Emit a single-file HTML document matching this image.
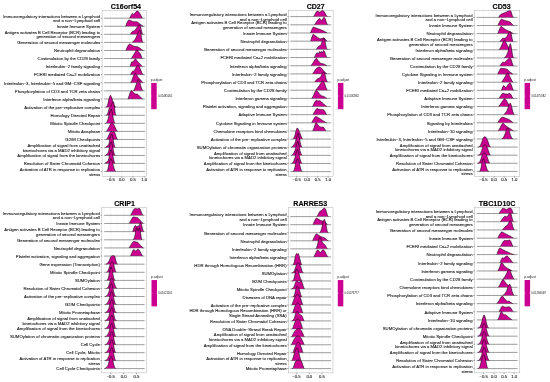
<!DOCTYPE html>
<html lang="en">
<head>
<meta charset="utf-8">
<title>GSEA ridge plots</title>
<style>
html,body{margin:0;padding:0;background:#fff;}
body{width:550px;height:382px;overflow:hidden;}
svg{display:block;font-family:"Liberation Sans",Arial,sans-serif;}
.lab text{stroke:#1a1a1a;stroke-width:1px;}
</style>
</head>
<body>
<svg width="550" height="382" viewBox="0 0 550 382">
<rect x="0" y="0" width="550" height="382" fill="#ffffff"/>
<g>
<line x1="105" y1="10.4" x2="105" y2="176.4" stroke="#f2f2f2" stroke-width="0.3"/>
<line x1="116.2" y1="10.4" x2="116.2" y2="176.4" stroke="#f2f2f2" stroke-width="0.3"/>
<line x1="127.4" y1="10.4" x2="127.4" y2="176.4" stroke="#f2f2f2" stroke-width="0.3"/>
<line x1="138.6" y1="10.4" x2="138.6" y2="176.4" stroke="#f2f2f2" stroke-width="0.3"/>
<line x1="110.6" y1="10.4" x2="110.6" y2="176.4" stroke="#ebebeb" stroke-width="0.45"/>
<line x1="121.8" y1="10.4" x2="121.8" y2="176.4" stroke="#ebebeb" stroke-width="0.45"/>
<line x1="133" y1="10.4" x2="133" y2="176.4" stroke="#ebebeb" stroke-width="0.45"/>
<line x1="144.2" y1="10.4" x2="144.2" y2="176.4" stroke="#ebebeb" stroke-width="0.45"/>
<line x1="102.1" y1="18.2" x2="146.4" y2="18.2" stroke="#ebebeb" stroke-width="0.45"/>
<line x1="102.1" y1="26.27" x2="146.4" y2="26.27" stroke="#ebebeb" stroke-width="0.45"/>
<line x1="102.1" y1="34.33" x2="146.4" y2="34.33" stroke="#ebebeb" stroke-width="0.45"/>
<line x1="102.1" y1="42.4" x2="146.4" y2="42.4" stroke="#ebebeb" stroke-width="0.45"/>
<line x1="102.1" y1="50.47" x2="146.4" y2="50.47" stroke="#ebebeb" stroke-width="0.45"/>
<line x1="102.1" y1="58.53" x2="146.4" y2="58.53" stroke="#ebebeb" stroke-width="0.45"/>
<line x1="102.1" y1="66.6" x2="146.4" y2="66.6" stroke="#ebebeb" stroke-width="0.45"/>
<line x1="102.1" y1="74.67" x2="146.4" y2="74.67" stroke="#ebebeb" stroke-width="0.45"/>
<line x1="102.1" y1="82.73" x2="146.4" y2="82.73" stroke="#ebebeb" stroke-width="0.45"/>
<line x1="102.1" y1="90.86" x2="146.4" y2="90.86" stroke="#ebebeb" stroke-width="0.45"/>
<line x1="102.1" y1="98.98" x2="146.4" y2="98.98" stroke="#ebebeb" stroke-width="0.45"/>
<line x1="102.1" y1="107.15" x2="146.4" y2="107.15" stroke="#ebebeb" stroke-width="0.45"/>
<line x1="102.1" y1="115.31" x2="146.4" y2="115.31" stroke="#ebebeb" stroke-width="0.45"/>
<line x1="102.1" y1="123.37" x2="146.4" y2="123.37" stroke="#ebebeb" stroke-width="0.45"/>
<line x1="102.1" y1="131.42" x2="146.4" y2="131.42" stroke="#ebebeb" stroke-width="0.45"/>
<line x1="102.1" y1="139.47" x2="146.4" y2="139.47" stroke="#ebebeb" stroke-width="0.45"/>
<line x1="102.1" y1="147.46" x2="146.4" y2="147.46" stroke="#ebebeb" stroke-width="0.45"/>
<line x1="102.1" y1="155.46" x2="146.4" y2="155.46" stroke="#ebebeb" stroke-width="0.45"/>
<line x1="102.1" y1="163.45" x2="146.4" y2="163.45" stroke="#ebebeb" stroke-width="0.45"/>
<line x1="102.1" y1="171.45" x2="146.4" y2="171.45" stroke="#ebebeb" stroke-width="0.45"/>
</g>
<g stroke-linejoin="round">
<path d="M129.7 18.2 L130.1 17.33 L130.5 16.52 L130.9 15.77 L131.3 15.03 L131.7 14.25 L132.1 13.66 L132.5 13.53 L132.9 13.97 L133.3 14.3 L133.7 14.16 L134.1 13.86 L134.5 13.51 L134.9 13.08 L135.3 12.58 L135.7 12.1 L136.1 11.68 L136.5 11.22 L136.9 10.85 L137.3 10.7 L137.7 10.86 L138.1 11.24 L138.5 11.69 L138.9 12.15 L139.3 12.69 L139.7 13.29 L140.1 13.93 L140.5 14.65 L140.9 15.41 L141.3 16.18 L141.7 16.97 L142.1 17.78 L142.3 18.2 Z" fill="#cc0090" stroke="none"/>
<path d="M104.2 18.2 L144.8 18.2" stroke="#555" stroke-width="0.55" fill="none"/>
<path d="M129.7 18.2 L130.1 17.33 L130.5 16.52 L130.9 15.77 L131.3 15.03 L131.7 14.25 L132.1 13.66 L132.5 13.53 L132.9 13.97 L133.3 14.3 L133.7 14.16 L134.1 13.86 L134.5 13.51 L134.9 13.08 L135.3 12.58 L135.7 12.1 L136.1 11.68 L136.5 11.22 L136.9 10.85 L137.3 10.7 L137.7 10.86 L138.1 11.24 L138.5 11.69 L138.9 12.15 L139.3 12.69 L139.7 13.29 L140.1 13.93 L140.5 14.65 L140.9 15.41 L141.3 16.18 L141.7 16.97 L142.1 17.78 L142.3 18.2" fill="none" stroke="#1a0014" stroke-width="0.62"/>
<path d="M125.7 26.27 L126.1 25.11 L126.5 24.04 L126.9 23.09 L127.3 22.27 L127.7 21.43 L128.1 20.65 L128.5 20.11 L128.9 19.97 L129.3 20.03 L129.7 20.15 L130.1 20.3 L130.5 20.47 L130.9 20.63 L131.3 20.79 L131.7 20.99 L132.1 21.2 L132.5 21.4 L132.9 21.56 L133.3 21.65 L133.7 21.67 L134.1 21.67 L134.5 21.67 L134.9 21.67 L135.3 21.67 L135.7 21.67 L136.1 21.67 L136.5 21.67 L136.9 21.71 L137.3 21.9 L137.7 22.17 L138.1 22.5 L138.5 22.84 L138.9 23.14 L139.3 23.43 L139.7 23.75 L140.1 24.07 L140.5 24.39 L140.9 24.69 L141.3 24.98 L141.7 25.26 L142.1 25.54 L142.5 25.81 L142.9 26.07 L143.2 26.27 Z" fill="#cc0090" stroke="none"/>
<path d="M104.2 26.27 L144.8 26.27" stroke="#555" stroke-width="0.55" fill="none"/>
<path d="M125.7 26.27 L126.1 25.11 L126.5 24.04 L126.9 23.09 L127.3 22.27 L127.7 21.43 L128.1 20.65 L128.5 20.11 L128.9 19.97 L129.3 20.03 L129.7 20.15 L130.1 20.3 L130.5 20.47 L130.9 20.63 L131.3 20.79 L131.7 20.99 L132.1 21.2 L132.5 21.4 L132.9 21.56 L133.3 21.65 L133.7 21.67 L134.1 21.67 L134.5 21.67 L134.9 21.67 L135.3 21.67 L135.7 21.67 L136.1 21.67 L136.5 21.67 L136.9 21.71 L137.3 21.9 L137.7 22.17 L138.1 22.5 L138.5 22.84 L138.9 23.14 L139.3 23.43 L139.7 23.75 L140.1 24.07 L140.5 24.39 L140.9 24.69 L141.3 24.98 L141.7 25.26 L142.1 25.54 L142.5 25.81 L142.9 26.07 L143.2 26.27" fill="none" stroke="#1a0014" stroke-width="0.62"/>
<path d="M130.5 34.33 L130.9 33.53 L131.3 32.83 L131.7 32.25 L132.1 31.79 L132.5 31.41 L132.9 31.2 L133.3 31.1 L133.7 31.02 L134.1 30.89 L134.5 30.6 L134.9 30.18 L135.3 29.7 L135.7 29.21 L136.1 28.68 L136.5 28.09 L136.9 27.48 L137.3 26.88 L137.7 26.27 L138.1 25.63 L138.5 25.12 L138.9 24.8 L139.3 24.63 L139.7 25.03 L140.1 25.95 L140.5 27.01 L140.9 28.4 L141.3 29.97 L141.7 31.47 L142.1 32.88 L142.5 33.76 L142.9 34.33 Z" fill="#cc0090" stroke="none"/>
<path d="M104.2 34.33 L144.8 34.33" stroke="#555" stroke-width="0.55" fill="none"/>
<path d="M130.5 34.33 L130.9 33.53 L131.3 32.83 L131.7 32.25 L132.1 31.79 L132.5 31.41 L132.9 31.2 L133.3 31.1 L133.7 31.02 L134.1 30.89 L134.5 30.6 L134.9 30.18 L135.3 29.7 L135.7 29.21 L136.1 28.68 L136.5 28.09 L136.9 27.48 L137.3 26.88 L137.7 26.27 L138.1 25.63 L138.5 25.12 L138.9 24.8 L139.3 24.63 L139.7 25.03 L140.1 25.95 L140.5 27.01 L140.9 28.4 L141.3 29.97 L141.7 31.47 L142.1 32.88 L142.5 33.76 L142.9 34.33" fill="none" stroke="#1a0014" stroke-width="0.62"/>
<path d="M132.3 42.4 L132.7 42.02 L133.1 41.62 L133.5 41.18 L133.9 40.72 L134.3 40.24 L134.7 39.73 L135.1 39.18 L135.5 38.57 L135.9 37.85 L136.3 37 L136.7 36.09 L137.1 35.17 L137.5 34.14 L137.9 33.1 L138.3 32.19 L138.7 31.43 L139.1 30.72 L139.5 30.32 L139.9 30.55 L140.3 31.44 L140.7 32.8 L141.1 35.19 L141.5 37.62 L141.9 39.99 L142.3 41.39 L142.7 42.29 L142.8 42.4 Z" fill="#cc0090" stroke="none"/>
<path d="M104.2 42.4 L144.8 42.4" stroke="#555" stroke-width="0.55" fill="none"/>
<path d="M132.3 42.4 L132.7 42.02 L133.1 41.62 L133.5 41.18 L133.9 40.72 L134.3 40.24 L134.7 39.73 L135.1 39.18 L135.5 38.57 L135.9 37.85 L136.3 37 L136.7 36.09 L137.1 35.17 L137.5 34.14 L137.9 33.1 L138.3 32.19 L138.7 31.43 L139.1 30.72 L139.5 30.32 L139.9 30.55 L140.3 31.44 L140.7 32.8 L141.1 35.19 L141.5 37.62 L141.9 39.99 L142.3 41.39 L142.7 42.29 L142.8 42.4" fill="none" stroke="#1a0014" stroke-width="0.62"/>
<path d="M126 50.47 L126.4 49.32 L126.8 48.27 L127.2 47.34 L127.6 46.57 L128 45.84 L128.4 45.14 L128.8 44.56 L129.2 44.21 L129.6 44.18 L130 44.27 L130.4 44.43 L130.8 44.62 L131.2 44.83 L131.6 45.01 L132 45.22 L132.4 45.46 L132.8 45.71 L133.2 45.94 L133.6 46.13 L134 46.27 L134.4 46.35 L134.8 46.42 L135.2 46.47 L135.6 46.51 L136 46.56 L136.4 46.61 L136.8 46.67 L137.2 46.74 L137.6 46.85 L138 47 L138.4 47.19 L138.8 47.4 L139.2 47.63 L139.6 47.87 L140 48.14 L140.4 48.46 L140.8 48.8 L141.2 49.15 L141.6 49.47 L142 49.76 L142.4 50.05 L142.8 50.33 L143 50.47 Z" fill="#cc0090" stroke="none"/>
<path d="M104.2 50.47 L144.8 50.47" stroke="#555" stroke-width="0.55" fill="none"/>
<path d="M126 50.47 L126.4 49.32 L126.8 48.27 L127.2 47.34 L127.6 46.57 L128 45.84 L128.4 45.14 L128.8 44.56 L129.2 44.21 L129.6 44.18 L130 44.27 L130.4 44.43 L130.8 44.62 L131.2 44.83 L131.6 45.01 L132 45.22 L132.4 45.46 L132.8 45.71 L133.2 45.94 L133.6 46.13 L134 46.27 L134.4 46.35 L134.8 46.42 L135.2 46.47 L135.6 46.51 L136 46.56 L136.4 46.61 L136.8 46.67 L137.2 46.74 L137.6 46.85 L138 47 L138.4 47.19 L138.8 47.4 L139.2 47.63 L139.6 47.87 L140 48.14 L140.4 48.46 L140.8 48.8 L141.2 49.15 L141.6 49.47 L142 49.76 L142.4 50.05 L142.8 50.33 L143 50.47" fill="none" stroke="#1a0014" stroke-width="0.62"/>
<path d="M131.3 58.53 L131.7 57.9 L132.1 57.26 L132.5 56.62 L132.9 55.97 L133.3 55.33 L133.7 54.68 L134.1 54.03 L134.5 53.36 L134.9 52.66 L135.3 51.94 L135.7 51.28 L136.1 50.65 L136.5 50.02 L136.9 49.73 L137.3 50.03 L137.7 50.6 L138.1 51.15 L138.5 51.75 L138.9 52.24 L139.3 52.57 L139.7 52.92 L140.1 53.44 L140.5 54.13 L140.9 55.08 L141.3 56.26 L141.7 57.31 L142.1 58.29 L142.2 58.53 Z" fill="#cc0090" stroke="none"/>
<path d="M104.2 58.53 L144.8 58.53" stroke="#555" stroke-width="0.55" fill="none"/>
<path d="M131.3 58.53 L131.7 57.9 L132.1 57.26 L132.5 56.62 L132.9 55.97 L133.3 55.33 L133.7 54.68 L134.1 54.03 L134.5 53.36 L134.9 52.66 L135.3 51.94 L135.7 51.28 L136.1 50.65 L136.5 50.02 L136.9 49.73 L137.3 50.03 L137.7 50.6 L138.1 51.15 L138.5 51.75 L138.9 52.24 L139.3 52.57 L139.7 52.92 L140.1 53.44 L140.5 54.13 L140.9 55.08 L141.3 56.26 L141.7 57.31 L142.1 58.29 L142.2 58.53" fill="none" stroke="#1a0014" stroke-width="0.62"/>
<path d="M130.2 66.6 L130.6 65.03 L131 63.73 L131.4 62.69 L131.8 61.78 L132.2 61.54 L132.6 62.18 L133 62.47 L133.4 61.84 L133.8 61 L134.2 60.25 L134.6 59.6 L135 59.13 L135.4 58.9 L135.8 59.1 L136.2 59.58 L136.6 60.15 L137 60.64 L137.4 61.15 L137.8 61.68 L138.2 62.18 L138.6 62.6 L139 62.97 L139.4 63.32 L139.8 63.7 L140.2 64.11 L140.6 64.54 L141 65 L141.4 65.5 L141.8 66.03 L142.2 66.6 Z" fill="#cc0090" stroke="none"/>
<path d="M104.2 66.6 L144.8 66.6" stroke="#555" stroke-width="0.55" fill="none"/>
<path d="M130.2 66.6 L130.6 65.03 L131 63.73 L131.4 62.69 L131.8 61.78 L132.2 61.54 L132.6 62.18 L133 62.47 L133.4 61.84 L133.8 61 L134.2 60.25 L134.6 59.6 L135 59.13 L135.4 58.9 L135.8 59.1 L136.2 59.58 L136.6 60.15 L137 60.64 L137.4 61.15 L137.8 61.68 L138.2 62.18 L138.6 62.6 L139 62.97 L139.4 63.32 L139.8 63.7 L140.2 64.11 L140.6 64.54 L141 65 L141.4 65.5 L141.8 66.03 L142.2 66.6" fill="none" stroke="#1a0014" stroke-width="0.62"/>
<path d="M130.7 74.67 L131.1 73.65 L131.5 72.79 L131.9 72.11 L132.3 71.49 L132.7 71.17 L133.1 71.12 L133.5 71.1 L133.9 71.03 L134.3 70.64 L134.7 69.97 L135.1 69.2 L135.5 68.5 L135.9 67.73 L136.3 66.93 L136.7 66.23 L137.1 65.77 L137.5 65.43 L137.9 65.27 L138.3 65.46 L138.7 65.95 L139.1 66.58 L139.5 67.23 L139.9 68.02 L140.3 68.96 L140.7 69.95 L141.1 70.9 L141.5 71.92 L141.9 72.89 L142.3 73.62 L142.7 74.18 L143.1 74.59 L143.2 74.67 Z" fill="#cc0090" stroke="none"/>
<path d="M104.2 74.67 L144.8 74.67" stroke="#555" stroke-width="0.55" fill="none"/>
<path d="M130.7 74.67 L131.1 73.65 L131.5 72.79 L131.9 72.11 L132.3 71.49 L132.7 71.17 L133.1 71.12 L133.5 71.1 L133.9 71.03 L134.3 70.64 L134.7 69.97 L135.1 69.2 L135.5 68.5 L135.9 67.73 L136.3 66.93 L136.7 66.23 L137.1 65.77 L137.5 65.43 L137.9 65.27 L138.3 65.46 L138.7 65.95 L139.1 66.58 L139.5 67.23 L139.9 68.02 L140.3 68.96 L140.7 69.95 L141.1 70.9 L141.5 71.92 L141.9 72.89 L142.3 73.62 L142.7 74.18 L143.1 74.59 L143.2 74.67" fill="none" stroke="#1a0014" stroke-width="0.62"/>
<path d="M130.7 82.73 L131.1 81.95 L131.5 81.11 L131.9 80.23 L132.3 79.29 L132.7 78.19 L133.1 77.01 L133.5 75.95 L133.9 75.16 L134.3 74.46 L134.7 73.86 L135.1 73.49 L135.5 73.49 L135.9 73.84 L136.3 74.4 L136.7 75 L137.1 75.56 L137.5 76.21 L137.9 76.89 L138.3 77.53 L138.7 78.05 L139.1 78.48 L139.5 78.86 L139.9 79.23 L140.3 79.61 L140.7 80.05 L141.1 80.56 L141.5 81.11 L141.9 81.62 L142.3 82.06 L142.7 82.46 L143 82.73 Z" fill="#cc0090" stroke="none"/>
<path d="M104.2 82.73 L144.8 82.73" stroke="#555" stroke-width="0.55" fill="none"/>
<path d="M130.7 82.73 L131.1 81.95 L131.5 81.11 L131.9 80.23 L132.3 79.29 L132.7 78.19 L133.1 77.01 L133.5 75.95 L133.9 75.16 L134.3 74.46 L134.7 73.86 L135.1 73.49 L135.5 73.49 L135.9 73.84 L136.3 74.4 L136.7 75 L137.1 75.56 L137.5 76.21 L137.9 76.89 L138.3 77.53 L138.7 78.05 L139.1 78.48 L139.5 78.86 L139.9 79.23 L140.3 79.61 L140.7 80.05 L141.1 80.56 L141.5 81.11 L141.9 81.62 L142.3 82.06 L142.7 82.46 L143 82.73" fill="none" stroke="#1a0014" stroke-width="0.62"/>
<path d="M133.3 90.86 L133.7 90.3 L134.1 89.64 L134.5 88.89 L134.9 88.07 L135.3 87.13 L135.7 86.01 L136.1 84.82 L136.5 83.71 L136.9 82.66 L137.3 81.5 L137.7 80.48 L138.1 79.85 L138.5 79.84 L138.9 80.43 L139.3 81.33 L139.7 82.31 L140.1 83.61 L140.5 85.13 L140.9 86.55 L141.3 87.72 L141.7 88.8 L142.1 89.68 L142.5 90.31 L142.9 90.77 L143 90.86 Z" fill="#cc0090" stroke="none"/>
<path d="M104.2 90.86 L144.8 90.86" stroke="#555" stroke-width="0.55" fill="none"/>
<path d="M133.3 90.86 L133.7 90.3 L134.1 89.64 L134.5 88.89 L134.9 88.07 L135.3 87.13 L135.7 86.01 L136.1 84.82 L136.5 83.71 L136.9 82.66 L137.3 81.5 L137.7 80.48 L138.1 79.85 L138.5 79.84 L138.9 80.43 L139.3 81.33 L139.7 82.31 L140.1 83.61 L140.5 85.13 L140.9 86.55 L141.3 87.72 L141.7 88.8 L142.1 89.68 L142.5 90.31 L142.9 90.77 L143 90.86" fill="none" stroke="#1a0014" stroke-width="0.62"/>
<path d="M128.1 98.98 L128.5 97.62 L128.9 96.34 L129.3 95.17 L129.7 94.12 L130.1 93.01 L130.5 91.91 L130.9 91.04 L131.3 90.6 L131.7 90.68 L132.1 91.04 L132.5 91.55 L132.9 92.06 L133.3 92.47 L133.7 92.84 L134.1 93.23 L134.5 93.57 L134.9 93.83 L135.3 93.98 L135.7 94.03 L136.1 94.07 L136.5 94.09 L136.9 94.12 L137.3 94.18 L137.7 94.34 L138.1 94.64 L138.5 95.04 L138.9 95.47 L139.3 95.88 L139.7 96.27 L140.1 96.67 L140.5 97.08 L140.9 97.48 L141.3 97.87 L141.7 98.25 L142.1 98.62 L142.5 98.98 Z" fill="#cc0090" stroke="none"/>
<path d="M104.2 98.98 L144.8 98.98" stroke="#555" stroke-width="0.55" fill="none"/>
<path d="M128.1 98.98 L128.5 97.62 L128.9 96.34 L129.3 95.17 L129.7 94.12 L130.1 93.01 L130.5 91.91 L130.9 91.04 L131.3 90.6 L131.7 90.68 L132.1 91.04 L132.5 91.55 L132.9 92.06 L133.3 92.47 L133.7 92.84 L134.1 93.23 L134.5 93.57 L134.9 93.83 L135.3 93.98 L135.7 94.03 L136.1 94.07 L136.5 94.09 L136.9 94.12 L137.3 94.18 L137.7 94.34 L138.1 94.64 L138.5 95.04 L138.9 95.47 L139.3 95.88 L139.7 96.27 L140.1 96.67 L140.5 97.08 L140.9 97.48 L141.3 97.87 L141.7 98.25 L142.1 98.62 L142.5 98.98" fill="none" stroke="#1a0014" stroke-width="0.62"/>
<path d="M106.1 107.15 L106.5 106.92 L106.9 106.36 L107.3 105.57 L107.7 104.65 L108.1 103.05 L108.5 101.03 L108.9 99.21 L109.3 97.86 L109.7 96.55 L110.1 95.6 L110.5 95.37 L110.9 95.84 L111.3 96.73 L111.7 97.76 L112.1 98.89 L112.5 100.38 L112.9 101.95 L113.3 103.32 L113.7 104.37 L114.1 105.29 L114.5 106.01 L114.9 106.51 L115.3 106.91 L115.7 107.15 Z" fill="#cc0090" stroke="none"/>
<path d="M104.2 107.15 L144.8 107.15" stroke="#555" stroke-width="0.55" fill="none"/>
<path d="M106.1 107.15 L106.5 106.92 L106.9 106.36 L107.3 105.57 L107.7 104.65 L108.1 103.05 L108.5 101.03 L108.9 99.21 L109.3 97.86 L109.7 96.55 L110.1 95.6 L110.5 95.37 L110.9 95.84 L111.3 96.73 L111.7 97.76 L112.1 98.89 L112.5 100.38 L112.9 101.95 L113.3 103.32 L113.7 104.37 L114.1 105.29 L114.5 106.01 L114.9 106.51 L115.3 106.91 L115.7 107.15" fill="none" stroke="#1a0014" stroke-width="0.62"/>
<path d="M106.5 115.31 L106.9 114.83 L107.3 114.16 L107.7 113.34 L108.1 112.41 L108.5 111.01 L108.9 109.41 L109.3 108.15 L109.7 107.51 L110.1 107.1 L110.5 106.71 L110.9 106.16 L111.3 105.32 L111.7 104.35 L112.1 103.48 L112.5 102.78 L112.9 102.11 L113.3 101.73 L113.7 102.33 L114.1 104.44 L114.5 107.03 L114.9 110.9 L115.3 113.52 L115.7 114.91 L116 115.31 Z" fill="#cc0090" stroke="none"/>
<path d="M104.2 115.31 L144.8 115.31" stroke="#555" stroke-width="0.55" fill="none"/>
<path d="M106.5 115.31 L106.9 114.83 L107.3 114.16 L107.7 113.34 L108.1 112.41 L108.5 111.01 L108.9 109.41 L109.3 108.15 L109.7 107.51 L110.1 107.1 L110.5 106.71 L110.9 106.16 L111.3 105.32 L111.7 104.35 L112.1 103.48 L112.5 102.78 L112.9 102.11 L113.3 101.73 L113.7 102.33 L114.1 104.44 L114.5 107.03 L114.9 110.9 L115.3 113.52 L115.7 114.91 L116 115.31" fill="none" stroke="#1a0014" stroke-width="0.62"/>
<path d="M105.6 123.37 L106 123.21 L106.4 122.8 L106.8 122.23 L107.2 121.57 L107.6 120.61 L108 119.23 L108.4 117.66 L108.8 116.14 L109.2 114.58 L109.6 112.94 L110 111.47 L110.4 110.31 L110.8 109.28 L111.2 109.02 L111.6 110.01 L112 111.68 L112.4 113.44 L112.8 115.69 L113.2 117.96 L113.6 119.73 L114 121.23 L114.4 122.37 L114.8 123.12 L115 123.37 Z" fill="#cc0090" stroke="none"/>
<path d="M104.2 123.37 L144.8 123.37" stroke="#555" stroke-width="0.55" fill="none"/>
<path d="M105.6 123.37 L106 123.21 L106.4 122.8 L106.8 122.23 L107.2 121.57 L107.6 120.61 L108 119.23 L108.4 117.66 L108.8 116.14 L109.2 114.58 L109.6 112.94 L110 111.47 L110.4 110.31 L110.8 109.28 L111.2 109.02 L111.6 110.01 L112 111.68 L112.4 113.44 L112.8 115.69 L113.2 117.96 L113.6 119.73 L114 121.23 L114.4 122.37 L114.8 123.12 L115 123.37" fill="none" stroke="#1a0014" stroke-width="0.62"/>
<path d="M106.5 131.42 L106.9 130.83 L107.3 130.21 L107.7 129.54 L108.1 128.84 L108.5 128.05 L108.9 127.22 L109.3 126.4 L109.7 125.63 L110.1 124.8 L110.5 124.03 L110.9 123.49 L111.3 123.25 L111.7 123.06 L112.1 122.95 L112.5 122.93 L112.9 123.21 L113.3 123.75 L113.7 124.42 L114.1 125.08 L114.5 125.89 L114.9 126.83 L115.3 127.77 L115.7 128.62 L116.1 129.43 L116.5 130.17 L116.9 130.74 L117.3 131.18 L117.6 131.42 Z" fill="#cc0090" stroke="none"/>
<path d="M104.2 131.42 L144.8 131.42" stroke="#555" stroke-width="0.55" fill="none"/>
<path d="M106.5 131.42 L106.9 130.83 L107.3 130.21 L107.7 129.54 L108.1 128.84 L108.5 128.05 L108.9 127.22 L109.3 126.4 L109.7 125.63 L110.1 124.8 L110.5 124.03 L110.9 123.49 L111.3 123.25 L111.7 123.06 L112.1 122.95 L112.5 122.93 L112.9 123.21 L113.3 123.75 L113.7 124.42 L114.1 125.08 L114.5 125.89 L114.9 126.83 L115.3 127.77 L115.7 128.62 L116.1 129.43 L116.5 130.17 L116.9 130.74 L117.3 131.18 L117.6 131.42" fill="none" stroke="#1a0014" stroke-width="0.62"/>
<path d="M106.5 139.47 L106.9 138.92 L107.3 138.3 L107.7 137.61 L108.1 136.87 L108.5 135.98 L108.9 134.99 L109.3 134.06 L109.7 133.29 L110.1 132.54 L110.5 131.86 L110.9 131.43 L111.3 131.42 L111.7 131.72 L112.1 132.09 L112.5 132.27 L112.9 132.11 L113.3 131.77 L113.7 131.46 L114.1 131.4 L114.5 131.98 L114.9 133.04 L115.3 134.21 L115.7 135.32 L116.1 136.58 L116.5 137.73 L116.9 138.6 L117.3 139.32 L117.4 139.47 Z" fill="#cc0090" stroke="none"/>
<path d="M104.2 139.47 L144.8 139.47" stroke="#555" stroke-width="0.55" fill="none"/>
<path d="M106.5 139.47 L106.9 138.92 L107.3 138.3 L107.7 137.61 L108.1 136.87 L108.5 135.98 L108.9 134.99 L109.3 134.06 L109.7 133.29 L110.1 132.54 L110.5 131.86 L110.9 131.43 L111.3 131.42 L111.7 131.72 L112.1 132.09 L112.5 132.27 L112.9 132.11 L113.3 131.77 L113.7 131.46 L114.1 131.4 L114.5 131.98 L114.9 133.04 L115.3 134.21 L115.7 135.32 L116.1 136.58 L116.5 137.73 L116.9 138.6 L117.3 139.32 L117.4 139.47" fill="none" stroke="#1a0014" stroke-width="0.62"/>
<path d="M105.4 147.46 L105.8 146.98 L106.2 146.56 L106.6 146.26 L107 146.09 L107.4 145.96 L107.8 145.76 L108.2 145.3 L108.6 144.52 L109 143.46 L109.4 141.47 L109.8 139.05 L110.2 137.2 L110.6 135.98 L111 134.89 L111.4 134.15 L111.8 134.01 L112.2 135.03 L112.6 136.74 L113 138.59 L113.4 140.97 L113.8 143.21 L114.2 145.07 L114.6 146.46 L115 147.25 L115.2 147.46 Z" fill="#cc0090" stroke="none"/>
<path d="M104.2 147.46 L144.8 147.46" stroke="#555" stroke-width="0.55" fill="none"/>
<path d="M105.4 147.46 L105.8 146.98 L106.2 146.56 L106.6 146.26 L107 146.09 L107.4 145.96 L107.8 145.76 L108.2 145.3 L108.6 144.52 L109 143.46 L109.4 141.47 L109.8 139.05 L110.2 137.2 L110.6 135.98 L111 134.89 L111.4 134.15 L111.8 134.01 L112.2 135.03 L112.6 136.74 L113 138.59 L113.4 140.97 L113.8 143.21 L114.2 145.07 L114.6 146.46 L115 147.25 L115.2 147.46" fill="none" stroke="#1a0014" stroke-width="0.62"/>
<path d="M105.4 155.46 L105.8 154.95 L106.2 154.51 L106.6 154.16 L107 153.93 L107.4 153.72 L107.8 153.32 L108.2 152.56 L108.6 151.51 L109 149.71 L109.4 147.27 L109.8 145.12 L110.2 143.71 L110.6 142.47 L111 141.79 L111.4 142.08 L111.8 143.26 L112.2 144.82 L112.6 146.4 L113 148.34 L113.4 150.34 L113.8 152.05 L114.2 153.62 L114.6 154.66 L115 155.29 L115.2 155.46 Z" fill="#cc0090" stroke="none"/>
<path d="M104.2 155.46 L144.8 155.46" stroke="#555" stroke-width="0.55" fill="none"/>
<path d="M105.4 155.46 L105.8 154.95 L106.2 154.51 L106.6 154.16 L107 153.93 L107.4 153.72 L107.8 153.32 L108.2 152.56 L108.6 151.51 L109 149.71 L109.4 147.27 L109.8 145.12 L110.2 143.71 L110.6 142.47 L111 141.79 L111.4 142.08 L111.8 143.26 L112.2 144.82 L112.6 146.4 L113 148.34 L113.4 150.34 L113.8 152.05 L114.2 153.62 L114.6 154.66 L115 155.29 L115.2 155.46" fill="none" stroke="#1a0014" stroke-width="0.62"/>
<path d="M104.8 163.45 L105.2 163.07 L105.6 162.73 L106 162.42 L106.4 162.15 L106.8 161.96 L107.2 161.8 L107.6 161.55 L108 160.99 L108.4 160.06 L108.8 158.74 L109.2 156.51 L109.6 154.09 L110 152.4 L110.4 151.05 L110.8 150.03 L111.2 149.79 L111.6 150.59 L112 152.02 L112.4 153.58 L112.8 155.33 L113.2 157.36 L113.6 159.22 L114 160.87 L114.4 162.22 L114.8 163.01 L115.2 163.45 Z" fill="#cc0090" stroke="none"/>
<path d="M104.2 163.45 L144.8 163.45" stroke="#555" stroke-width="0.55" fill="none"/>
<path d="M104.8 163.45 L105.2 163.07 L105.6 162.73 L106 162.42 L106.4 162.15 L106.8 161.96 L107.2 161.8 L107.6 161.55 L108 160.99 L108.4 160.06 L108.8 158.74 L109.2 156.51 L109.6 154.09 L110 152.4 L110.4 151.05 L110.8 150.03 L111.2 149.79 L111.6 150.59 L112 152.02 L112.4 153.58 L112.8 155.33 L113.2 157.36 L113.6 159.22 L114 160.87 L114.4 162.22 L114.8 163.01 L115.2 163.45" fill="none" stroke="#1a0014" stroke-width="0.62"/>
<path d="M106.5 171.45 L106.9 171.19 L107.3 170.54 L107.7 169.68 L108.1 168.42 L108.5 166.38 L108.9 164.22 L109.3 162.6 L109.7 161.17 L110.1 159.87 L110.5 158.98 L110.9 158.77 L111.3 159.24 L111.7 160.12 L112.1 161.15 L112.5 162.3 L112.9 163.8 L113.3 165.41 L113.7 166.88 L114.1 168.39 L114.5 169.76 L114.9 170.61 L115.3 171.17 L115.7 171.45 Z" fill="#cc0090" stroke="none"/>
<path d="M104.2 171.45 L144.8 171.45" stroke="#555" stroke-width="0.55" fill="none"/>
<path d="M106.5 171.45 L106.9 171.19 L107.3 170.54 L107.7 169.68 L108.1 168.42 L108.5 166.38 L108.9 164.22 L109.3 162.6 L109.7 161.17 L110.1 159.87 L110.5 158.98 L110.9 158.77 L111.3 159.24 L111.7 160.12 L112.1 161.15 L112.5 162.3 L112.9 163.8 L113.3 165.41 L113.7 166.88 L114.1 168.39 L114.5 169.76 L114.9 170.61 L115.3 171.17 L115.7 171.45" fill="none" stroke="#1a0014" stroke-width="0.62"/>
</g>
<rect x="102.1" y="10.4" width="44.3" height="166" fill="none" stroke="#a8a8a8" stroke-width="0.45"/>
<g class="lab" transform="scale(0.1)" font-size="42.4" fill="#1a1a1a" text-anchor="end">
<text x="1002" y="177.5">Immunoregulatory interactions between a Lymphoid</text>
<text x="1002" y="222.5">and a non−Lymphoid cell</text>
<text x="1002" y="280.67">Innate Immune System</text>
<text x="1002" y="338.83">Antigen activates B Cell Receptor (BCR) leading to</text>
<text x="1002" y="383.83">generation of second messengers</text>
<text x="1002" y="442">Generation of second messenger molecules</text>
<text x="1002" y="522.67">Neutrophil degranulation</text>
<text x="1002" y="603.33">Costimulation by the CD28 family</text>
<text x="1002" y="684">Interleukin−2 family signaling</text>
<text x="1002" y="764.67">FCERI mediated Ca+2 mobilization</text>
<text x="1002" y="845.33">Interleukin−3, Interleukin−5 and GM−CSF signaling</text>
<text x="1002" y="926.56">Phosphorylation of CD3 and TCR zeta chains</text>
<text x="1002" y="1007.79">Interferon alpha/beta signaling</text>
<text x="1002" y="1089.47">Activation of the pre−replicative complex</text>
<text x="1002" y="1171.15">Homology Directed Repair</text>
<text x="1002" y="1251.66">Mitotic Spindle Checkpoint</text>
<text x="1002" y="1332.17">Mitotic Anaphase</text>
<text x="1002" y="1412.68">G2/M Checkpoints</text>
<text x="1002" y="1470.14">Amplification of signal from unattached</text>
<text x="1002" y="1515.14">kinetochores via a MAD2 inhibitory signal</text>
<text x="1002" y="1572.59">Amplification of signal from the kinetochores</text>
<text x="1002" y="1652.55">Resolution of Sister Chromatid Cohesion</text>
<text x="1002" y="1710">Activation of ATR in response to replication</text>
<text x="1002" y="1755">stress</text>
</g>
<g stroke="#444" stroke-width="0.5">
<line x1="100.8" y1="18.2" x2="102.1" y2="18.2"/>
<line x1="100.8" y1="26.27" x2="102.1" y2="26.27"/>
<line x1="100.8" y1="34.33" x2="102.1" y2="34.33"/>
<line x1="100.8" y1="42.4" x2="102.1" y2="42.4"/>
<line x1="100.8" y1="50.47" x2="102.1" y2="50.47"/>
<line x1="100.8" y1="58.53" x2="102.1" y2="58.53"/>
<line x1="100.8" y1="66.6" x2="102.1" y2="66.6"/>
<line x1="100.8" y1="74.67" x2="102.1" y2="74.67"/>
<line x1="100.8" y1="82.73" x2="102.1" y2="82.73"/>
<line x1="100.8" y1="90.86" x2="102.1" y2="90.86"/>
<line x1="100.8" y1="98.98" x2="102.1" y2="98.98"/>
<line x1="100.8" y1="107.15" x2="102.1" y2="107.15"/>
<line x1="100.8" y1="115.31" x2="102.1" y2="115.31"/>
<line x1="100.8" y1="123.37" x2="102.1" y2="123.37"/>
<line x1="100.8" y1="131.42" x2="102.1" y2="131.42"/>
<line x1="100.8" y1="139.47" x2="102.1" y2="139.47"/>
<line x1="100.8" y1="147.46" x2="102.1" y2="147.46"/>
<line x1="100.8" y1="155.46" x2="102.1" y2="155.46"/>
<line x1="100.8" y1="163.45" x2="102.1" y2="163.45"/>
<line x1="100.8" y1="171.45" x2="102.1" y2="171.45"/>
<line x1="110.6" y1="176.4" x2="110.6" y2="177.7"/>
<line x1="121.8" y1="176.4" x2="121.8" y2="177.7"/>
<line x1="133" y1="176.4" x2="133" y2="177.7"/>
<line x1="144.2" y1="176.4" x2="144.2" y2="177.7"/>
</g>
<g class="lab" transform="scale(0.1)" font-size="42" fill="#1a1a1a" text-anchor="middle">
<text x="1106" y="1813">−0.5</text>
<text x="1218" y="1813">0.0</text>
<text x="1330" y="1813">0.5</text>
<text x="1442" y="1813">1.0</text>
</g>
<text transform="scale(0.1)" x="1259" y="88" font-size="71" font-weight="bold" fill="#000" stroke="#000" stroke-width="1.2" text-anchor="middle">C16orf54</text>
<text transform="scale(0.1)" x="1508" y="807" font-size="33" fill="#222">p.adjust</text>
<rect x="151.2" y="82.9" width="5.5" height="26.3" fill="#cc0090"/>
<path d="M151.2 96.05 h1.1 M156.7 96.05 h-1.1" stroke="#fff" stroke-width="0.3" fill="none"/>
<text transform="scale(0.1)" x="1579" y="972" font-size="27.2" fill="#111">0.01481061</text>
<g>
<line x1="291.3" y1="10.4" x2="291.3" y2="176.4" stroke="#f2f2f2" stroke-width="0.3"/>
<line x1="301.9" y1="10.4" x2="301.9" y2="176.4" stroke="#f2f2f2" stroke-width="0.3"/>
<line x1="312.35" y1="10.4" x2="312.35" y2="176.4" stroke="#f2f2f2" stroke-width="0.3"/>
<line x1="322.85" y1="10.4" x2="322.85" y2="176.4" stroke="#f2f2f2" stroke-width="0.3"/>
<line x1="296.6" y1="10.4" x2="296.6" y2="176.4" stroke="#ebebeb" stroke-width="0.45"/>
<line x1="307.2" y1="10.4" x2="307.2" y2="176.4" stroke="#ebebeb" stroke-width="0.45"/>
<line x1="317.65" y1="10.4" x2="317.65" y2="176.4" stroke="#ebebeb" stroke-width="0.45"/>
<line x1="328.15" y1="10.4" x2="328.15" y2="176.4" stroke="#ebebeb" stroke-width="0.45"/>
<line x1="288.6" y1="16.6" x2="333.1" y2="16.6" stroke="#ebebeb" stroke-width="0.45"/>
<line x1="288.6" y1="24.8" x2="333.1" y2="24.8" stroke="#ebebeb" stroke-width="0.45"/>
<line x1="288.6" y1="32.99" x2="333.1" y2="32.99" stroke="#ebebeb" stroke-width="0.45"/>
<line x1="288.6" y1="41.18" x2="333.1" y2="41.18" stroke="#ebebeb" stroke-width="0.45"/>
<line x1="288.6" y1="49.36" x2="333.1" y2="49.36" stroke="#ebebeb" stroke-width="0.45"/>
<line x1="288.6" y1="57.54" x2="333.1" y2="57.54" stroke="#ebebeb" stroke-width="0.45"/>
<line x1="288.6" y1="65.72" x2="333.1" y2="65.72" stroke="#ebebeb" stroke-width="0.45"/>
<line x1="288.6" y1="73.89" x2="333.1" y2="73.89" stroke="#ebebeb" stroke-width="0.45"/>
<line x1="288.6" y1="82.06" x2="333.1" y2="82.06" stroke="#ebebeb" stroke-width="0.45"/>
<line x1="288.6" y1="90.22" x2="333.1" y2="90.22" stroke="#ebebeb" stroke-width="0.45"/>
<line x1="288.6" y1="98.38" x2="333.1" y2="98.38" stroke="#ebebeb" stroke-width="0.45"/>
<line x1="288.6" y1="106.53" x2="333.1" y2="106.53" stroke="#ebebeb" stroke-width="0.45"/>
<line x1="288.6" y1="114.68" x2="333.1" y2="114.68" stroke="#ebebeb" stroke-width="0.45"/>
<line x1="288.6" y1="122.83" x2="333.1" y2="122.83" stroke="#ebebeb" stroke-width="0.45"/>
<line x1="288.6" y1="130.97" x2="333.1" y2="130.97" stroke="#ebebeb" stroke-width="0.45"/>
<line x1="288.6" y1="139.1" x2="333.1" y2="139.1" stroke="#ebebeb" stroke-width="0.45"/>
<line x1="288.6" y1="147.23" x2="333.1" y2="147.23" stroke="#ebebeb" stroke-width="0.45"/>
<line x1="288.6" y1="155.36" x2="333.1" y2="155.36" stroke="#ebebeb" stroke-width="0.45"/>
<line x1="288.6" y1="163.48" x2="333.1" y2="163.48" stroke="#ebebeb" stroke-width="0.45"/>
<line x1="288.6" y1="171.6" x2="333.1" y2="171.6" stroke="#ebebeb" stroke-width="0.45"/>
</g>
<g stroke-linejoin="round">
<path d="M313.8 16.6 L314.2 15.74 L314.6 14.92 L315 14.16 L315.4 13.44 L315.8 12.73 L316.2 12.09 L316.6 11.6 L317 11.22 L317.4 10.94 L317.8 10.94 L318.2 11.21 L318.6 11.55 L319 11.84 L319.4 12.15 L319.8 12.3 L320.2 12.09 L320.6 11.63 L321 11.2 L321.4 10.85 L321.8 10.5 L322.2 10.31 L322.6 10.35 L323 10.55 L323.4 10.84 L323.8 11.19 L324.2 11.7 L324.6 12.34 L325 13 L325.4 13.72 L325.8 14.51 L326.2 15.2 L326.6 15.77 L327 16.27 L327.3 16.6 Z" fill="#cc0090" stroke="none"/>
<path d="M290.4 16.6 L330.9 16.6" stroke="#555" stroke-width="0.55" fill="none"/>
<path d="M313.8 16.6 L314.2 15.74 L314.6 14.92 L315 14.16 L315.4 13.44 L315.8 12.73 L316.2 12.09 L316.6 11.6 L317 11.22 L317.4 10.94 L317.8 10.94 L318.2 11.21 L318.6 11.55 L319 11.84 L319.4 12.15 L319.8 12.3 L320.2 12.09 L320.6 11.63 L321 11.2 L321.4 10.85 L321.8 10.5 L322.2 10.31 L322.6 10.35 L323 10.55 L323.4 10.84 L323.8 11.19 L324.2 11.7 L324.6 12.34 L325 13 L325.4 13.72 L325.8 14.51 L326.2 15.2 L326.6 15.77 L327 16.27 L327.3 16.6" fill="none" stroke="#1a0014" stroke-width="0.62"/>
<path d="M314.5 24.8 L314.9 24.15 L315.3 23.53 L315.7 22.92 L316.1 22.34 L316.5 21.77 L316.9 21.2 L317.3 20.66 L317.7 20.15 L318.1 19.7 L318.5 19.28 L318.9 18.86 L319.3 18.53 L319.7 18.4 L320.1 18.63 L320.5 19.14 L320.9 19.69 L321.3 20.17 L321.7 20.57 L322.1 20.3 L322.5 19.4 L322.9 18.64 L323.3 17.98 L323.7 17.45 L324.1 17.31 L324.5 17.65 L324.9 18.27 L325.3 19 L325.7 20.15 L326.1 21.51 L326.5 22.65 L326.9 23.59 L327.3 24.42 L327.5 24.8 Z" fill="#cc0090" stroke="none"/>
<path d="M290.4 24.8 L330.9 24.8" stroke="#555" stroke-width="0.55" fill="none"/>
<path d="M314.5 24.8 L314.9 24.15 L315.3 23.53 L315.7 22.92 L316.1 22.34 L316.5 21.77 L316.9 21.2 L317.3 20.66 L317.7 20.15 L318.1 19.7 L318.5 19.28 L318.9 18.86 L319.3 18.53 L319.7 18.4 L320.1 18.63 L320.5 19.14 L320.9 19.69 L321.3 20.17 L321.7 20.57 L322.1 20.3 L322.5 19.4 L322.9 18.64 L323.3 17.98 L323.7 17.45 L324.1 17.31 L324.5 17.65 L324.9 18.27 L325.3 19 L325.7 20.15 L326.1 21.51 L326.5 22.65 L326.9 23.59 L327.3 24.42 L327.5 24.8" fill="none" stroke="#1a0014" stroke-width="0.62"/>
<path d="M310.5 32.99 L310.9 31.85 L311.3 30.8 L311.7 29.89 L312.1 29.1 L312.5 28.29 L312.9 27.59 L313.3 27.15 L313.7 27.1 L314.1 27.18 L314.5 27.32 L314.9 27.5 L315.3 27.69 L315.7 27.87 L316.1 28.03 L316.5 28.17 L316.9 28.32 L317.3 28.47 L317.7 28.61 L318.1 28.76 L318.5 28.91 L318.9 29.05 L319.3 29.2 L319.7 29.34 L320.1 29.48 L320.5 29.62 L320.9 29.77 L321.3 29.91 L321.7 30.07 L322.1 30.23 L322.5 30.41 L322.9 30.59 L323.3 30.78 L323.7 30.98 L324.1 31.19 L324.5 31.4 L324.9 31.63 L325.3 31.86 L325.7 32.11 L326.1 32.35 L326.5 32.6 L326.9 32.86 L327.1 32.99 Z" fill="#cc0090" stroke="none"/>
<path d="M290.4 32.99 L330.9 32.99" stroke="#555" stroke-width="0.55" fill="none"/>
<path d="M310.5 32.99 L310.9 31.85 L311.3 30.8 L311.7 29.89 L312.1 29.1 L312.5 28.29 L312.9 27.59 L313.3 27.15 L313.7 27.1 L314.1 27.18 L314.5 27.32 L314.9 27.5 L315.3 27.69 L315.7 27.87 L316.1 28.03 L316.5 28.17 L316.9 28.32 L317.3 28.47 L317.7 28.61 L318.1 28.76 L318.5 28.91 L318.9 29.05 L319.3 29.2 L319.7 29.34 L320.1 29.48 L320.5 29.62 L320.9 29.77 L321.3 29.91 L321.7 30.07 L322.1 30.23 L322.5 30.41 L322.9 30.59 L323.3 30.78 L323.7 30.98 L324.1 31.19 L324.5 31.4 L324.9 31.63 L325.3 31.86 L325.7 32.11 L326.1 32.35 L326.5 32.6 L326.9 32.86 L327.1 32.99" fill="none" stroke="#1a0014" stroke-width="0.62"/>
<path d="M310.8 41.18 L311.2 39.55 L311.6 38.11 L312 36.89 L312.4 35.64 L312.8 34.66 L313.2 34.39 L313.6 34.52 L314 34.78 L314.4 35.11 L314.8 35.44 L315.2 35.71 L315.6 35.99 L316 36.28 L316.4 36.57 L316.8 36.86 L317.2 37.13 L317.6 37.38 L318 37.64 L318.4 37.91 L318.8 38.18 L319.2 38.43 L319.6 38.63 L320 38.75 L320.4 38.78 L320.8 38.74 L321.2 38.66 L321.6 38.55 L322 38.44 L322.4 38.31 L322.8 38.13 L323.2 37.96 L323.6 37.88 L324 38.02 L324.4 38.36 L324.8 38.78 L325.2 39.19 L325.6 39.67 L326 40.16 L326.4 40.58 L326.8 40.94 L327.1 41.18 Z" fill="#cc0090" stroke="none"/>
<path d="M290.4 41.18 L330.9 41.18" stroke="#555" stroke-width="0.55" fill="none"/>
<path d="M310.8 41.18 L311.2 39.55 L311.6 38.11 L312 36.89 L312.4 35.64 L312.8 34.66 L313.2 34.39 L313.6 34.52 L314 34.78 L314.4 35.11 L314.8 35.44 L315.2 35.71 L315.6 35.99 L316 36.28 L316.4 36.57 L316.8 36.86 L317.2 37.13 L317.6 37.38 L318 37.64 L318.4 37.91 L318.8 38.18 L319.2 38.43 L319.6 38.63 L320 38.75 L320.4 38.78 L320.8 38.74 L321.2 38.66 L321.6 38.55 L322 38.44 L322.4 38.31 L322.8 38.13 L323.2 37.96 L323.6 37.88 L324 38.02 L324.4 38.36 L324.8 38.78 L325.2 39.19 L325.6 39.67 L326 40.16 L326.4 40.58 L326.8 40.94 L327.1 41.18" fill="none" stroke="#1a0014" stroke-width="0.62"/>
<path d="M316.4 49.36 L316.8 48.63 L317.2 47.97 L317.6 47.4 L318 46.94 L318.4 46.52 L318.8 46.17 L319.2 45.91 L319.6 45.77 L320 45.69 L320.4 45.56 L320.8 45.08 L321.2 44.18 L321.6 43.16 L322 41.9 L322.4 40.45 L322.8 39.36 L323.2 38.65 L323.6 38.11 L324 38.01 L324.4 38.96 L324.8 40.55 L325.2 42.26 L325.6 44.46 L326 46.36 L326.4 47.7 L326.8 48.78 L327.1 49.36 Z" fill="#cc0090" stroke="none"/>
<path d="M290.4 49.36 L330.9 49.36" stroke="#555" stroke-width="0.55" fill="none"/>
<path d="M316.4 49.36 L316.8 48.63 L317.2 47.97 L317.6 47.4 L318 46.94 L318.4 46.52 L318.8 46.17 L319.2 45.91 L319.6 45.77 L320 45.69 L320.4 45.56 L320.8 45.08 L321.2 44.18 L321.6 43.16 L322 41.9 L322.4 40.45 L322.8 39.36 L323.2 38.65 L323.6 38.11 L324 38.01 L324.4 38.96 L324.8 40.55 L325.2 42.26 L325.6 44.46 L326 46.36 L326.4 47.7 L326.8 48.78 L327.1 49.36" fill="none" stroke="#1a0014" stroke-width="0.62"/>
<path d="M314.4 57.54 L314.8 56.62 L315.2 55.76 L315.6 54.94 L316 54.12 L316.4 53.39 L316.8 52.96 L317.2 52.74 L317.6 52.94 L318 53.24 L318.4 53.46 L318.8 53.47 L319.2 52.42 L319.6 51.62 L320 51.4 L320.4 52.16 L320.8 52.88 L321.2 52.24 L321.6 51.57 L322 51.94 L322.4 52.68 L322.8 52.08 L323.2 50.96 L323.6 50.44 L324 50.74 L324.4 51.34 L324.8 52.23 L325.2 53.38 L325.6 54.5 L326 55.64 L326.4 56.59 L326.8 57.37 L326.9 57.54 Z" fill="#cc0090" stroke="none"/>
<path d="M290.4 57.54 L330.9 57.54" stroke="#555" stroke-width="0.55" fill="none"/>
<path d="M314.4 57.54 L314.8 56.62 L315.2 55.76 L315.6 54.94 L316 54.12 L316.4 53.39 L316.8 52.96 L317.2 52.74 L317.6 52.94 L318 53.24 L318.4 53.46 L318.8 53.47 L319.2 52.42 L319.6 51.62 L320 51.4 L320.4 52.16 L320.8 52.88 L321.2 52.24 L321.6 51.57 L322 51.94 L322.4 52.68 L322.8 52.08 L323.2 50.96 L323.6 50.44 L324 50.74 L324.4 51.34 L324.8 52.23 L325.2 53.38 L325.6 54.5 L326 55.64 L326.4 56.59 L326.8 57.37 L326.9 57.54" fill="none" stroke="#1a0014" stroke-width="0.62"/>
<path d="M310.8 65.72 L311.2 65.27 L311.6 64.78 L312 64.28 L312.4 63.75 L312.8 63.2 L313.2 62.62 L313.6 61.97 L314 61.28 L314.4 60.61 L314.8 59.99 L315.2 59.45 L315.6 58.88 L316 58.41 L316.4 58.22 L316.8 58.49 L317.2 59.12 L317.6 59.83 L318 60.38 L318.4 60.93 L318.8 61.46 L319.2 61.94 L319.6 62.32 L320 62.63 L320.4 62.92 L320.8 63.17 L321.2 63.37 L321.6 63.52 L322 63.62 L322.4 63.69 L322.8 63.75 L323.2 63.82 L323.6 63.92 L324 64.06 L324.4 64.25 L324.8 64.47 L325.2 64.7 L325.6 64.92 L326 65.14 L326.4 65.37 L326.8 65.6 L327 65.72 Z" fill="#cc0090" stroke="none"/>
<path d="M290.4 65.72 L330.9 65.72" stroke="#555" stroke-width="0.55" fill="none"/>
<path d="M310.8 65.72 L311.2 65.27 L311.6 64.78 L312 64.28 L312.4 63.75 L312.8 63.2 L313.2 62.62 L313.6 61.97 L314 61.28 L314.4 60.61 L314.8 59.99 L315.2 59.45 L315.6 58.88 L316 58.41 L316.4 58.22 L316.8 58.49 L317.2 59.12 L317.6 59.83 L318 60.38 L318.4 60.93 L318.8 61.46 L319.2 61.94 L319.6 62.32 L320 62.63 L320.4 62.92 L320.8 63.17 L321.2 63.37 L321.6 63.52 L322 63.62 L322.4 63.69 L322.8 63.75 L323.2 63.82 L323.6 63.92 L324 64.06 L324.4 64.25 L324.8 64.47 L325.2 64.7 L325.6 64.92 L326 65.14 L326.4 65.37 L326.8 65.6 L327 65.72" fill="none" stroke="#1a0014" stroke-width="0.62"/>
<path d="M312.7 73.89 L313.1 73.22 L313.5 72.56 L313.9 71.93 L314.3 71.33 L314.7 70.75 L315.1 70.15 L315.5 69.55 L315.9 69 L316.3 68.54 L316.7 68.22 L317.1 67.96 L317.5 67.71 L317.9 67.49 L318.3 67.3 L318.7 67.17 L319.1 67.1 L319.5 67.1 L319.9 67.2 L320.3 67.38 L320.7 67.62 L321.1 67.88 L321.5 68.17 L321.9 68.57 L322.3 69.09 L322.7 69.64 L323.1 70.17 L323.5 70.64 L323.9 71.1 L324.3 71.56 L324.7 71.99 L325.1 72.4 L325.5 72.77 L325.9 73.12 L326.3 73.44 L326.7 73.75 L326.9 73.89 Z" fill="#cc0090" stroke="none"/>
<path d="M290.4 73.89 L330.9 73.89" stroke="#555" stroke-width="0.55" fill="none"/>
<path d="M312.7 73.89 L313.1 73.22 L313.5 72.56 L313.9 71.93 L314.3 71.33 L314.7 70.75 L315.1 70.15 L315.5 69.55 L315.9 69 L316.3 68.54 L316.7 68.22 L317.1 67.96 L317.5 67.71 L317.9 67.49 L318.3 67.3 L318.7 67.17 L319.1 67.1 L319.5 67.1 L319.9 67.2 L320.3 67.38 L320.7 67.62 L321.1 67.88 L321.5 68.17 L321.9 68.57 L322.3 69.09 L322.7 69.64 L323.1 70.17 L323.5 70.64 L323.9 71.1 L324.3 71.56 L324.7 71.99 L325.1 72.4 L325.5 72.77 L325.9 73.12 L326.3 73.44 L326.7 73.75 L326.9 73.89" fill="none" stroke="#1a0014" stroke-width="0.62"/>
<path d="M314.8 82.06 L315.2 81.42 L315.6 80.83 L316 80.31 L316.4 79.86 L316.8 79.46 L317.2 79.1 L317.6 78.82 L318 78.61 L318.4 78.47 L318.8 78.34 L319.2 78.17 L319.6 77.92 L320 77.53 L320.4 77.04 L320.8 76.47 L321.2 75.86 L321.6 75.04 L322 74.05 L322.4 73.17 L322.8 72.61 L323.2 72.16 L323.6 71.96 L324 72.29 L324.4 73.08 L324.8 74.06 L325.2 75.49 L325.6 77.33 L326 78.86 L326.4 79.94 L326.8 80.89 L327.2 81.65 L327.5 82.06 Z" fill="#cc0090" stroke="none"/>
<path d="M290.4 82.06 L330.9 82.06" stroke="#555" stroke-width="0.55" fill="none"/>
<path d="M314.8 82.06 L315.2 81.42 L315.6 80.83 L316 80.31 L316.4 79.86 L316.8 79.46 L317.2 79.1 L317.6 78.82 L318 78.61 L318.4 78.47 L318.8 78.34 L319.2 78.17 L319.6 77.92 L320 77.53 L320.4 77.04 L320.8 76.47 L321.2 75.86 L321.6 75.04 L322 74.05 L322.4 73.17 L322.8 72.61 L323.2 72.16 L323.6 71.96 L324 72.29 L324.4 73.08 L324.8 74.06 L325.2 75.49 L325.6 77.33 L326 78.86 L326.4 79.94 L326.8 80.89 L327.2 81.65 L327.5 82.06" fill="none" stroke="#1a0014" stroke-width="0.62"/>
<path d="M315.8 90.22 L316.2 89.69 L316.6 89.15 L317 88.62 L317.4 88.09 L317.8 87.56 L318.2 87.03 L318.6 86.51 L319 85.98 L319.4 85.42 L319.8 84.81 L320.2 84.15 L320.6 83.49 L321 82.89 L321.4 82.35 L321.8 81.79 L322.2 81.3 L322.6 81.03 L323 81.11 L323.4 81.47 L323.8 82 L324.2 82.62 L324.6 83.52 L325 84.76 L325.4 86.05 L325.8 87.14 L326.2 88.14 L326.6 89.1 L327 90 L327.1 90.22 Z" fill="#cc0090" stroke="none"/>
<path d="M290.4 90.22 L330.9 90.22" stroke="#555" stroke-width="0.55" fill="none"/>
<path d="M315.8 90.22 L316.2 89.69 L316.6 89.15 L317 88.62 L317.4 88.09 L317.8 87.56 L318.2 87.03 L318.6 86.51 L319 85.98 L319.4 85.42 L319.8 84.81 L320.2 84.15 L320.6 83.49 L321 82.89 L321.4 82.35 L321.8 81.79 L322.2 81.3 L322.6 81.03 L323 81.11 L323.4 81.47 L323.8 82 L324.2 82.62 L324.6 83.52 L325 84.76 L325.4 86.05 L325.8 87.14 L326.2 88.14 L326.6 89.1 L327 90 L327.1 90.22" fill="none" stroke="#1a0014" stroke-width="0.62"/>
<path d="M311.8 98.38 L312.2 97.74 L312.6 97.06 L313 96.34 L313.4 95.57 L313.8 94.75 L314.2 93.78 L314.6 92.77 L315 91.91 L315.4 91.28 L315.8 90.71 L316.2 90.33 L316.6 90.33 L317 90.69 L317.4 91.24 L317.8 91.78 L318.2 92.3 L318.6 92.87 L319 93.45 L319.4 93.96 L319.8 94.38 L320.2 94.76 L320.6 95.12 L321 95.43 L321.4 95.68 L321.8 95.86 L322.2 95.99 L322.6 96.09 L323 96.19 L323.4 96.31 L323.8 96.46 L324.2 96.66 L324.6 96.89 L325 97.13 L325.4 97.38 L325.8 97.63 L326.2 97.89 L326.6 98.17 L326.9 98.38 Z" fill="#cc0090" stroke="none"/>
<path d="M290.4 98.38 L330.9 98.38" stroke="#555" stroke-width="0.55" fill="none"/>
<path d="M311.8 98.38 L312.2 97.74 L312.6 97.06 L313 96.34 L313.4 95.57 L313.8 94.75 L314.2 93.78 L314.6 92.77 L315 91.91 L315.4 91.28 L315.8 90.71 L316.2 90.33 L316.6 90.33 L317 90.69 L317.4 91.24 L317.8 91.78 L318.2 92.3 L318.6 92.87 L319 93.45 L319.4 93.96 L319.8 94.38 L320.2 94.76 L320.6 95.12 L321 95.43 L321.4 95.68 L321.8 95.86 L322.2 95.99 L322.6 96.09 L323 96.19 L323.4 96.31 L323.8 96.46 L324.2 96.66 L324.6 96.89 L325 97.13 L325.4 97.38 L325.8 97.63 L326.2 97.89 L326.6 98.17 L326.9 98.38" fill="none" stroke="#1a0014" stroke-width="0.62"/>
<path d="M312.7 106.53 L313.1 105.49 L313.5 104.52 L313.9 103.65 L314.3 102.9 L314.7 102.23 L315.1 101.55 L315.5 100.94 L315.9 100.47 L316.3 100.24 L316.7 100.3 L317.1 100.52 L317.5 100.77 L317.9 100.92 L318.3 100.91 L318.7 100.82 L319.1 100.72 L319.5 100.64 L319.9 100.66 L320.3 100.88 L320.7 101.24 L321.1 101.65 L321.5 102.02 L321.9 102.42 L322.3 102.84 L322.7 103.25 L323.1 103.62 L323.5 103.93 L323.9 104.23 L324.3 104.53 L324.7 104.85 L325.1 105.18 L325.5 105.5 L325.9 105.81 L326.3 106.1 L326.7 106.39 L326.9 106.53 Z" fill="#cc0090" stroke="none"/>
<path d="M290.4 106.53 L330.9 106.53" stroke="#555" stroke-width="0.55" fill="none"/>
<path d="M312.7 106.53 L313.1 105.49 L313.5 104.52 L313.9 103.65 L314.3 102.9 L314.7 102.23 L315.1 101.55 L315.5 100.94 L315.9 100.47 L316.3 100.24 L316.7 100.3 L317.1 100.52 L317.5 100.77 L317.9 100.92 L318.3 100.91 L318.7 100.82 L319.1 100.72 L319.5 100.64 L319.9 100.66 L320.3 100.88 L320.7 101.24 L321.1 101.65 L321.5 102.02 L321.9 102.42 L322.3 102.84 L322.7 103.25 L323.1 103.62 L323.5 103.93 L323.9 104.23 L324.3 104.53 L324.7 104.85 L325.1 105.18 L325.5 105.5 L325.9 105.81 L326.3 106.1 L326.7 106.39 L326.9 106.53" fill="none" stroke="#1a0014" stroke-width="0.62"/>
<path d="M313.1 114.68 L313.5 113.82 L313.9 113.01 L314.3 112.25 L314.7 111.55 L315.1 110.93 L315.5 110.27 L315.9 109.62 L316.3 109.04 L316.7 108.64 L317.1 108.48 L317.5 108.56 L317.9 108.76 L318.3 109 L318.7 109.2 L319.1 109.29 L319.5 109.34 L319.9 109.37 L320.3 109.4 L320.7 109.42 L321.1 109.45 L321.5 109.49 L321.9 109.54 L322.3 109.59 L322.7 109.65 L323.1 109.74 L323.5 109.85 L323.9 110.08 L324.3 110.56 L324.7 111.19 L325.1 111.85 L325.5 112.65 L325.9 113.49 L326.3 114.2 L326.6 114.68 Z" fill="#cc0090" stroke="none"/>
<path d="M290.4 114.68 L330.9 114.68" stroke="#555" stroke-width="0.55" fill="none"/>
<path d="M313.1 114.68 L313.5 113.82 L313.9 113.01 L314.3 112.25 L314.7 111.55 L315.1 110.93 L315.5 110.27 L315.9 109.62 L316.3 109.04 L316.7 108.64 L317.1 108.48 L317.5 108.56 L317.9 108.76 L318.3 109 L318.7 109.2 L319.1 109.29 L319.5 109.34 L319.9 109.37 L320.3 109.4 L320.7 109.42 L321.1 109.45 L321.5 109.49 L321.9 109.54 L322.3 109.59 L322.7 109.65 L323.1 109.74 L323.5 109.85 L323.9 110.08 L324.3 110.56 L324.7 111.19 L325.1 111.85 L325.5 112.65 L325.9 113.49 L326.3 114.2 L326.6 114.68" fill="none" stroke="#1a0014" stroke-width="0.62"/>
<path d="M311.8 122.83 L312.2 121.91 L312.6 121.05 L313 120.25 L313.4 119.54 L313.8 118.91 L314.2 118.25 L314.6 117.6 L315 117.05 L315.4 116.67 L315.8 116.53 L316.2 116.58 L316.6 116.72 L317 116.92 L317.4 117.15 L317.8 117.4 L318.2 117.63 L318.6 117.84 L319 118.08 L319.4 118.32 L319.8 118.58 L320.2 118.84 L320.6 119.1 L321 119.35 L321.4 119.62 L321.8 119.89 L322.2 120.16 L322.6 120.43 L323 120.7 L323.4 120.95 L323.8 121.2 L324.2 121.44 L324.6 121.67 L325 121.91 L325.4 122.14 L325.8 122.37 L326.2 122.6 L326.6 122.83 L326.6 122.83 Z" fill="#cc0090" stroke="none"/>
<path d="M290.4 122.83 L330.9 122.83" stroke="#555" stroke-width="0.55" fill="none"/>
<path d="M311.8 122.83 L312.2 121.91 L312.6 121.05 L313 120.25 L313.4 119.54 L313.8 118.91 L314.2 118.25 L314.6 117.6 L315 117.05 L315.4 116.67 L315.8 116.53 L316.2 116.58 L316.6 116.72 L317 116.92 L317.4 117.15 L317.8 117.4 L318.2 117.63 L318.6 117.84 L319 118.08 L319.4 118.32 L319.8 118.58 L320.2 118.84 L320.6 119.1 L321 119.35 L321.4 119.62 L321.8 119.89 L322.2 120.16 L322.6 120.43 L323 120.7 L323.4 120.95 L323.8 121.2 L324.2 121.44 L324.6 121.67 L325 121.91 L325.4 122.14 L325.8 122.37 L326.2 122.6 L326.6 122.83 L326.6 122.83" fill="none" stroke="#1a0014" stroke-width="0.62"/>
<path d="M312.7 130.97 L313.1 130.2 L313.5 129.32 L313.9 128.34 L314.3 127.28 L314.7 125.9 L315.1 124.5 L315.5 123.59 L315.9 122.96 L316.3 122.78 L316.7 123.15 L317.1 123.75 L317.5 124.28 L317.9 124.77 L318.3 125.27 L318.7 125.72 L319.1 126.09 L319.5 126.38 L319.9 126.65 L320.3 126.9 L320.7 127.07 L321.1 127.16 L321.5 127.16 L321.9 127.13 L322.3 127.1 L322.7 127.07 L323.1 127.08 L323.5 127.35 L323.9 127.86 L324.3 128.43 L324.7 128.99 L325.1 129.64 L325.5 130.37 L325.8 130.97 Z" fill="#cc0090" stroke="none"/>
<path d="M290.4 130.97 L330.9 130.97" stroke="#555" stroke-width="0.55" fill="none"/>
<path d="M312.7 130.97 L313.1 130.2 L313.5 129.32 L313.9 128.34 L314.3 127.28 L314.7 125.9 L315.1 124.5 L315.5 123.59 L315.9 122.96 L316.3 122.78 L316.7 123.15 L317.1 123.75 L317.5 124.28 L317.9 124.77 L318.3 125.27 L318.7 125.72 L319.1 126.09 L319.5 126.38 L319.9 126.65 L320.3 126.9 L320.7 127.07 L321.1 127.16 L321.5 127.16 L321.9 127.13 L322.3 127.1 L322.7 127.07 L323.1 127.08 L323.5 127.35 L323.9 127.86 L324.3 128.43 L324.7 128.99 L325.1 129.64 L325.5 130.37 L325.8 130.97" fill="none" stroke="#1a0014" stroke-width="0.62"/>
<path d="M292.9 139.1 L293.3 138.89 L293.7 138.38 L294.1 137.66 L294.5 136.81 L294.9 135.66 L295.3 133.86 L295.7 132 L296.1 130.67 L296.5 129.56 L296.9 128.62 L297.3 128.12 L297.7 128.29 L298.1 128.96 L298.5 129.87 L298.9 130.72 L299.3 131.6 L299.7 132.56 L300.1 133.56 L300.5 134.59 L300.9 135.77 L301.3 136.97 L301.7 137.93 L302.1 138.53 L302.5 138.97 L302.7 139.1 Z" fill="#cc0090" stroke="none"/>
<path d="M290.4 139.1 L330.9 139.1" stroke="#555" stroke-width="0.55" fill="none"/>
<path d="M292.9 139.1 L293.3 138.89 L293.7 138.38 L294.1 137.66 L294.5 136.81 L294.9 135.66 L295.3 133.86 L295.7 132 L296.1 130.67 L296.5 129.56 L296.9 128.62 L297.3 128.12 L297.7 128.29 L298.1 128.96 L298.5 129.87 L298.9 130.72 L299.3 131.6 L299.7 132.56 L300.1 133.56 L300.5 134.59 L300.9 135.77 L301.3 136.97 L301.7 137.93 L302.1 138.53 L302.5 138.97 L302.7 139.1" fill="none" stroke="#1a0014" stroke-width="0.62"/>
<path d="M291.5 147.23 L291.9 146.96 L292.3 146.62 L292.7 146.23 L293.1 145.79 L293.5 145.31 L293.9 144.78 L294.3 144.18 L294.7 143.49 L295.1 142.67 L295.5 141.56 L295.9 140.01 L296.3 138.3 L296.7 136.78 L297.1 135.5 L297.5 134.22 L297.9 133.36 L298.3 133.46 L298.7 134.92 L299.1 136.87 L299.5 138.75 L299.9 140.92 L300.3 142.9 L300.7 144.43 L301.1 145.73 L301.5 146.61 L301.9 147.15 L302 147.23 Z" fill="#cc0090" stroke="none"/>
<path d="M290.4 147.23 L330.9 147.23" stroke="#555" stroke-width="0.55" fill="none"/>
<path d="M291.5 147.23 L291.9 146.96 L292.3 146.62 L292.7 146.23 L293.1 145.79 L293.5 145.31 L293.9 144.78 L294.3 144.18 L294.7 143.49 L295.1 142.67 L295.5 141.56 L295.9 140.01 L296.3 138.3 L296.7 136.78 L297.1 135.5 L297.5 134.22 L297.9 133.36 L298.3 133.46 L298.7 134.92 L299.1 136.87 L299.5 138.75 L299.9 140.92 L300.3 142.9 L300.7 144.43 L301.1 145.73 L301.5 146.61 L301.9 147.15 L302 147.23" fill="none" stroke="#1a0014" stroke-width="0.62"/>
<path d="M291.5 155.36 L291.9 155.15 L292.3 154.83 L292.7 154.42 L293.1 153.95 L293.5 153.42 L293.9 152.77 L294.3 151.96 L294.7 151.03 L295.1 150 L295.5 148.67 L295.9 147.13 L296.3 145.6 L296.7 144.27 L297.1 142.86 L297.5 141.69 L297.9 141.41 L298.3 142.4 L298.7 144.12 L299.1 145.87 L299.5 147.97 L299.9 150.15 L300.3 151.77 L300.7 152.98 L301.1 153.98 L301.5 154.72 L301.9 155.26 L302 155.36 Z" fill="#cc0090" stroke="none"/>
<path d="M290.4 155.36 L330.9 155.36" stroke="#555" stroke-width="0.55" fill="none"/>
<path d="M291.5 155.36 L291.9 155.15 L292.3 154.83 L292.7 154.42 L293.1 153.95 L293.5 153.42 L293.9 152.77 L294.3 151.96 L294.7 151.03 L295.1 150 L295.5 148.67 L295.9 147.13 L296.3 145.6 L296.7 144.27 L297.1 142.86 L297.5 141.69 L297.9 141.41 L298.3 142.4 L298.7 144.12 L299.1 145.87 L299.5 147.97 L299.9 150.15 L300.3 151.77 L300.7 152.98 L301.1 153.98 L301.5 154.72 L301.9 155.26 L302 155.36" fill="none" stroke="#1a0014" stroke-width="0.62"/>
<path d="M291.8 163.48 L292.2 163.21 L292.6 162.79 L293 162.27 L293.4 161.68 L293.8 160.96 L294.2 160.05 L294.6 158.97 L295 157.72 L295.4 156.05 L295.8 154.25 L296.2 152.71 L296.6 151.3 L297 150.03 L297.4 149.48 L297.8 150.01 L298.2 151.28 L298.6 152.83 L299 154.33 L299.4 156.13 L299.8 157.99 L300.2 159.55 L300.6 160.79 L301 161.85 L301.4 162.68 L301.8 163.27 L302 163.48 Z" fill="#cc0090" stroke="none"/>
<path d="M290.4 163.48 L330.9 163.48" stroke="#555" stroke-width="0.55" fill="none"/>
<path d="M291.8 163.48 L292.2 163.21 L292.6 162.79 L293 162.27 L293.4 161.68 L293.8 160.96 L294.2 160.05 L294.6 158.97 L295 157.72 L295.4 156.05 L295.8 154.25 L296.2 152.71 L296.6 151.3 L297 150.03 L297.4 149.48 L297.8 150.01 L298.2 151.28 L298.6 152.83 L299 154.33 L299.4 156.13 L299.8 157.99 L300.2 159.55 L300.6 160.79 L301 161.85 L301.4 162.68 L301.8 163.27 L302 163.48" fill="none" stroke="#1a0014" stroke-width="0.62"/>
<path d="M292.9 171.6 L293.3 171.39 L293.7 170.83 L294.1 170.05 L294.5 169.12 L294.9 167.47 L295.3 165.36 L295.7 163.46 L296.1 162.04 L296.5 160.65 L296.9 159.51 L297.3 158.93 L297.7 159.09 L298.1 159.79 L298.5 160.78 L298.9 161.82 L299.3 163.17 L299.7 164.76 L300.1 166.32 L300.5 167.78 L300.9 169.27 L301.3 170.41 L301.7 171.06 L302.1 171.51 L302.3 171.6 Z" fill="#cc0090" stroke="none"/>
<path d="M290.4 171.6 L330.9 171.6" stroke="#555" stroke-width="0.55" fill="none"/>
<path d="M292.9 171.6 L293.3 171.39 L293.7 170.83 L294.1 170.05 L294.5 169.12 L294.9 167.47 L295.3 165.36 L295.7 163.46 L296.1 162.04 L296.5 160.65 L296.9 159.51 L297.3 158.93 L297.7 159.09 L298.1 159.79 L298.5 160.78 L298.9 161.82 L299.3 163.17 L299.7 164.76 L300.1 166.32 L300.5 167.78 L300.9 169.27 L301.3 170.41 L301.7 171.06 L302.1 171.51 L302.3 171.6" fill="none" stroke="#1a0014" stroke-width="0.62"/>
</g>
<rect x="288.6" y="10.4" width="44.5" height="166" fill="none" stroke="#a8a8a8" stroke-width="0.45"/>
<g class="lab" transform="scale(0.1)" font-size="42.4" fill="#1a1a1a" text-anchor="end">
<text x="2867" y="161.5">Immunoregulatory interactions between a Lymphoid</text>
<text x="2867" y="206.5">and a non−Lymphoid cell</text>
<text x="2867" y="243.48">Antigen activates B Cell Receptor (BCR) leading to</text>
<text x="2867" y="288.48">generation of second messengers</text>
<text x="2867" y="347.91">Innate Immune System</text>
<text x="2867" y="429.8">Neutrophil degranulation</text>
<text x="2867" y="511.65">Generation of second messenger molecules</text>
<text x="2867" y="593.45">FCERI mediated Ca+2 mobilization</text>
<text x="2867" y="675.2">Interferon alpha/beta signaling</text>
<text x="2867" y="756.91">Interleukin−2 family signaling</text>
<text x="2867" y="838.58">Phosphorylation of CD3 and TCR zeta chains</text>
<text x="2867" y="920.2">Costimulation by the CD28 family</text>
<text x="2867" y="1001.78">Interferon gamma signaling</text>
<text x="2867" y="1083.32">Platelet activation, signaling and aggregation</text>
<text x="2867" y="1164.81">Adaptive Immune System</text>
<text x="2867" y="1246.25">Cytokine Signaling in Immune system</text>
<text x="2867" y="1327.66">Chemokine receptors bind chemokines</text>
<text x="2867" y="1409.01">Activation of the pre−replicative complex</text>
<text x="2867" y="1490.33">SUMOylation of chromatin organization proteins</text>
<text x="2867" y="1549.1">Amplification of signal from unattached</text>
<text x="2867" y="1594.1">kinetochores via a MAD2 inhibitory signal</text>
<text x="2867" y="1652.82">Amplification of signal from the kinetochores</text>
<text x="2867" y="1711.5">Activation of ATR in response to replication</text>
<text x="2867" y="1756.5">stress</text>
</g>
<g stroke="#444" stroke-width="0.5">
<line x1="287.3" y1="16.6" x2="288.6" y2="16.6"/>
<line x1="287.3" y1="24.8" x2="288.6" y2="24.8"/>
<line x1="287.3" y1="32.99" x2="288.6" y2="32.99"/>
<line x1="287.3" y1="41.18" x2="288.6" y2="41.18"/>
<line x1="287.3" y1="49.36" x2="288.6" y2="49.36"/>
<line x1="287.3" y1="57.54" x2="288.6" y2="57.54"/>
<line x1="287.3" y1="65.72" x2="288.6" y2="65.72"/>
<line x1="287.3" y1="73.89" x2="288.6" y2="73.89"/>
<line x1="287.3" y1="82.06" x2="288.6" y2="82.06"/>
<line x1="287.3" y1="90.22" x2="288.6" y2="90.22"/>
<line x1="287.3" y1="98.38" x2="288.6" y2="98.38"/>
<line x1="287.3" y1="106.53" x2="288.6" y2="106.53"/>
<line x1="287.3" y1="114.68" x2="288.6" y2="114.68"/>
<line x1="287.3" y1="122.83" x2="288.6" y2="122.83"/>
<line x1="287.3" y1="130.97" x2="288.6" y2="130.97"/>
<line x1="287.3" y1="139.1" x2="288.6" y2="139.1"/>
<line x1="287.3" y1="147.23" x2="288.6" y2="147.23"/>
<line x1="287.3" y1="155.36" x2="288.6" y2="155.36"/>
<line x1="287.3" y1="163.48" x2="288.6" y2="163.48"/>
<line x1="287.3" y1="171.6" x2="288.6" y2="171.6"/>
<line x1="296.6" y1="176.4" x2="296.6" y2="177.7"/>
<line x1="307.2" y1="176.4" x2="307.2" y2="177.7"/>
<line x1="317.65" y1="176.4" x2="317.65" y2="177.7"/>
<line x1="328.15" y1="176.4" x2="328.15" y2="177.7"/>
</g>
<g class="lab" transform="scale(0.1)" font-size="42" fill="#1a1a1a" text-anchor="middle">
<text x="2966" y="1813">−0.5</text>
<text x="3072" y="1813">0.0</text>
<text x="3176.5" y="1813">0.5</text>
<text x="3281.5" y="1813">1.0</text>
</g>
<text transform="scale(0.1)" x="3157" y="88" font-size="71" font-weight="bold" fill="#000" stroke="#000" stroke-width="1.2" text-anchor="middle">CD27</text>
<text transform="scale(0.1)" x="3375" y="807" font-size="33" fill="#222">p.adjust</text>
<rect x="337.9" y="82.9" width="5.5" height="26.3" fill="#cc0090"/>
<path d="M337.9 96.05 h1.1 M343.4 96.05 h-1.1" stroke="#fff" stroke-width="0.3" fill="none"/>
<text transform="scale(0.1)" x="3446" y="972" font-size="27.2" fill="#111">0.01032862</text>
<g>
<line x1="478.25" y1="10.4" x2="478.25" y2="176.4" stroke="#f2f2f2" stroke-width="0.3"/>
<line x1="488.75" y1="10.4" x2="488.75" y2="176.4" stroke="#f2f2f2" stroke-width="0.3"/>
<line x1="498.95" y1="10.4" x2="498.95" y2="176.4" stroke="#f2f2f2" stroke-width="0.3"/>
<line x1="509.15" y1="10.4" x2="509.15" y2="176.4" stroke="#f2f2f2" stroke-width="0.3"/>
<line x1="483.5" y1="10.4" x2="483.5" y2="176.4" stroke="#ebebeb" stroke-width="0.45"/>
<line x1="494" y1="10.4" x2="494" y2="176.4" stroke="#ebebeb" stroke-width="0.45"/>
<line x1="504.2" y1="10.4" x2="504.2" y2="176.4" stroke="#ebebeb" stroke-width="0.45"/>
<line x1="514.4" y1="10.4" x2="514.4" y2="176.4" stroke="#ebebeb" stroke-width="0.45"/>
<line x1="474.5" y1="17.4" x2="519.8" y2="17.4" stroke="#ebebeb" stroke-width="0.45"/>
<line x1="474.5" y1="25.51" x2="519.8" y2="25.51" stroke="#ebebeb" stroke-width="0.45"/>
<line x1="474.5" y1="33.61" x2="519.8" y2="33.61" stroke="#ebebeb" stroke-width="0.45"/>
<line x1="474.5" y1="41.72" x2="519.8" y2="41.72" stroke="#ebebeb" stroke-width="0.45"/>
<line x1="474.5" y1="49.82" x2="519.8" y2="49.82" stroke="#ebebeb" stroke-width="0.45"/>
<line x1="474.5" y1="57.93" x2="519.8" y2="57.93" stroke="#ebebeb" stroke-width="0.45"/>
<line x1="474.5" y1="66.03" x2="519.8" y2="66.03" stroke="#ebebeb" stroke-width="0.45"/>
<line x1="474.5" y1="74.14" x2="519.8" y2="74.14" stroke="#ebebeb" stroke-width="0.45"/>
<line x1="474.5" y1="82.24" x2="519.8" y2="82.24" stroke="#ebebeb" stroke-width="0.45"/>
<line x1="474.5" y1="90.35" x2="519.8" y2="90.35" stroke="#ebebeb" stroke-width="0.45"/>
<line x1="474.5" y1="98.45" x2="519.8" y2="98.45" stroke="#ebebeb" stroke-width="0.45"/>
<line x1="474.5" y1="106.56" x2="519.8" y2="106.56" stroke="#ebebeb" stroke-width="0.45"/>
<line x1="474.5" y1="114.66" x2="519.8" y2="114.66" stroke="#ebebeb" stroke-width="0.45"/>
<line x1="474.5" y1="122.77" x2="519.8" y2="122.77" stroke="#ebebeb" stroke-width="0.45"/>
<line x1="474.5" y1="130.87" x2="519.8" y2="130.87" stroke="#ebebeb" stroke-width="0.45"/>
<line x1="474.5" y1="138.98" x2="519.8" y2="138.98" stroke="#ebebeb" stroke-width="0.45"/>
<line x1="474.5" y1="147.08" x2="519.8" y2="147.08" stroke="#ebebeb" stroke-width="0.45"/>
<line x1="474.5" y1="155.19" x2="519.8" y2="155.19" stroke="#ebebeb" stroke-width="0.45"/>
<line x1="474.5" y1="163.29" x2="519.8" y2="163.29" stroke="#ebebeb" stroke-width="0.45"/>
<line x1="474.5" y1="171.4" x2="519.8" y2="171.4" stroke="#ebebeb" stroke-width="0.45"/>
</g>
<g stroke-linejoin="round">
<path d="M498.7 17.4 L499.1 16.62 L499.5 15.92 L499.9 15.34 L500.3 14.91 L500.7 14.57 L501.1 14.3 L501.5 14.06 L501.9 13.85 L502.3 13.66 L502.7 13.5 L503.1 13.35 L503.5 13.2 L503.9 13.04 L504.3 12.88 L504.7 12.72 L505.1 12.56 L505.5 12.4 L505.9 12.23 L506.3 12.05 L506.7 11.85 L507.1 11.62 L507.5 11.39 L507.9 11.15 L508.3 10.94 L508.7 10.76 L509.1 10.57 L509.5 10.4 L509.9 10.3 L510.3 10.45 L510.7 11.02 L511.1 11.8 L511.5 12.9 L511.9 14.48 L512.3 15.61 L512.7 16.41 L513.1 17.04 L513.5 17.4 L513.5 17.4 Z" fill="#cc0090" stroke="none"/>
<path d="M476.8 17.4 L517.5 17.4" stroke="#555" stroke-width="0.55" fill="none"/>
<path d="M498.7 17.4 L499.1 16.62 L499.5 15.92 L499.9 15.34 L500.3 14.91 L500.7 14.57 L501.1 14.3 L501.5 14.06 L501.9 13.85 L502.3 13.66 L502.7 13.5 L503.1 13.35 L503.5 13.2 L503.9 13.04 L504.3 12.88 L504.7 12.72 L505.1 12.56 L505.5 12.4 L505.9 12.23 L506.3 12.05 L506.7 11.85 L507.1 11.62 L507.5 11.39 L507.9 11.15 L508.3 10.94 L508.7 10.76 L509.1 10.57 L509.5 10.4 L509.9 10.3 L510.3 10.45 L510.7 11.02 L511.1 11.8 L511.5 12.9 L511.9 14.48 L512.3 15.61 L512.7 16.41 L513.1 17.04 L513.5 17.4 L513.5 17.4" fill="none" stroke="#1a0014" stroke-width="0.62"/>
<path d="M497.8 25.51 L498.2 24.63 L498.6 23.79 L499 23 L499.4 22.26 L499.8 21.54 L500.2 20.75 L500.6 19.99 L501 19.43 L501.4 19.21 L501.8 19.26 L502.2 19.41 L502.6 19.62 L503 19.83 L503.4 20.03 L503.8 20.17 L504.2 20.3 L504.6 20.42 L505 20.53 L505.4 20.64 L505.8 20.75 L506.2 20.85 L506.6 20.95 L507 21.04 L507.4 21.12 L507.8 21.19 L508.2 21.28 L508.6 21.38 L509 21.51 L509.4 21.68 L509.8 21.92 L510.2 22.21 L510.6 22.54 L511 22.89 L511.4 23.35 L511.8 23.85 L512.2 24.31 L512.6 24.7 L513 25.08 L513.4 25.42 L513.5 25.51 Z" fill="#cc0090" stroke="none"/>
<path d="M476.8 25.51 L517.5 25.51" stroke="#555" stroke-width="0.55" fill="none"/>
<path d="M497.8 25.51 L498.2 24.63 L498.6 23.79 L499 23 L499.4 22.26 L499.8 21.54 L500.2 20.75 L500.6 19.99 L501 19.43 L501.4 19.21 L501.8 19.26 L502.2 19.41 L502.6 19.62 L503 19.83 L503.4 20.03 L503.8 20.17 L504.2 20.3 L504.6 20.42 L505 20.53 L505.4 20.64 L505.8 20.75 L506.2 20.85 L506.6 20.95 L507 21.04 L507.4 21.12 L507.8 21.19 L508.2 21.28 L508.6 21.38 L509 21.51 L509.4 21.68 L509.8 21.92 L510.2 22.21 L510.6 22.54 L511 22.89 L511.4 23.35 L511.8 23.85 L512.2 24.31 L512.6 24.7 L513 25.08 L513.4 25.42 L513.5 25.51" fill="none" stroke="#1a0014" stroke-width="0.62"/>
<path d="M497.8 33.61 L498.2 32.52 L498.6 31.48 L499 30.51 L499.4 29.61 L499.8 28.66 L500.2 27.67 L500.6 26.85 L501 26.43 L501.4 26.48 L501.8 26.72 L502.2 27.08 L502.6 27.47 L503 27.81 L503.4 28.1 L503.8 28.39 L504.2 28.68 L504.6 28.97 L505 29.24 L505.4 29.49 L505.8 29.72 L506.2 29.94 L506.6 30.14 L507 30.34 L507.4 30.53 L507.8 30.72 L508.2 30.9 L508.6 31.08 L509 31.26 L509.4 31.44 L509.8 31.62 L510.2 31.81 L510.6 32.02 L511 32.24 L511.4 32.47 L511.8 32.7 L512.2 32.92 L512.6 33.13 L513 33.35 L513.4 33.56 L513.5 33.61 Z" fill="#cc0090" stroke="none"/>
<path d="M476.8 33.61 L517.5 33.61" stroke="#555" stroke-width="0.55" fill="none"/>
<path d="M497.8 33.61 L498.2 32.52 L498.6 31.48 L499 30.51 L499.4 29.61 L499.8 28.66 L500.2 27.67 L500.6 26.85 L501 26.43 L501.4 26.48 L501.8 26.72 L502.2 27.08 L502.6 27.47 L503 27.81 L503.4 28.1 L503.8 28.39 L504.2 28.68 L504.6 28.97 L505 29.24 L505.4 29.49 L505.8 29.72 L506.2 29.94 L506.6 30.14 L507 30.34 L507.4 30.53 L507.8 30.72 L508.2 30.9 L508.6 31.08 L509 31.26 L509.4 31.44 L509.8 31.62 L510.2 31.81 L510.6 32.02 L511 32.24 L511.4 32.47 L511.8 32.7 L512.2 32.92 L512.6 33.13 L513 33.35 L513.4 33.56 L513.5 33.61" fill="none" stroke="#1a0014" stroke-width="0.62"/>
<path d="M500 41.72 L500.4 40.99 L500.8 40.34 L501.2 39.78 L501.6 39.32 L502 38.89 L502.4 38.5 L502.8 38.25 L503.2 38.22 L503.6 38.25 L504 38.28 L504.4 38.31 L504.8 38.29 L505.2 38.13 L505.6 37.86 L506 37.5 L506.4 37.12 L506.8 36.59 L507.2 35.85 L507.6 35.03 L508 34.25 L508.4 33.58 L508.8 32.85 L509.2 32.15 L509.6 31.62 L510 31.42 L510.4 31.84 L510.8 32.86 L511.2 34.12 L511.6 35.98 L512 38.23 L512.4 39.82 L512.8 41.03 L513.1 41.72 Z" fill="#cc0090" stroke="none"/>
<path d="M476.8 41.72 L517.5 41.72" stroke="#555" stroke-width="0.55" fill="none"/>
<path d="M500 41.72 L500.4 40.99 L500.8 40.34 L501.2 39.78 L501.6 39.32 L502 38.89 L502.4 38.5 L502.8 38.25 L503.2 38.22 L503.6 38.25 L504 38.28 L504.4 38.31 L504.8 38.29 L505.2 38.13 L505.6 37.86 L506 37.5 L506.4 37.12 L506.8 36.59 L507.2 35.85 L507.6 35.03 L508 34.25 L508.4 33.58 L508.8 32.85 L509.2 32.15 L509.6 31.62 L510 31.42 L510.4 31.84 L510.8 32.86 L511.2 34.12 L511.6 35.98 L512 38.23 L512.4 39.82 L512.8 41.03 L513.1 41.72" fill="none" stroke="#1a0014" stroke-width="0.62"/>
<path d="M499.1 49.82 L499.5 49.31 L499.9 48.73 L500.3 48.09 L500.7 47.4 L501.1 46.63 L501.5 45.72 L501.9 44.76 L502.3 43.84 L502.7 43.02 L503.1 42.16 L503.5 41.29 L503.9 40.6 L504.3 40.24 L504.7 40.36 L505.1 40.9 L505.5 41.66 L505.9 42.44 L506.3 43.17 L506.7 43.97 L507.1 44.81 L507.5 45.64 L507.9 46.41 L508.3 47.15 L508.7 47.86 L509.1 48.48 L509.5 49 L509.9 49.45 L510.3 49.82 L510.3 49.82 Z" fill="#cc0090" stroke="none"/>
<path d="M476.8 49.82 L517.5 49.82" stroke="#555" stroke-width="0.55" fill="none"/>
<path d="M499.1 49.82 L499.5 49.31 L499.9 48.73 L500.3 48.09 L500.7 47.4 L501.1 46.63 L501.5 45.72 L501.9 44.76 L502.3 43.84 L502.7 43.02 L503.1 42.16 L503.5 41.29 L503.9 40.6 L504.3 40.24 L504.7 40.36 L505.1 40.9 L505.5 41.66 L505.9 42.44 L506.3 43.17 L506.7 43.97 L507.1 44.81 L507.5 45.64 L507.9 46.41 L508.3 47.15 L508.7 47.86 L509.1 48.48 L509.5 49 L509.9 49.45 L510.3 49.82 L510.3 49.82" fill="none" stroke="#1a0014" stroke-width="0.62"/>
<path d="M504.4 57.93 L504.8 57.58 L505.2 57.13 L505.6 56.61 L506 56.03 L506.4 55.4 L506.8 54.67 L507.2 53.83 L507.6 52.86 L508 51.7 L508.4 50.15 L508.8 48.46 L509.2 46.93 L509.6 45.39 L510 44.03 L510.4 43.69 L510.8 44.88 L511.2 46.9 L511.6 49.08 L512 51.91 L512.4 54.33 L512.8 55.96 L513.2 57.27 L513.5 57.93 Z" fill="#cc0090" stroke="none"/>
<path d="M476.8 57.93 L517.5 57.93" stroke="#555" stroke-width="0.55" fill="none"/>
<path d="M504.4 57.93 L504.8 57.58 L505.2 57.13 L505.6 56.61 L506 56.03 L506.4 55.4 L506.8 54.67 L507.2 53.83 L507.6 52.86 L508 51.7 L508.4 50.15 L508.8 48.46 L509.2 46.93 L509.6 45.39 L510 44.03 L510.4 43.69 L510.8 44.88 L511.2 46.9 L511.6 49.08 L512 51.91 L512.4 54.33 L512.8 55.96 L513.2 57.27 L513.5 57.93" fill="none" stroke="#1a0014" stroke-width="0.62"/>
<path d="M500 66.03 L500.4 65.26 L500.8 64.57 L501.2 63.95 L501.6 63.43 L502 62.93 L502.4 62.47 L502.8 62.17 L503.2 62.15 L503.6 62.25 L504 62.37 L504.4 62.43 L504.8 62.3 L505.2 61.99 L505.6 61.61 L506 61.26 L506.4 60.85 L506.8 60.41 L507.2 59.98 L507.6 59.59 L508 59.28 L508.4 58.96 L508.8 58.65 L509.2 58.38 L509.6 58.2 L510 58.13 L510.4 58.37 L510.8 58.98 L511.2 59.8 L511.6 60.8 L512 62.4 L512.4 63.83 L512.8 64.8 L513.2 65.6 L513.5 66.03 Z" fill="#cc0090" stroke="none"/>
<path d="M476.8 66.03 L517.5 66.03" stroke="#555" stroke-width="0.55" fill="none"/>
<path d="M500 66.03 L500.4 65.26 L500.8 64.57 L501.2 63.95 L501.6 63.43 L502 62.93 L502.4 62.47 L502.8 62.17 L503.2 62.15 L503.6 62.25 L504 62.37 L504.4 62.43 L504.8 62.3 L505.2 61.99 L505.6 61.61 L506 61.26 L506.4 60.85 L506.8 60.41 L507.2 59.98 L507.6 59.59 L508 59.28 L508.4 58.96 L508.8 58.65 L509.2 58.38 L509.6 58.2 L510 58.13 L510.4 58.37 L510.8 58.98 L511.2 59.8 L511.6 60.8 L512 62.4 L512.4 63.83 L512.8 64.8 L513.2 65.6 L513.5 66.03" fill="none" stroke="#1a0014" stroke-width="0.62"/>
<path d="M497.8 74.14 L498.2 73.1 L498.6 72.14 L499 71.28 L499.4 70.54 L499.8 69.82 L500.2 69.11 L500.6 68.54 L501 68.25 L501.4 68.25 L501.8 68.29 L502.2 68.35 L502.6 68.41 L503 68.48 L503.4 68.54 L503.8 68.58 L504.2 68.61 L504.6 68.64 L505 68.68 L505.4 68.74 L505.8 68.83 L506.2 68.96 L506.6 69.14 L507 69.34 L507.4 69.6 L507.8 69.96 L508.2 70.36 L508.6 70.77 L509 71.14 L509.4 71.47 L509.8 71.8 L510.2 72.12 L510.6 72.43 L511 72.74 L511.4 73.04 L511.8 73.34 L512.2 73.63 L512.6 73.92 L512.9 74.14 Z" fill="#cc0090" stroke="none"/>
<path d="M476.8 74.14 L517.5 74.14" stroke="#555" stroke-width="0.55" fill="none"/>
<path d="M497.8 74.14 L498.2 73.1 L498.6 72.14 L499 71.28 L499.4 70.54 L499.8 69.82 L500.2 69.11 L500.6 68.54 L501 68.25 L501.4 68.25 L501.8 68.29 L502.2 68.35 L502.6 68.41 L503 68.48 L503.4 68.54 L503.8 68.58 L504.2 68.61 L504.6 68.64 L505 68.68 L505.4 68.74 L505.8 68.83 L506.2 68.96 L506.6 69.14 L507 69.34 L507.4 69.6 L507.8 69.96 L508.2 70.36 L508.6 70.77 L509 71.14 L509.4 71.47 L509.8 71.8 L510.2 72.12 L510.6 72.43 L511 72.74 L511.4 73.04 L511.8 73.34 L512.2 73.63 L512.6 73.92 L512.9 74.14" fill="none" stroke="#1a0014" stroke-width="0.62"/>
<path d="M501.8 82.24 L502.2 81.51 L502.6 80.8 L503 80.11 L503.4 79.44 L503.8 78.82 L504.2 78.23 L504.6 77.63 L505 76.99 L505.4 76.23 L505.8 75.24 L506.2 74.27 L506.6 73.64 L507 73.3 L507.4 73.08 L507.8 73.11 L508.2 73.59 L508.6 74.31 L509 75.04 L509.4 75.77 L509.8 76.59 L510.2 77.43 L510.6 78.24 L511 79.03 L511.4 79.81 L511.8 80.52 L512.2 81.13 L512.6 81.67 L513 82.14 L513.1 82.24 Z" fill="#cc0090" stroke="none"/>
<path d="M476.8 82.24 L517.5 82.24" stroke="#555" stroke-width="0.55" fill="none"/>
<path d="M501.8 82.24 L502.2 81.51 L502.6 80.8 L503 80.11 L503.4 79.44 L503.8 78.82 L504.2 78.23 L504.6 77.63 L505 76.99 L505.4 76.23 L505.8 75.24 L506.2 74.27 L506.6 73.64 L507 73.3 L507.4 73.08 L507.8 73.11 L508.2 73.59 L508.6 74.31 L509 75.04 L509.4 75.77 L509.8 76.59 L510.2 77.43 L510.6 78.24 L511 79.03 L511.4 79.81 L511.8 80.52 L512.2 81.13 L512.6 81.67 L513 82.14 L513.1 82.24" fill="none" stroke="#1a0014" stroke-width="0.62"/>
<path d="M501.4 90.35 L501.8 89.22 L502.2 88.21 L502.6 87.35 L503 86.49 L503.4 85.76 L503.8 85.56 L504.2 85.86 L504.6 86.33 L505 86.78 L505.4 87.28 L505.8 87.43 L506.2 87.15 L506.6 86.66 L507 86.15 L507.4 85.62 L507.8 85.02 L508.2 84.43 L508.6 83.95 L509 83.53 L509.4 83.13 L509.8 82.88 L510.2 82.92 L510.6 83.41 L511 84.15 L511.4 85.01 L511.8 86.28 L512.2 87.6 L512.6 88.61 L513 89.47 L513.4 90.19 L513.5 90.35 Z" fill="#cc0090" stroke="none"/>
<path d="M476.8 90.35 L517.5 90.35" stroke="#555" stroke-width="0.55" fill="none"/>
<path d="M501.4 90.35 L501.8 89.22 L502.2 88.21 L502.6 87.35 L503 86.49 L503.4 85.76 L503.8 85.56 L504.2 85.86 L504.6 86.33 L505 86.78 L505.4 87.28 L505.8 87.43 L506.2 87.15 L506.6 86.66 L507 86.15 L507.4 85.62 L507.8 85.02 L508.2 84.43 L508.6 83.95 L509 83.53 L509.4 83.13 L509.8 82.88 L510.2 82.92 L510.6 83.41 L511 84.15 L511.4 85.01 L511.8 86.28 L512.2 87.6 L512.6 88.61 L513 89.47 L513.4 90.19 L513.5 90.35" fill="none" stroke="#1a0014" stroke-width="0.62"/>
<path d="M499.1 98.45 L499.5 97.71 L499.9 97.02 L500.3 96.37 L500.7 95.79 L501.1 95.23 L501.5 94.65 L501.9 94.09 L502.3 93.63 L502.7 93.33 L503.1 93.26 L503.5 93.33 L503.9 93.47 L504.3 93.64 L504.7 93.78 L505.1 93.87 L505.5 93.93 L505.9 93.98 L506.3 94.02 L506.7 94.05 L507.1 94.05 L507.5 93.99 L507.9 93.89 L508.3 93.75 L508.7 93.62 L509.1 93.51 L509.5 93.46 L509.9 93.53 L510.3 93.84 L510.7 94.29 L511.1 94.79 L511.5 95.59 L511.9 96.51 L512.3 97.19 L512.7 97.71 L513.1 98.14 L513.5 98.45 L513.5 98.45 Z" fill="#cc0090" stroke="none"/>
<path d="M476.8 98.45 L517.5 98.45" stroke="#555" stroke-width="0.55" fill="none"/>
<path d="M499.1 98.45 L499.5 97.71 L499.9 97.02 L500.3 96.37 L500.7 95.79 L501.1 95.23 L501.5 94.65 L501.9 94.09 L502.3 93.63 L502.7 93.33 L503.1 93.26 L503.5 93.33 L503.9 93.47 L504.3 93.64 L504.7 93.78 L505.1 93.87 L505.5 93.93 L505.9 93.98 L506.3 94.02 L506.7 94.05 L507.1 94.05 L507.5 93.99 L507.9 93.89 L508.3 93.75 L508.7 93.62 L509.1 93.51 L509.5 93.46 L509.9 93.53 L510.3 93.84 L510.7 94.29 L511.1 94.79 L511.5 95.59 L511.9 96.51 L512.3 97.19 L512.7 97.71 L513.1 98.14 L513.5 98.45 L513.5 98.45" fill="none" stroke="#1a0014" stroke-width="0.62"/>
<path d="M498.7 106.56 L499.1 106 L499.5 105.44 L499.9 104.87 L500.3 104.3 L500.7 103.72 L501.1 103.11 L501.5 102.5 L501.9 101.9 L502.3 101.34 L502.7 100.83 L503.1 100.29 L503.5 99.74 L503.9 99.23 L504.3 98.85 L504.7 98.67 L505.1 98.75 L505.5 99.12 L505.9 99.67 L506.3 100.3 L506.7 100.91 L507.1 101.62 L507.5 102.42 L507.9 103.22 L508.3 103.92 L508.7 104.56 L509.1 105.16 L509.5 105.68 L509.9 106.15 L510.3 106.56 L510.3 106.56 Z" fill="#cc0090" stroke="none"/>
<path d="M476.8 106.56 L517.5 106.56" stroke="#555" stroke-width="0.55" fill="none"/>
<path d="M498.7 106.56 L499.1 106 L499.5 105.44 L499.9 104.87 L500.3 104.3 L500.7 103.72 L501.1 103.11 L501.5 102.5 L501.9 101.9 L502.3 101.34 L502.7 100.83 L503.1 100.29 L503.5 99.74 L503.9 99.23 L504.3 98.85 L504.7 98.67 L505.1 98.75 L505.5 99.12 L505.9 99.67 L506.3 100.3 L506.7 100.91 L507.1 101.62 L507.5 102.42 L507.9 103.22 L508.3 103.92 L508.7 104.56 L509.1 105.16 L509.5 105.68 L509.9 106.15 L510.3 106.56 L510.3 106.56" fill="none" stroke="#1a0014" stroke-width="0.62"/>
<path d="M503.7 114.66 L504.1 114.34 L504.5 113.95 L504.9 113.52 L505.3 113.04 L505.7 112.53 L506.1 111.97 L506.5 111.35 L506.9 110.65 L507.3 109.87 L507.7 108.91 L508.1 107.65 L508.5 106.36 L508.9 105.27 L509.3 104.47 L509.7 103.72 L510.1 103.23 L510.5 103.3 L510.9 104.22 L511.3 105.61 L511.7 107.02 L512.1 108.76 L512.5 110.58 L512.9 111.95 L513.3 113.01 L513.7 113.9 L514.1 114.55 L514.2 114.66 Z" fill="#cc0090" stroke="none"/>
<path d="M476.8 114.66 L517.5 114.66" stroke="#555" stroke-width="0.55" fill="none"/>
<path d="M503.7 114.66 L504.1 114.34 L504.5 113.95 L504.9 113.52 L505.3 113.04 L505.7 112.53 L506.1 111.97 L506.5 111.35 L506.9 110.65 L507.3 109.87 L507.7 108.91 L508.1 107.65 L508.5 106.36 L508.9 105.27 L509.3 104.47 L509.7 103.72 L510.1 103.23 L510.5 103.3 L510.9 104.22 L511.3 105.61 L511.7 107.02 L512.1 108.76 L512.5 110.58 L512.9 111.95 L513.3 113.01 L513.7 113.9 L514.1 114.55 L514.2 114.66" fill="none" stroke="#1a0014" stroke-width="0.62"/>
<path d="M497.8 122.77 L498.2 122.03 L498.6 121.32 L499 120.67 L499.4 120.08 L499.8 119.57 L500.2 119.08 L500.6 118.57 L501 118.09 L501.4 117.68 L501.8 117.37 L502.2 117.19 L502.6 117.18 L503 117.24 L503.4 117.35 L503.8 117.5 L504.2 117.66 L504.6 117.82 L505 117.97 L505.4 118.11 L505.8 118.26 L506.2 118.41 L506.6 118.56 L507 118.72 L507.4 118.87 L507.8 119.01 L508.2 119.15 L508.6 119.29 L509 119.47 L509.4 119.7 L509.8 119.98 L510.2 120.29 L510.6 120.61 L511 120.93 L511.4 121.27 L511.8 121.62 L512.2 121.97 L512.6 122.32 L513 122.68 L513.1 122.77 Z" fill="#cc0090" stroke="none"/>
<path d="M476.8 122.77 L517.5 122.77" stroke="#555" stroke-width="0.55" fill="none"/>
<path d="M497.8 122.77 L498.2 122.03 L498.6 121.32 L499 120.67 L499.4 120.08 L499.8 119.57 L500.2 119.08 L500.6 118.57 L501 118.09 L501.4 117.68 L501.8 117.37 L502.2 117.19 L502.6 117.18 L503 117.24 L503.4 117.35 L503.8 117.5 L504.2 117.66 L504.6 117.82 L505 117.97 L505.4 118.11 L505.8 118.26 L506.2 118.41 L506.6 118.56 L507 118.72 L507.4 118.87 L507.8 119.01 L508.2 119.15 L508.6 119.29 L509 119.47 L509.4 119.7 L509.8 119.98 L510.2 120.29 L510.6 120.61 L511 120.93 L511.4 121.27 L511.8 121.62 L512.2 121.97 L512.6 122.32 L513 122.68 L513.1 122.77" fill="none" stroke="#1a0014" stroke-width="0.62"/>
<path d="M498.2 130.87 L498.6 130.32 L499 129.72 L499.4 129.09 L499.8 128.42 L500.2 127.7 L500.6 126.86 L501 125.97 L501.4 125.14 L501.8 124.47 L502.2 123.89 L502.6 123.39 L503 123.17 L503.4 123.34 L503.8 123.75 L504.2 124.24 L504.6 124.67 L505 125.02 L505.4 125.36 L505.8 125.69 L506.2 126.01 L506.6 126.32 L507 126.62 L507.4 126.92 L507.8 127.21 L508.2 127.49 L508.6 127.75 L509 127.99 L509.4 128.2 L509.8 128.39 L510.2 128.61 L510.6 128.88 L511 129.19 L511.4 129.52 L511.8 129.83 L512.2 130.11 L512.6 130.36 L513 130.6 L513.4 130.82 L513.5 130.87 Z" fill="#cc0090" stroke="none"/>
<path d="M476.8 130.87 L517.5 130.87" stroke="#555" stroke-width="0.55" fill="none"/>
<path d="M498.2 130.87 L498.6 130.32 L499 129.72 L499.4 129.09 L499.8 128.42 L500.2 127.7 L500.6 126.86 L501 125.97 L501.4 125.14 L501.8 124.47 L502.2 123.89 L502.6 123.39 L503 123.17 L503.4 123.34 L503.8 123.75 L504.2 124.24 L504.6 124.67 L505 125.02 L505.4 125.36 L505.8 125.69 L506.2 126.01 L506.6 126.32 L507 126.62 L507.4 126.92 L507.8 127.21 L508.2 127.49 L508.6 127.75 L509 127.99 L509.4 128.2 L509.8 128.39 L510.2 128.61 L510.6 128.88 L511 129.19 L511.4 129.52 L511.8 129.83 L512.2 130.11 L512.6 130.36 L513 130.6 L513.4 130.82 L513.5 130.87" fill="none" stroke="#1a0014" stroke-width="0.62"/>
<path d="M501.8 138.98 L502.2 138.69 L502.6 138.29 L503 137.81 L503.4 137.27 L503.8 136.66 L504.2 135.91 L504.6 135.03 L505 134.08 L505.4 133.03 L505.8 131.74 L506.2 130.43 L506.6 129.38 L507 128.52 L507.4 127.88 L507.8 127.88 L508.2 128.53 L508.6 129.5 L509 130.5 L509.4 131.77 L509.8 133.15 L510.2 134.38 L510.6 135.43 L511 136.42 L511.4 137.25 L511.8 137.86 L512.2 138.38 L512.6 138.78 L512.9 138.98 Z" fill="#cc0090" stroke="none"/>
<path d="M476.8 138.98 L517.5 138.98" stroke="#555" stroke-width="0.55" fill="none"/>
<path d="M501.8 138.98 L502.2 138.69 L502.6 138.29 L503 137.81 L503.4 137.27 L503.8 136.66 L504.2 135.91 L504.6 135.03 L505 134.08 L505.4 133.03 L505.8 131.74 L506.2 130.43 L506.6 129.38 L507 128.52 L507.4 127.88 L507.8 127.88 L508.2 128.53 L508.6 129.5 L509 130.5 L509.4 131.77 L509.8 133.15 L510.2 134.38 L510.6 135.43 L511 136.42 L511.4 137.25 L511.8 137.86 L512.2 138.38 L512.6 138.78 L512.9 138.98" fill="none" stroke="#1a0014" stroke-width="0.62"/>
<path d="M478.4 147.08 L478.8 146.99 L479.2 146.73 L479.6 146.36 L480 145.92 L480.4 145.4 L480.8 144.6 L481.2 143.6 L481.6 142.53 L482 141.49 L482.4 140.28 L482.8 139.08 L483.2 138.14 L483.6 137.52 L484 137 L484.4 136.78 L484.8 136.82 L485.2 136.91 L485.6 137.12 L486 137.58 L486.4 138.15 L486.8 138.78 L487.2 139.56 L487.6 140.45 L488 141.41 L488.4 142.59 L488.8 143.96 L489.2 145.16 L489.6 145.93 L490 146.53 L490.4 146.96 L490.6 147.08 Z" fill="#cc0090" stroke="none"/>
<path d="M476.8 147.08 L517.5 147.08" stroke="#555" stroke-width="0.55" fill="none"/>
<path d="M478.4 147.08 L478.8 146.99 L479.2 146.73 L479.6 146.36 L480 145.92 L480.4 145.4 L480.8 144.6 L481.2 143.6 L481.6 142.53 L482 141.49 L482.4 140.28 L482.8 139.08 L483.2 138.14 L483.6 137.52 L484 137 L484.4 136.78 L484.8 136.82 L485.2 136.91 L485.6 137.12 L486 137.58 L486.4 138.15 L486.8 138.78 L487.2 139.56 L487.6 140.45 L488 141.41 L488.4 142.59 L488.8 143.96 L489.2 145.16 L489.6 145.93 L490 146.53 L490.4 146.96 L490.6 147.08" fill="none" stroke="#1a0014" stroke-width="0.62"/>
<path d="M478.4 155.19 L478.8 155.09 L479.2 154.84 L479.6 154.47 L480 154.02 L480.4 153.51 L480.8 152.71 L481.2 151.72 L481.6 150.65 L482 149.58 L482.4 148.3 L482.8 147.04 L483.2 146.05 L483.6 145.42 L484 144.91 L484.4 144.69 L484.8 144.73 L485.2 144.82 L485.6 145.02 L486 145.48 L486.4 146.06 L486.8 146.71 L487.2 147.53 L487.6 148.48 L488 149.49 L488.4 150.7 L488.8 152.07 L489.2 153.26 L489.6 154.03 L490 154.64 L490.4 155.07 L490.6 155.19 Z" fill="#cc0090" stroke="none"/>
<path d="M476.8 155.19 L517.5 155.19" stroke="#555" stroke-width="0.55" fill="none"/>
<path d="M478.4 155.19 L478.8 155.09 L479.2 154.84 L479.6 154.47 L480 154.02 L480.4 153.51 L480.8 152.71 L481.2 151.72 L481.6 150.65 L482 149.58 L482.4 148.3 L482.8 147.04 L483.2 146.05 L483.6 145.42 L484 144.91 L484.4 144.69 L484.8 144.73 L485.2 144.82 L485.6 145.02 L486 145.48 L486.4 146.06 L486.8 146.71 L487.2 147.53 L487.6 148.48 L488 149.49 L488.4 150.7 L488.8 152.07 L489.2 153.26 L489.6 154.03 L490 154.64 L490.4 155.07 L490.6 155.19" fill="none" stroke="#1a0014" stroke-width="0.62"/>
<path d="M477.6 163.29 L478 163.22 L478.4 163.01 L478.8 162.7 L479.2 162.32 L479.6 161.89 L480 161.27 L480.4 160.35 L480.8 159.29 L481.2 158.23 L481.6 157.06 L482 155.76 L482.4 154.6 L482.8 153.83 L483.2 153.24 L483.6 152.85 L484 152.8 L484.4 152.87 L484.8 152.99 L485.2 153.33 L485.6 153.86 L486 154.46 L486.4 155.21 L486.8 156.1 L487.2 157.09 L487.6 158.16 L488 159.49 L488.4 160.81 L488.8 161.79 L489.2 162.45 L489.6 162.98 L490 163.29 L490 163.29 Z" fill="#cc0090" stroke="none"/>
<path d="M476.8 163.29 L517.5 163.29" stroke="#555" stroke-width="0.55" fill="none"/>
<path d="M477.6 163.29 L478 163.22 L478.4 163.01 L478.8 162.7 L479.2 162.32 L479.6 161.89 L480 161.27 L480.4 160.35 L480.8 159.29 L481.2 158.23 L481.6 157.06 L482 155.76 L482.4 154.6 L482.8 153.83 L483.2 153.24 L483.6 152.85 L484 152.8 L484.4 152.87 L484.8 152.99 L485.2 153.33 L485.6 153.86 L486 154.46 L486.4 155.21 L486.8 156.1 L487.2 157.09 L487.6 158.16 L488 159.49 L488.4 160.81 L488.8 161.79 L489.2 162.45 L489.6 162.98 L490 163.29 L490 163.29" fill="none" stroke="#1a0014" stroke-width="0.62"/>
<path d="M479.5 171.4 L479.9 171.07 L480.3 170.29 L480.7 169.24 L481.1 167.69 L481.5 165.24 L481.9 162.96 L482.3 161.41 L482.7 159.98 L483.1 158.97 L483.5 158.73 L483.9 159.26 L484.3 160.26 L484.7 161.42 L485.1 162.64 L485.5 164.17 L485.9 165.75 L486.3 167.08 L486.7 168.31 L487.1 169.43 L487.5 170.26 L487.9 170.77 L488.3 171.17 L488.7 171.39 L488.8 171.4 Z" fill="#cc0090" stroke="none"/>
<path d="M476.8 171.4 L517.5 171.4" stroke="#555" stroke-width="0.55" fill="none"/>
<path d="M479.5 171.4 L479.9 171.07 L480.3 170.29 L480.7 169.24 L481.1 167.69 L481.5 165.24 L481.9 162.96 L482.3 161.41 L482.7 159.98 L483.1 158.97 L483.5 158.73 L483.9 159.26 L484.3 160.26 L484.7 161.42 L485.1 162.64 L485.5 164.17 L485.9 165.75 L486.3 167.08 L486.7 168.31 L487.1 169.43 L487.5 170.26 L487.9 170.77 L488.3 171.17 L488.7 171.39 L488.8 171.4" fill="none" stroke="#1a0014" stroke-width="0.62"/>
</g>
<rect x="474.5" y="10.4" width="45.3" height="166" fill="none" stroke="#a8a8a8" stroke-width="0.45"/>
<g class="lab" transform="scale(0.1)" font-size="42.4" fill="#1a1a1a" text-anchor="end">
<text x="4726" y="169.5">Immunoregulatory interactions between a Lymphoid</text>
<text x="4726" y="214.5">and a non−Lymphoid cell</text>
<text x="4726" y="273.05">Innate Immune System</text>
<text x="4726" y="354.11">Neutrophil degranulation</text>
<text x="4726" y="412.66">Antigen activates B Cell Receptor (BCR) leading to</text>
<text x="4726" y="457.66">generation of second messengers</text>
<text x="4726" y="516.21">Interferon alpha/beta signaling</text>
<text x="4726" y="597.26">Generation of second messenger molecules</text>
<text x="4726" y="678.32">Costimulation by the CD28 family</text>
<text x="4726" y="759.37">Cytokine Signaling in Immune system</text>
<text x="4726" y="840.42">Interleukin−2 family signaling</text>
<text x="4726" y="921.47">FCERI mediated Ca+2 mobilization</text>
<text x="4726" y="1002.53">Adaptive Immune System</text>
<text x="4726" y="1083.58">Interferon gamma signaling</text>
<text x="4726" y="1164.63">Phosphorylation of CD3 and TCR zeta chains</text>
<text x="4726" y="1245.68">Signaling by Interleukins</text>
<text x="4726" y="1326.74">Interleukin−10 signaling</text>
<text x="4726" y="1407.79">Interleukin−3, Interleukin−5 and GM−CSF signaling</text>
<text x="4726" y="1466.34">Amplification of signal from unattached</text>
<text x="4726" y="1511.34">kinetochores via a MAD2 inhibitory signal</text>
<text x="4726" y="1569.89">Amplification of signal from the kinetochores</text>
<text x="4726" y="1650.95">Resolution of Sister Chromatid Cohesion</text>
<text x="4726" y="1709.5">Activation of ATR in response to replication</text>
<text x="4726" y="1754.5">stress</text>
</g>
<g stroke="#444" stroke-width="0.5">
<line x1="473.2" y1="17.4" x2="474.5" y2="17.4"/>
<line x1="473.2" y1="25.51" x2="474.5" y2="25.51"/>
<line x1="473.2" y1="33.61" x2="474.5" y2="33.61"/>
<line x1="473.2" y1="41.72" x2="474.5" y2="41.72"/>
<line x1="473.2" y1="49.82" x2="474.5" y2="49.82"/>
<line x1="473.2" y1="57.93" x2="474.5" y2="57.93"/>
<line x1="473.2" y1="66.03" x2="474.5" y2="66.03"/>
<line x1="473.2" y1="74.14" x2="474.5" y2="74.14"/>
<line x1="473.2" y1="82.24" x2="474.5" y2="82.24"/>
<line x1="473.2" y1="90.35" x2="474.5" y2="90.35"/>
<line x1="473.2" y1="98.45" x2="474.5" y2="98.45"/>
<line x1="473.2" y1="106.56" x2="474.5" y2="106.56"/>
<line x1="473.2" y1="114.66" x2="474.5" y2="114.66"/>
<line x1="473.2" y1="122.77" x2="474.5" y2="122.77"/>
<line x1="473.2" y1="130.87" x2="474.5" y2="130.87"/>
<line x1="473.2" y1="138.98" x2="474.5" y2="138.98"/>
<line x1="473.2" y1="147.08" x2="474.5" y2="147.08"/>
<line x1="473.2" y1="155.19" x2="474.5" y2="155.19"/>
<line x1="473.2" y1="163.29" x2="474.5" y2="163.29"/>
<line x1="473.2" y1="171.4" x2="474.5" y2="171.4"/>
<line x1="483.5" y1="176.4" x2="483.5" y2="177.7"/>
<line x1="494" y1="176.4" x2="494" y2="177.7"/>
<line x1="504.2" y1="176.4" x2="504.2" y2="177.7"/>
<line x1="514.4" y1="176.4" x2="514.4" y2="177.7"/>
</g>
<g class="lab" transform="scale(0.1)" font-size="42" fill="#1a1a1a" text-anchor="middle">
<text x="4835" y="1813">−0.5</text>
<text x="4940" y="1813">0.0</text>
<text x="5042" y="1813">0.5</text>
<text x="5144" y="1813">1.0</text>
</g>
<text transform="scale(0.1)" x="5016" y="88" font-size="71" font-weight="bold" fill="#000" stroke="#000" stroke-width="1.2" text-anchor="middle">CD53</text>
<text transform="scale(0.1)" x="5242" y="807" font-size="33" fill="#222">p.adjust</text>
<rect x="524.6" y="82.9" width="5.5" height="26.3" fill="#cc0090"/>
<path d="M524.6 96.05 h1.1 M530.1 96.05 h-1.1" stroke="#fff" stroke-width="0.3" fill="none"/>
<text transform="scale(0.1)" x="5313" y="972" font-size="27.2" fill="#111">0.01475382</text>
<g>
<line x1="104.35" y1="207.2" x2="104.35" y2="372.9" stroke="#f2f2f2" stroke-width="0.3"/>
<line x1="117.25" y1="207.2" x2="117.25" y2="372.9" stroke="#f2f2f2" stroke-width="0.3"/>
<line x1="129.95" y1="207.2" x2="129.95" y2="372.9" stroke="#f2f2f2" stroke-width="0.3"/>
<line x1="142.85" y1="207.2" x2="142.85" y2="372.9" stroke="#f2f2f2" stroke-width="0.3"/>
<line x1="110.8" y1="207.2" x2="110.8" y2="372.9" stroke="#ebebeb" stroke-width="0.45"/>
<line x1="123.7" y1="207.2" x2="123.7" y2="372.9" stroke="#ebebeb" stroke-width="0.45"/>
<line x1="136.4" y1="207.2" x2="136.4" y2="372.9" stroke="#ebebeb" stroke-width="0.45"/>
<line x1="101.8" y1="215.3" x2="146.7" y2="215.3" stroke="#ebebeb" stroke-width="0.45"/>
<line x1="101.8" y1="223.48" x2="146.7" y2="223.48" stroke="#ebebeb" stroke-width="0.45"/>
<line x1="101.8" y1="231.64" x2="146.7" y2="231.64" stroke="#ebebeb" stroke-width="0.45"/>
<line x1="101.8" y1="239.8" x2="146.7" y2="239.8" stroke="#ebebeb" stroke-width="0.45"/>
<line x1="101.8" y1="247.94" x2="146.7" y2="247.94" stroke="#ebebeb" stroke-width="0.45"/>
<line x1="101.8" y1="256.07" x2="146.7" y2="256.07" stroke="#ebebeb" stroke-width="0.45"/>
<line x1="101.8" y1="264.19" x2="146.7" y2="264.19" stroke="#ebebeb" stroke-width="0.45"/>
<line x1="101.8" y1="272.29" x2="146.7" y2="272.29" stroke="#ebebeb" stroke-width="0.45"/>
<line x1="101.8" y1="280.38" x2="146.7" y2="280.38" stroke="#ebebeb" stroke-width="0.45"/>
<line x1="101.8" y1="288.46" x2="146.7" y2="288.46" stroke="#ebebeb" stroke-width="0.45"/>
<line x1="101.8" y1="296.53" x2="146.7" y2="296.53" stroke="#ebebeb" stroke-width="0.45"/>
<line x1="101.8" y1="304.59" x2="146.7" y2="304.59" stroke="#ebebeb" stroke-width="0.45"/>
<line x1="101.8" y1="312.63" x2="146.7" y2="312.63" stroke="#ebebeb" stroke-width="0.45"/>
<line x1="101.8" y1="320.66" x2="146.7" y2="320.66" stroke="#ebebeb" stroke-width="0.45"/>
<line x1="101.8" y1="328.68" x2="146.7" y2="328.68" stroke="#ebebeb" stroke-width="0.45"/>
<line x1="101.8" y1="336.69" x2="146.7" y2="336.69" stroke="#ebebeb" stroke-width="0.45"/>
<line x1="101.8" y1="344.69" x2="146.7" y2="344.69" stroke="#ebebeb" stroke-width="0.45"/>
<line x1="101.8" y1="352.67" x2="146.7" y2="352.67" stroke="#ebebeb" stroke-width="0.45"/>
<line x1="101.8" y1="360.64" x2="146.7" y2="360.64" stroke="#ebebeb" stroke-width="0.45"/>
<line x1="101.8" y1="368.6" x2="146.7" y2="368.6" stroke="#ebebeb" stroke-width="0.45"/>
</g>
<g stroke-linejoin="round">
<path d="M130.7 215.3 L131.1 214.48 L131.5 213.68 L131.9 212.89 L132.3 212.09 L132.7 211.24 L133.1 210.45 L133.5 209.82 L133.9 209.37 L134.3 208.96 L134.7 208.62 L135.1 208.43 L135.5 208.42 L135.9 208.52 L136.3 208.67 L136.7 208.81 L137.1 208.9 L137.5 208.87 L137.9 208.76 L138.3 208.61 L138.7 208.48 L139.1 208.4 L139.5 208.51 L139.9 208.94 L140.3 209.54 L140.7 210.44 L141.1 211.82 L141.5 212.92 L141.9 213.72 L142.3 214.37 L142.7 214.86 L143.1 215.23 L143.2 215.3 Z" fill="#cc0090" stroke="none"/>
<path d="M104.2 215.3 L144.5 215.3" stroke="#555" stroke-width="0.55" fill="none"/>
<path d="M130.7 215.3 L131.1 214.48 L131.5 213.68 L131.9 212.89 L132.3 212.09 L132.7 211.24 L133.1 210.45 L133.5 209.82 L133.9 209.37 L134.3 208.96 L134.7 208.62 L135.1 208.43 L135.5 208.42 L135.9 208.52 L136.3 208.67 L136.7 208.81 L137.1 208.9 L137.5 208.87 L137.9 208.76 L138.3 208.61 L138.7 208.48 L139.1 208.4 L139.5 208.51 L139.9 208.94 L140.3 209.54 L140.7 210.44 L141.1 211.82 L141.5 212.92 L141.9 213.72 L142.3 214.37 L142.7 214.86 L143.1 215.23 L143.2 215.3" fill="none" stroke="#1a0014" stroke-width="0.62"/>
<path d="M129.4 223.48 L129.8 222.6 L130.2 221.77 L130.6 220.99 L131 220.28 L131.4 219.55 L131.8 218.78 L132.2 218.06 L132.6 217.46 L133 217.07 L133.4 216.98 L133.8 217.01 L134.2 217.06 L134.6 217.13 L135 217.21 L135.4 217.28 L135.8 217.34 L136.2 217.4 L136.6 217.47 L137 217.56 L137.4 217.68 L137.8 217.89 L138.2 218.23 L138.6 218.65 L139 219.07 L139.4 219.48 L139.8 219.9 L140.2 220.35 L140.6 220.81 L141 221.26 L141.4 221.7 L141.8 222.15 L142.2 222.58 L142.6 222.97 L143 223.32 L143.2 223.48 Z" fill="#cc0090" stroke="none"/>
<path d="M104.2 223.48 L144.5 223.48" stroke="#555" stroke-width="0.55" fill="none"/>
<path d="M129.4 223.48 L129.8 222.6 L130.2 221.77 L130.6 220.99 L131 220.28 L131.4 219.55 L131.8 218.78 L132.2 218.06 L132.6 217.46 L133 217.07 L133.4 216.98 L133.8 217.01 L134.2 217.06 L134.6 217.13 L135 217.21 L135.4 217.28 L135.8 217.34 L136.2 217.4 L136.6 217.47 L137 217.56 L137.4 217.68 L137.8 217.89 L138.2 218.23 L138.6 218.65 L139 219.07 L139.4 219.48 L139.8 219.9 L140.2 220.35 L140.6 220.81 L141 221.26 L141.4 221.7 L141.8 222.15 L142.2 222.58 L142.6 222.97 L143 223.32 L143.2 223.48" fill="none" stroke="#1a0014" stroke-width="0.62"/>
<path d="M132.7 231.64 L133.1 230.29 L133.5 229.07 L133.9 228.04 L134.3 227.06 L134.7 226.13 L135.1 225.53 L135.5 225.52 L135.9 225.97 L136.3 226.48 L136.7 226.64 L137.1 226.49 L137.5 226.25 L137.9 226.04 L138.3 225.93 L138.7 225.84 L139.1 225.69 L139.5 225.11 L139.9 223.78 L140.3 222.63 L140.7 222.58 L141.1 223.47 L141.5 224.73 L141.9 226.23 L142.3 228.13 L142.7 229.52 L143.1 230.52 L143.5 231.29 L143.8 231.64 Z" fill="#cc0090" stroke="none"/>
<path d="M104.2 231.64 L144.5 231.64" stroke="#555" stroke-width="0.55" fill="none"/>
<path d="M132.7 231.64 L133.1 230.29 L133.5 229.07 L133.9 228.04 L134.3 227.06 L134.7 226.13 L135.1 225.53 L135.5 225.52 L135.9 225.97 L136.3 226.48 L136.7 226.64 L137.1 226.49 L137.5 226.25 L137.9 226.04 L138.3 225.93 L138.7 225.84 L139.1 225.69 L139.5 225.11 L139.9 223.78 L140.3 222.63 L140.7 222.58 L141.1 223.47 L141.5 224.73 L141.9 226.23 L142.3 228.13 L142.7 229.52 L143.1 230.52 L143.5 231.29 L143.8 231.64" fill="none" stroke="#1a0014" stroke-width="0.62"/>
<path d="M133.1 239.8 L133.5 239.43 L133.9 238.67 L134.3 237.65 L134.7 236.47 L135.1 234.58 L135.5 232.32 L135.9 230.32 L136.3 228.3 L136.7 227.66 L137.1 228.7 L137.5 230 L137.9 230.66 L138.3 230.83 L138.7 229.73 L139.1 228.55 L139.5 227.66 L139.9 228.5 L140.3 231.16 L140.7 233.92 L141.1 236.84 L141.5 238.77 L141.8 239.8 Z" fill="#cc0090" stroke="none"/>
<path d="M104.2 239.8 L144.5 239.8" stroke="#555" stroke-width="0.55" fill="none"/>
<path d="M133.1 239.8 L133.5 239.43 L133.9 238.67 L134.3 237.65 L134.7 236.47 L135.1 234.58 L135.5 232.32 L135.9 230.32 L136.3 228.3 L136.7 227.66 L137.1 228.7 L137.5 230 L137.9 230.66 L138.3 230.83 L138.7 229.73 L139.1 228.55 L139.5 227.66 L139.9 228.5 L140.3 231.16 L140.7 233.92 L141.1 236.84 L141.5 238.77 L141.8 239.8" fill="none" stroke="#1a0014" stroke-width="0.62"/>
<path d="M129.2 247.94 L129.6 247.22 L130 246.51 L130.4 245.82 L130.8 245.14 L131.2 244.43 L131.6 243.7 L132 243.04 L132.4 242.54 L132.8 242.15 L133.2 241.8 L133.6 241.54 L134 241.44 L134.4 241.48 L134.8 241.57 L135.2 241.69 L135.6 241.82 L136 241.94 L136.4 242.03 L136.8 242.11 L137.2 242.2 L137.6 242.34 L138 242.62 L138.4 243.06 L138.8 243.59 L139.2 244.11 L139.6 244.55 L140 244.96 L140.4 245.36 L140.8 245.76 L141.2 246.14 L141.6 246.52 L142 246.88 L142.4 247.24 L142.8 247.6 L143.2 247.94 Z" fill="#cc0090" stroke="none"/>
<path d="M104.2 247.94 L144.5 247.94" stroke="#555" stroke-width="0.55" fill="none"/>
<path d="M129.2 247.94 L129.6 247.22 L130 246.51 L130.4 245.82 L130.8 245.14 L131.2 244.43 L131.6 243.7 L132 243.04 L132.4 242.54 L132.8 242.15 L133.2 241.8 L133.6 241.54 L134 241.44 L134.4 241.48 L134.8 241.57 L135.2 241.69 L135.6 241.82 L136 241.94 L136.4 242.03 L136.8 242.11 L137.2 242.2 L137.6 242.34 L138 242.62 L138.4 243.06 L138.8 243.59 L139.2 244.11 L139.6 244.55 L140 244.96 L140.4 245.36 L140.8 245.76 L141.2 246.14 L141.6 246.52 L142 246.88 L142.4 247.24 L142.8 247.6 L143.2 247.94" fill="none" stroke="#1a0014" stroke-width="0.62"/>
<path d="M130.7 256.07 L131.1 254.78 L131.5 253.62 L131.9 252.63 L132.3 251.65 L132.7 250.7 L133.1 249.96 L133.5 249.59 L133.9 249.63 L134.3 249.88 L134.7 250.21 L135.1 250.56 L135.5 251.07 L135.9 251.25 L136.3 250.89 L136.7 250.37 L137.1 249.93 L137.5 249.48 L137.9 249.27 L138.3 249.37 L138.7 249.62 L139.1 249.97 L139.5 250.38 L139.9 251.08 L140.3 251.98 L140.7 252.87 L141.1 253.63 L141.5 254.35 L141.9 255.06 L142.3 255.74 L142.5 256.07 Z" fill="#cc0090" stroke="none"/>
<path d="M104.2 256.07 L144.5 256.07" stroke="#555" stroke-width="0.55" fill="none"/>
<path d="M130.7 256.07 L131.1 254.78 L131.5 253.62 L131.9 252.63 L132.3 251.65 L132.7 250.7 L133.1 249.96 L133.5 249.59 L133.9 249.63 L134.3 249.88 L134.7 250.21 L135.1 250.56 L135.5 251.07 L135.9 251.25 L136.3 250.89 L136.7 250.37 L137.1 249.93 L137.5 249.48 L137.9 249.27 L138.3 249.37 L138.7 249.62 L139.1 249.97 L139.5 250.38 L139.9 251.08 L140.3 251.98 L140.7 252.87 L141.1 253.63 L141.5 254.35 L141.9 255.06 L142.3 255.74 L142.5 256.07" fill="none" stroke="#1a0014" stroke-width="0.62"/>
<path d="M105.9 264.19 L106.3 264 L106.7 263.74 L107.1 263.43 L107.5 263.08 L107.9 262.68 L108.3 262.18 L108.7 261.61 L109.1 260.96 L109.5 260.15 L109.9 259.07 L110.3 257.97 L110.7 257.13 L111.1 256.62 L111.5 256.19 L111.9 255.89 L112.3 255.77 L112.7 255.72 L113.1 255.69 L113.5 255.69 L113.9 255.78 L114.3 255.98 L114.7 256.32 L115.1 257.61 L115.5 259.32 L115.9 260.79 L116.3 262.23 L116.7 263.16 L117.1 263.79 L117.5 264.16 L117.6 264.19 Z" fill="#cc0090" stroke="none"/>
<path d="M104.2 264.19 L144.5 264.19" stroke="#555" stroke-width="0.55" fill="none"/>
<path d="M105.9 264.19 L106.3 264 L106.7 263.74 L107.1 263.43 L107.5 263.08 L107.9 262.68 L108.3 262.18 L108.7 261.61 L109.1 260.96 L109.5 260.15 L109.9 259.07 L110.3 257.97 L110.7 257.13 L111.1 256.62 L111.5 256.19 L111.9 255.89 L112.3 255.77 L112.7 255.72 L113.1 255.69 L113.5 255.69 L113.9 255.78 L114.3 255.98 L114.7 256.32 L115.1 257.61 L115.5 259.32 L115.9 260.79 L116.3 262.23 L116.7 263.16 L117.1 263.79 L117.5 264.16 L117.6 264.19" fill="none" stroke="#1a0014" stroke-width="0.62"/>
<path d="M106.5 272.29 L106.9 272.07 L107.3 271.67 L107.7 271.14 L108.1 270.52 L108.5 269.63 L108.9 268.48 L109.3 267.25 L109.7 266.09 L110.1 264.81 L110.5 263.54 L110.9 262.6 L111.3 262.11 L111.7 261.74 L112.1 261.59 L112.5 261.89 L112.9 262.61 L113.3 263.53 L113.7 264.63 L114.1 266.14 L114.5 267.7 L114.9 269.13 L115.3 270.52 L115.7 271.48 L116.1 272.1 L116.3 272.29 Z" fill="#cc0090" stroke="none"/>
<path d="M104.2 272.29 L144.5 272.29" stroke="#555" stroke-width="0.55" fill="none"/>
<path d="M106.5 272.29 L106.9 272.07 L107.3 271.67 L107.7 271.14 L108.1 270.52 L108.5 269.63 L108.9 268.48 L109.3 267.25 L109.7 266.09 L110.1 264.81 L110.5 263.54 L110.9 262.6 L111.3 262.11 L111.7 261.74 L112.1 261.59 L112.5 261.89 L112.9 262.61 L113.3 263.53 L113.7 264.63 L114.1 266.14 L114.5 267.7 L114.9 269.13 L115.3 270.52 L115.7 271.48 L116.1 272.1 L116.3 272.29" fill="none" stroke="#1a0014" stroke-width="0.62"/>
<path d="M106.9 280.38 L107.3 280.11 L107.7 279.46 L108.1 278.61 L108.5 277.45 L108.9 275.66 L109.3 273.68 L109.7 271.68 L110.1 269.57 L110.5 268.09 L110.9 267.06 L111.3 267.06 L111.7 268.15 L112.1 269.58 L112.5 271.63 L112.9 273.89 L113.3 275.89 L113.7 277.79 L114.1 279.02 L114.5 279.85 L114.9 280.34 L115 280.38 Z" fill="#cc0090" stroke="none"/>
<path d="M104.2 280.38 L144.5 280.38" stroke="#555" stroke-width="0.55" fill="none"/>
<path d="M106.9 280.38 L107.3 280.11 L107.7 279.46 L108.1 278.61 L108.5 277.45 L108.9 275.66 L109.3 273.68 L109.7 271.68 L110.1 269.57 L110.5 268.09 L110.9 267.06 L111.3 267.06 L111.7 268.15 L112.1 269.58 L112.5 271.63 L112.9 273.89 L113.3 275.89 L113.7 277.79 L114.1 279.02 L114.5 279.85 L114.9 280.34 L115 280.38" fill="none" stroke="#1a0014" stroke-width="0.62"/>
<path d="M106.5 288.46 L106.9 288.34 L107.3 288.02 L107.7 287.55 L108.1 287.01 L108.5 286.29 L108.9 285.19 L109.3 283.9 L109.7 282.63 L110.1 281.15 L110.5 279.72 L110.9 278.83 L111.3 278.23 L111.7 277.96 L112.1 278.19 L112.5 278.75 L112.9 279.46 L113.3 280.31 L113.7 281.48 L114.1 282.77 L114.5 283.93 L114.9 285.11 L115.3 286.23 L115.7 287.11 L116.1 287.68 L116.5 288.14 L116.9 288.43 L117 288.46 Z" fill="#cc0090" stroke="none"/>
<path d="M104.2 288.46 L144.5 288.46" stroke="#555" stroke-width="0.55" fill="none"/>
<path d="M106.5 288.46 L106.9 288.34 L107.3 288.02 L107.7 287.55 L108.1 287.01 L108.5 286.29 L108.9 285.19 L109.3 283.9 L109.7 282.63 L110.1 281.15 L110.5 279.72 L110.9 278.83 L111.3 278.23 L111.7 277.96 L112.1 278.19 L112.5 278.75 L112.9 279.46 L113.3 280.31 L113.7 281.48 L114.1 282.77 L114.5 283.93 L114.9 285.11 L115.3 286.23 L115.7 287.11 L116.1 287.68 L116.5 288.14 L116.9 288.43 L117 288.46" fill="none" stroke="#1a0014" stroke-width="0.62"/>
<path d="M105.2 296.53 L105.6 296.43 L106 296.21 L106.4 295.9 L106.8 295.53 L107.2 295.13 L107.6 294.65 L108 294.01 L108.4 293.21 L108.8 292.27 L109.2 290.8 L109.6 288.84 L110 286.94 L110.4 285.53 L110.8 284.19 L111.2 283.27 L111.6 283.31 L112 284.41 L112.4 285.87 L112.8 287.56 L113.2 289.58 L113.6 291.39 L114 292.97 L114.4 294.42 L114.8 295.33 L115.2 295.83 L115.6 296.22 L116 296.47 L116.3 296.53 Z" fill="#cc0090" stroke="none"/>
<path d="M104.2 296.53 L144.5 296.53" stroke="#555" stroke-width="0.55" fill="none"/>
<path d="M105.2 296.53 L105.6 296.43 L106 296.21 L106.4 295.9 L106.8 295.53 L107.2 295.13 L107.6 294.65 L108 294.01 L108.4 293.21 L108.8 292.27 L109.2 290.8 L109.6 288.84 L110 286.94 L110.4 285.53 L110.8 284.19 L111.2 283.27 L111.6 283.31 L112 284.41 L112.4 285.87 L112.8 287.56 L113.2 289.58 L113.6 291.39 L114 292.97 L114.4 294.42 L114.8 295.33 L115.2 295.83 L115.6 296.22 L116 296.47 L116.3 296.53" fill="none" stroke="#1a0014" stroke-width="0.62"/>
<path d="M105.2 304.59 L105.6 304.48 L106 304.27 L106.4 303.96 L106.8 303.59 L107.2 303.19 L107.6 302.69 L108 302.04 L108.4 301.24 L108.8 300.32 L109.2 299.04 L109.6 297.38 L110 295.67 L110.4 294.26 L110.8 293.01 L111.2 291.86 L111.6 291.22 L112 291.5 L112.4 292.58 L112.8 293.92 L113.2 295.58 L113.6 297.62 L114 299.44 L114.4 301 L114.8 302.42 L115.2 303.39 L115.6 304.01 L116 304.46 L116.3 304.59 Z" fill="#cc0090" stroke="none"/>
<path d="M104.2 304.59 L144.5 304.59" stroke="#555" stroke-width="0.55" fill="none"/>
<path d="M105.2 304.59 L105.6 304.48 L106 304.27 L106.4 303.96 L106.8 303.59 L107.2 303.19 L107.6 302.69 L108 302.04 L108.4 301.24 L108.8 300.32 L109.2 299.04 L109.6 297.38 L110 295.67 L110.4 294.26 L110.8 293.01 L111.2 291.86 L111.6 291.22 L112 291.5 L112.4 292.58 L112.8 293.92 L113.2 295.58 L113.6 297.62 L114 299.44 L114.4 301 L114.8 302.42 L115.2 303.39 L115.6 304.01 L116 304.46 L116.3 304.59" fill="none" stroke="#1a0014" stroke-width="0.62"/>
<path d="M105.2 312.63 L105.6 312.53 L106 312.31 L106.4 312 L106.8 311.63 L107.2 311.23 L107.6 310.74 L108 310.08 L108.4 309.28 L108.8 308.37 L109.2 307.09 L109.6 305.42 L110 303.72 L110.4 302.3 L110.8 301.06 L111.2 299.9 L111.6 299.26 L112 299.54 L112.4 300.63 L112.8 301.97 L113.2 303.63 L113.6 305.66 L114 307.49 L114.4 309.05 L114.8 310.46 L115.2 311.43 L115.6 312.05 L116 312.5 L116.3 312.63 Z" fill="#cc0090" stroke="none"/>
<path d="M104.2 312.63 L144.5 312.63" stroke="#555" stroke-width="0.55" fill="none"/>
<path d="M105.2 312.63 L105.6 312.53 L106 312.31 L106.4 312 L106.8 311.63 L107.2 311.23 L107.6 310.74 L108 310.08 L108.4 309.28 L108.8 308.37 L109.2 307.09 L109.6 305.42 L110 303.72 L110.4 302.3 L110.8 301.06 L111.2 299.9 L111.6 299.26 L112 299.54 L112.4 300.63 L112.8 301.97 L113.2 303.63 L113.6 305.66 L114 307.49 L114.4 309.05 L114.8 310.46 L115.2 311.43 L115.6 312.05 L116 312.5 L116.3 312.63" fill="none" stroke="#1a0014" stroke-width="0.62"/>
<path d="M105.2 320.66 L105.6 320.56 L106 320.34 L106.4 320.03 L106.8 319.67 L107.2 319.26 L107.6 318.77 L108 318.11 L108.4 317.32 L108.8 316.4 L109.2 315.12 L109.6 313.46 L110 311.75 L110.4 310.33 L110.8 309.09 L111.2 307.94 L111.6 307.3 L112 307.57 L112.4 308.66 L112.8 310 L113.2 311.66 L113.6 313.69 L114 315.52 L114.4 317.08 L114.8 318.49 L115.2 319.46 L115.6 320.09 L116 320.54 L116.3 320.66 Z" fill="#cc0090" stroke="none"/>
<path d="M104.2 320.66 L144.5 320.66" stroke="#555" stroke-width="0.55" fill="none"/>
<path d="M105.2 320.66 L105.6 320.56 L106 320.34 L106.4 320.03 L106.8 319.67 L107.2 319.26 L107.6 318.77 L108 318.11 L108.4 317.32 L108.8 316.4 L109.2 315.12 L109.6 313.46 L110 311.75 L110.4 310.33 L110.8 309.09 L111.2 307.94 L111.6 307.3 L112 307.57 L112.4 308.66 L112.8 310 L113.2 311.66 L113.6 313.69 L114 315.52 L114.4 317.08 L114.8 318.49 L115.2 319.46 L115.6 320.09 L116 320.54 L116.3 320.66" fill="none" stroke="#1a0014" stroke-width="0.62"/>
<path d="M105.2 328.68 L105.6 328.58 L106 328.36 L106.4 328.05 L106.8 327.69 L107.2 327.28 L107.6 326.79 L108 326.13 L108.4 325.34 L108.8 324.42 L109.2 323.12 L109.6 321.43 L110 319.71 L110.4 318.35 L110.8 317.25 L111.2 316.2 L111.6 315.48 L112 315.32 L112.4 316.07 L112.8 317.35 L113.2 318.76 L113.6 320.62 L114 322.63 L114.4 324.44 L114.8 326.25 L115.2 327.48 L115.6 328.12 L116 328.57 L116.3 328.68 Z" fill="#cc0090" stroke="none"/>
<path d="M104.2 328.68 L144.5 328.68" stroke="#555" stroke-width="0.55" fill="none"/>
<path d="M105.2 328.68 L105.6 328.58 L106 328.36 L106.4 328.05 L106.8 327.69 L107.2 327.28 L107.6 326.79 L108 326.13 L108.4 325.34 L108.8 324.42 L109.2 323.12 L109.6 321.43 L110 319.71 L110.4 318.35 L110.8 317.25 L111.2 316.2 L111.6 315.48 L112 315.32 L112.4 316.07 L112.8 317.35 L113.2 318.76 L113.6 320.62 L114 322.63 L114.4 324.44 L114.8 326.25 L115.2 327.48 L115.6 328.12 L116 328.57 L116.3 328.68" fill="none" stroke="#1a0014" stroke-width="0.62"/>
<path d="M105.2 336.69 L105.6 336.59 L106 336.37 L106.4 336.06 L106.8 335.69 L107.2 335.29 L107.6 334.8 L108 334.14 L108.4 333.34 L108.8 332.42 L109.2 331.15 L109.6 329.48 L110 327.78 L110.4 326.36 L110.8 325.11 L111.2 323.96 L111.6 323.32 L112 323.6 L112.4 324.68 L112.8 326.03 L113.2 327.65 L113.6 329.65 L114 331.54 L114.4 333.32 L114.8 334.92 L115.2 335.94 L115.6 336.6 L115.7 336.69 Z" fill="#cc0090" stroke="none"/>
<path d="M104.2 336.69 L144.5 336.69" stroke="#555" stroke-width="0.55" fill="none"/>
<path d="M105.2 336.69 L105.6 336.59 L106 336.37 L106.4 336.06 L106.8 335.69 L107.2 335.29 L107.6 334.8 L108 334.14 L108.4 333.34 L108.8 332.42 L109.2 331.15 L109.6 329.48 L110 327.78 L110.4 326.36 L110.8 325.11 L111.2 323.96 L111.6 323.32 L112 323.6 L112.4 324.68 L112.8 326.03 L113.2 327.65 L113.6 329.65 L114 331.54 L114.4 333.32 L114.8 334.92 L115.2 335.94 L115.6 336.6 L115.7 336.69" fill="none" stroke="#1a0014" stroke-width="0.62"/>
<path d="M105.2 344.69 L105.6 344.59 L106 344.37 L106.4 344.06 L106.8 343.69 L107.2 343.29 L107.6 342.79 L108 342.12 L108.4 341.31 L108.8 340.38 L109.2 339.1 L109.6 337.45 L110 335.77 L110.4 334.43 L110.8 333.3 L111.2 332.28 L111.6 331.71 L112 331.95 L112.4 332.9 L112.8 334.09 L113.2 335.64 L113.6 337.61 L114 339.5 L114.4 341.29 L114.8 342.91 L115.2 343.93 L115.6 344.59 L115.7 344.69 Z" fill="#cc0090" stroke="none"/>
<path d="M104.2 344.69 L144.5 344.69" stroke="#555" stroke-width="0.55" fill="none"/>
<path d="M105.2 344.69 L105.6 344.59 L106 344.37 L106.4 344.06 L106.8 343.69 L107.2 343.29 L107.6 342.79 L108 342.12 L108.4 341.31 L108.8 340.38 L109.2 339.1 L109.6 337.45 L110 335.77 L110.4 334.43 L110.8 333.3 L111.2 332.28 L111.6 331.71 L112 331.95 L112.4 332.9 L112.8 334.09 L113.2 335.64 L113.6 337.61 L114 339.5 L114.4 341.29 L114.8 342.91 L115.2 343.93 L115.6 344.59 L115.7 344.69" fill="none" stroke="#1a0014" stroke-width="0.62"/>
<path d="M105.2 352.67 L105.6 352.57 L106 352.35 L106.4 352.04 L106.8 351.67 L107.2 351.27 L107.6 350.77 L108 350.1 L108.4 349.29 L108.8 348.36 L109.2 347.08 L109.6 345.43 L110 343.76 L110.4 342.41 L110.8 341.28 L111.2 340.26 L111.6 339.7 L112 339.94 L112.4 340.88 L112.8 342.08 L113.2 343.62 L113.6 345.59 L114 347.49 L114.4 349.27 L114.8 350.89 L115.2 351.92 L115.6 352.58 L115.7 352.67 Z" fill="#cc0090" stroke="none"/>
<path d="M104.2 352.67 L144.5 352.67" stroke="#555" stroke-width="0.55" fill="none"/>
<path d="M105.2 352.67 L105.6 352.57 L106 352.35 L106.4 352.04 L106.8 351.67 L107.2 351.27 L107.6 350.77 L108 350.1 L108.4 349.29 L108.8 348.36 L109.2 347.08 L109.6 345.43 L110 343.76 L110.4 342.41 L110.8 341.28 L111.2 340.26 L111.6 339.7 L112 339.94 L112.4 340.88 L112.8 342.08 L113.2 343.62 L113.6 345.59 L114 347.49 L114.4 349.27 L114.8 350.89 L115.2 351.92 L115.6 352.58 L115.7 352.67" fill="none" stroke="#1a0014" stroke-width="0.62"/>
<path d="M105.2 360.64 L105.6 360.54 L106 360.32 L106.4 360.01 L106.8 359.64 L107.2 359.24 L107.6 358.74 L108 358.07 L108.4 357.26 L108.8 356.34 L109.2 355.06 L109.6 353.4 L110 351.73 L110.4 350.38 L110.8 349.25 L111.2 348.23 L111.6 347.67 L112 347.91 L112.4 348.85 L112.8 350.05 L113.2 351.6 L113.6 353.56 L114 355.46 L114.4 357.24 L114.8 358.86 L115.2 359.89 L115.6 360.55 L115.7 360.64 Z" fill="#cc0090" stroke="none"/>
<path d="M104.2 360.64 L144.5 360.64" stroke="#555" stroke-width="0.55" fill="none"/>
<path d="M105.2 360.64 L105.6 360.54 L106 360.32 L106.4 360.01 L106.8 359.64 L107.2 359.24 L107.6 358.74 L108 358.07 L108.4 357.26 L108.8 356.34 L109.2 355.06 L109.6 353.4 L110 351.73 L110.4 350.38 L110.8 349.25 L111.2 348.23 L111.6 347.67 L112 347.91 L112.4 348.85 L112.8 350.05 L113.2 351.6 L113.6 353.56 L114 355.46 L114.4 357.24 L114.8 358.86 L115.2 359.89 L115.6 360.55 L115.7 360.64" fill="none" stroke="#1a0014" stroke-width="0.62"/>
<path d="M104.5 368.6 L104.9 368.45 L105.3 368.23 L105.7 367.96 L106.1 367.65 L106.5 367.31 L106.9 366.93 L107.3 366.46 L107.7 365.88 L108.1 365.14 L108.5 363.82 L108.9 362.12 L109.3 360.47 L109.7 359.26 L110.1 358.2 L110.5 357.26 L110.9 356.68 L111.3 356.69 L111.7 357.28 L112.1 358.23 L112.5 359.3 L112.9 360.86 L113.3 362.69 L113.7 364.26 L114.1 365.7 L114.5 366.95 L114.9 367.76 L115.3 368.31 L115.7 368.6 Z" fill="#cc0090" stroke="none"/>
<path d="M104.2 368.6 L144.5 368.6" stroke="#555" stroke-width="0.55" fill="none"/>
<path d="M104.5 368.6 L104.9 368.45 L105.3 368.23 L105.7 367.96 L106.1 367.65 L106.5 367.31 L106.9 366.93 L107.3 366.46 L107.7 365.88 L108.1 365.14 L108.5 363.82 L108.9 362.12 L109.3 360.47 L109.7 359.26 L110.1 358.2 L110.5 357.26 L110.9 356.68 L111.3 356.69 L111.7 357.28 L112.1 358.23 L112.5 359.3 L112.9 360.86 L113.3 362.69 L113.7 364.26 L114.1 365.7 L114.5 366.95 L114.9 367.76 L115.3 368.31 L115.7 368.6" fill="none" stroke="#1a0014" stroke-width="0.62"/>
</g>
<rect x="101.8" y="207.2" width="44.9" height="165.7" fill="none" stroke="#a8a8a8" stroke-width="0.45"/>
<g class="lab" transform="scale(0.1)" font-size="42.4" fill="#1a1a1a" text-anchor="end">
<text x="999" y="2148.5">Immunoregulatory interactions between a Lymphoid</text>
<text x="999" y="2193.5">and a non−Lymphoid cell</text>
<text x="999" y="2252.78">Innate Immune System</text>
<text x="999" y="2311.94">Antigen activates B Cell Receptor (BCR) leading to</text>
<text x="999" y="2356.94">generation of second messengers</text>
<text x="999" y="2415.98">Generation of second messenger molecules</text>
<text x="999" y="2497.39">Neutrophil degranulation</text>
<text x="999" y="2578.69">Platelet activation, signaling and aggregation</text>
<text x="999" y="2659.86">Gene expression (Transcription)</text>
<text x="999" y="2740.91">Mitotic Spindle Checkpoint</text>
<text x="999" y="2821.84">SUMOylation</text>
<text x="999" y="2902.64">Resolution of Sister Chromatid Cohesion</text>
<text x="999" y="2983.33">Activation of the pre−replicative complex</text>
<text x="999" y="3063.89">G2/M Checkpoints</text>
<text x="999" y="3144.33">Mitotic Prometaphase</text>
<text x="999" y="3202.15">Amplification of signal from unattached</text>
<text x="999" y="3247.15">kinetochores via a MAD2 inhibitory signal</text>
<text x="999" y="3304.84">Amplification of signal from the kinetochores</text>
<text x="999" y="3384.92">SUMOylation of chromatin organization proteins</text>
<text x="999" y="3464.87">Cell Cycle</text>
<text x="999" y="3544.7">Cell Cycle, Mitotic</text>
<text x="999" y="3601.91">Activation of ATR in response to replication</text>
<text x="999" y="3646.91">stress</text>
<text x="999" y="3704">Cell Cycle Checkpoints</text>
</g>
<g stroke="#444" stroke-width="0.5">
<line x1="100.5" y1="215.3" x2="101.8" y2="215.3"/>
<line x1="100.5" y1="223.48" x2="101.8" y2="223.48"/>
<line x1="100.5" y1="231.64" x2="101.8" y2="231.64"/>
<line x1="100.5" y1="239.8" x2="101.8" y2="239.8"/>
<line x1="100.5" y1="247.94" x2="101.8" y2="247.94"/>
<line x1="100.5" y1="256.07" x2="101.8" y2="256.07"/>
<line x1="100.5" y1="264.19" x2="101.8" y2="264.19"/>
<line x1="100.5" y1="272.29" x2="101.8" y2="272.29"/>
<line x1="100.5" y1="280.38" x2="101.8" y2="280.38"/>
<line x1="100.5" y1="288.46" x2="101.8" y2="288.46"/>
<line x1="100.5" y1="296.53" x2="101.8" y2="296.53"/>
<line x1="100.5" y1="304.59" x2="101.8" y2="304.59"/>
<line x1="100.5" y1="312.63" x2="101.8" y2="312.63"/>
<line x1="100.5" y1="320.66" x2="101.8" y2="320.66"/>
<line x1="100.5" y1="328.68" x2="101.8" y2="328.68"/>
<line x1="100.5" y1="336.69" x2="101.8" y2="336.69"/>
<line x1="100.5" y1="344.69" x2="101.8" y2="344.69"/>
<line x1="100.5" y1="352.67" x2="101.8" y2="352.67"/>
<line x1="100.5" y1="360.64" x2="101.8" y2="360.64"/>
<line x1="100.5" y1="368.6" x2="101.8" y2="368.6"/>
<line x1="110.8" y1="372.9" x2="110.8" y2="374.2"/>
<line x1="123.7" y1="372.9" x2="123.7" y2="374.2"/>
<line x1="136.4" y1="372.9" x2="136.4" y2="374.2"/>
</g>
<g class="lab" transform="scale(0.1)" font-size="42" fill="#1a1a1a" text-anchor="middle">
<text x="1108" y="3778">−0.5</text>
<text x="1237" y="3778">0.0</text>
<text x="1364" y="3778">0.5</text>
</g>
<text transform="scale(0.1)" x="1246" y="2056" font-size="71" font-weight="bold" fill="#000" stroke="#000" stroke-width="1.2" text-anchor="middle">CRIP1</text>
<text transform="scale(0.1)" x="1511" y="2778.5" font-size="33" fill="#222">p.adjust</text>
<rect x="151.5" y="280.05" width="5.5" height="26.3" fill="#cc0090"/>
<path d="M151.5 293.2 h1.1 M157 293.2 h-1.1" stroke="#fff" stroke-width="0.3" fill="none"/>
<text transform="scale(0.1)" x="1582" y="2943.5" font-size="27.2" fill="#111">0.01021161</text>
<g>
<line x1="289.95" y1="207.2" x2="289.95" y2="372.9" stroke="#f2f2f2" stroke-width="0.3"/>
<line x1="302.85" y1="207.2" x2="302.85" y2="372.9" stroke="#f2f2f2" stroke-width="0.3"/>
<line x1="315.55" y1="207.2" x2="315.55" y2="372.9" stroke="#f2f2f2" stroke-width="0.3"/>
<line x1="328.45" y1="207.2" x2="328.45" y2="372.9" stroke="#f2f2f2" stroke-width="0.3"/>
<line x1="296.4" y1="207.2" x2="296.4" y2="372.9" stroke="#ebebeb" stroke-width="0.45"/>
<line x1="309.3" y1="207.2" x2="309.3" y2="372.9" stroke="#ebebeb" stroke-width="0.45"/>
<line x1="322" y1="207.2" x2="322" y2="372.9" stroke="#ebebeb" stroke-width="0.45"/>
<line x1="288.5" y1="216.62" x2="333" y2="216.62" stroke="#ebebeb" stroke-width="0.45"/>
<line x1="288.5" y1="224.69" x2="333" y2="224.69" stroke="#ebebeb" stroke-width="0.45"/>
<line x1="288.5" y1="232.75" x2="333" y2="232.75" stroke="#ebebeb" stroke-width="0.45"/>
<line x1="288.5" y1="240.8" x2="333" y2="240.8" stroke="#ebebeb" stroke-width="0.45"/>
<line x1="288.5" y1="248.85" x2="333" y2="248.85" stroke="#ebebeb" stroke-width="0.45"/>
<line x1="288.5" y1="256.89" x2="333" y2="256.89" stroke="#ebebeb" stroke-width="0.45"/>
<line x1="288.5" y1="264.92" x2="333" y2="264.92" stroke="#ebebeb" stroke-width="0.45"/>
<line x1="288.5" y1="272.94" x2="333" y2="272.94" stroke="#ebebeb" stroke-width="0.45"/>
<line x1="288.5" y1="280.95" x2="333" y2="280.95" stroke="#ebebeb" stroke-width="0.45"/>
<line x1="288.5" y1="288.96" x2="333" y2="288.96" stroke="#ebebeb" stroke-width="0.45"/>
<line x1="288.5" y1="296.96" x2="333" y2="296.96" stroke="#ebebeb" stroke-width="0.45"/>
<line x1="288.5" y1="304.95" x2="333" y2="304.95" stroke="#ebebeb" stroke-width="0.45"/>
<line x1="288.5" y1="312.93" x2="333" y2="312.93" stroke="#ebebeb" stroke-width="0.45"/>
<line x1="288.5" y1="320.91" x2="333" y2="320.91" stroke="#ebebeb" stroke-width="0.45"/>
<line x1="288.5" y1="328.88" x2="333" y2="328.88" stroke="#ebebeb" stroke-width="0.45"/>
<line x1="288.5" y1="336.84" x2="333" y2="336.84" stroke="#ebebeb" stroke-width="0.45"/>
<line x1="288.5" y1="344.79" x2="333" y2="344.79" stroke="#ebebeb" stroke-width="0.45"/>
<line x1="288.5" y1="352.73" x2="333" y2="352.73" stroke="#ebebeb" stroke-width="0.45"/>
<line x1="288.5" y1="360.67" x2="333" y2="360.67" stroke="#ebebeb" stroke-width="0.45"/>
<line x1="288.5" y1="368.6" x2="333" y2="368.6" stroke="#ebebeb" stroke-width="0.45"/>
</g>
<g stroke-linejoin="round">
<path d="M317.1 216.62 L317.5 215.75 L317.9 214.93 L318.3 214.16 L318.7 213.44 L319.1 212.73 L319.5 212.03 L319.9 211.44 L320.3 211.02 L320.7 210.77 L321.1 210.58 L321.5 210.4 L321.9 210.14 L322.3 209.76 L322.7 209.32 L323.1 208.91 L323.5 208.54 L323.9 208.18 L324.3 208.02 L324.7 208.2 L325.1 208.65 L325.5 209.26 L325.9 210.15 L326.3 211.56 L326.7 212.95 L327.1 214.36 L327.5 215.44 L327.9 216.22 L328.2 216.62 Z" fill="#cc0090" stroke="none"/>
<path d="M290.4 216.62 L330.9 216.62" stroke="#555" stroke-width="0.55" fill="none"/>
<path d="M317.1 216.62 L317.5 215.75 L317.9 214.93 L318.3 214.16 L318.7 213.44 L319.1 212.73 L319.5 212.03 L319.9 211.44 L320.3 211.02 L320.7 210.77 L321.1 210.58 L321.5 210.4 L321.9 210.14 L322.3 209.76 L322.7 209.32 L323.1 208.91 L323.5 208.54 L323.9 208.18 L324.3 208.02 L324.7 208.2 L325.1 208.65 L325.5 209.26 L325.9 210.15 L326.3 211.56 L326.7 212.95 L327.1 214.36 L327.5 215.44 L327.9 216.22 L328.2 216.62" fill="none" stroke="#1a0014" stroke-width="0.62"/>
<path d="M313.1 224.69 L313.5 223.52 L313.9 222.45 L314.3 221.5 L314.7 220.7 L315.1 219.88 L315.5 219.11 L315.9 218.51 L316.3 218.2 L316.7 218.23 L317.1 218.38 L317.5 218.6 L317.9 218.86 L318.3 219.12 L318.7 219.34 L319.1 219.55 L319.5 219.77 L319.9 219.99 L320.3 220.21 L320.7 220.42 L321.1 220.6 L321.5 220.76 L321.9 220.88 L322.3 220.97 L322.7 221.05 L323.1 221.14 L323.5 221.25 L323.9 221.42 L324.3 221.63 L324.7 221.9 L325.1 222.21 L325.5 222.59 L325.9 223.09 L326.3 223.58 L326.7 223.99 L327.1 224.36 L327.5 224.69 L327.5 224.69 Z" fill="#cc0090" stroke="none"/>
<path d="M290.4 224.69 L330.9 224.69" stroke="#555" stroke-width="0.55" fill="none"/>
<path d="M313.1 224.69 L313.5 223.52 L313.9 222.45 L314.3 221.5 L314.7 220.7 L315.1 219.88 L315.5 219.11 L315.9 218.51 L316.3 218.2 L316.7 218.23 L317.1 218.38 L317.5 218.6 L317.9 218.86 L318.3 219.12 L318.7 219.34 L319.1 219.55 L319.5 219.77 L319.9 219.99 L320.3 220.21 L320.7 220.42 L321.1 220.6 L321.5 220.76 L321.9 220.88 L322.3 220.97 L322.7 221.05 L323.1 221.14 L323.5 221.25 L323.9 221.42 L324.3 221.63 L324.7 221.9 L325.1 222.21 L325.5 222.59 L325.9 223.09 L326.3 223.58 L326.7 223.99 L327.1 224.36 L327.5 224.69 L327.5 224.69" fill="none" stroke="#1a0014" stroke-width="0.62"/>
<path d="M319.7 232.75 L320.1 232.3 L320.5 231.62 L320.9 230.78 L321.3 229.72 L321.7 228.31 L322.1 226.74 L322.5 225.04 L322.9 223.09 L323.3 221.45 L323.7 220.32 L324.1 219.48 L324.5 219.49 L324.9 220.43 L325.3 221.8 L325.7 223.47 L326.1 225.71 L326.5 227.87 L326.9 230.01 L327.3 231.39 L327.7 232.25 L328.1 232.73 L328.2 232.75 Z" fill="#cc0090" stroke="none"/>
<path d="M290.4 232.75 L330.9 232.75" stroke="#555" stroke-width="0.55" fill="none"/>
<path d="M319.7 232.75 L320.1 232.3 L320.5 231.62 L320.9 230.78 L321.3 229.72 L321.7 228.31 L322.1 226.74 L322.5 225.04 L322.9 223.09 L323.3 221.45 L323.7 220.32 L324.1 219.48 L324.5 219.49 L324.9 220.43 L325.3 221.8 L325.7 223.47 L326.1 225.71 L326.5 227.87 L326.9 230.01 L327.3 231.39 L327.7 232.25 L328.1 232.73 L328.2 232.75" fill="none" stroke="#1a0014" stroke-width="0.62"/>
<path d="M312.7 240.8 L313.1 239.81 L313.5 238.87 L313.9 237.99 L314.3 237.19 L314.7 236.42 L315.1 235.59 L315.5 234.81 L315.9 234.21 L316.3 233.92 L316.7 233.95 L317.1 234.13 L317.5 234.39 L317.9 234.7 L318.3 235.01 L318.7 235.26 L319.1 235.5 L319.5 235.75 L319.9 235.99 L320.3 236.23 L320.7 236.46 L321.1 236.67 L321.5 236.86 L321.9 237.02 L322.3 237.15 L322.7 237.27 L323.1 237.38 L323.5 237.5 L323.9 237.64 L324.3 237.8 L324.7 238.02 L325.1 238.29 L325.5 238.6 L325.9 238.92 L326.3 239.27 L326.7 239.65 L327.1 240.02 L327.5 240.33 L327.9 240.61 L328.2 240.8 Z" fill="#cc0090" stroke="none"/>
<path d="M290.4 240.8 L330.9 240.8" stroke="#555" stroke-width="0.55" fill="none"/>
<path d="M312.7 240.8 L313.1 239.81 L313.5 238.87 L313.9 237.99 L314.3 237.19 L314.7 236.42 L315.1 235.59 L315.5 234.81 L315.9 234.21 L316.3 233.92 L316.7 233.95 L317.1 234.13 L317.5 234.39 L317.9 234.7 L318.3 235.01 L318.7 235.26 L319.1 235.5 L319.5 235.75 L319.9 235.99 L320.3 236.23 L320.7 236.46 L321.1 236.67 L321.5 236.86 L321.9 237.02 L322.3 237.15 L322.7 237.27 L323.1 237.38 L323.5 237.5 L323.9 237.64 L324.3 237.8 L324.7 238.02 L325.1 238.29 L325.5 238.6 L325.9 238.92 L326.3 239.27 L326.7 239.65 L327.1 240.02 L327.5 240.33 L327.9 240.61 L328.2 240.8" fill="none" stroke="#1a0014" stroke-width="0.62"/>
<path d="M315.8 248.85 L316.2 248.25 L316.6 247.41 L317 246.4 L317.4 245.18 L317.8 243.41 L318.2 241.52 L318.6 240.05 L319 238.94 L319.4 237.93 L319.8 237.23 L320.2 237.08 L320.6 237.7 L321 238.78 L321.4 239.85 L321.8 240.9 L322.2 242.04 L322.6 242.96 L323 243.44 L323.4 243.7 L323.8 243.91 L324.2 244.17 L324.6 244.54 L325 245 L325.4 245.55 L325.8 246.21 L326.2 247.09 L326.6 247.85 L327 248.37 L327.4 248.77 L327.5 248.85 Z" fill="#cc0090" stroke="none"/>
<path d="M290.4 248.85 L330.9 248.85" stroke="#555" stroke-width="0.55" fill="none"/>
<path d="M315.8 248.85 L316.2 248.25 L316.6 247.41 L317 246.4 L317.4 245.18 L317.8 243.41 L318.2 241.52 L318.6 240.05 L319 238.94 L319.4 237.93 L319.8 237.23 L320.2 237.08 L320.6 237.7 L321 238.78 L321.4 239.85 L321.8 240.9 L322.2 242.04 L322.6 242.96 L323 243.44 L323.4 243.7 L323.8 243.91 L324.2 244.17 L324.6 244.54 L325 245 L325.4 245.55 L325.8 246.21 L326.2 247.09 L326.6 247.85 L327 248.37 L327.4 248.77 L327.5 248.85" fill="none" stroke="#1a0014" stroke-width="0.62"/>
<path d="M314 256.89 L314.4 255.9 L314.8 254.97 L315.2 254.1 L315.6 253.29 L316 252.44 L316.4 251.54 L316.8 250.75 L317.2 250.22 L317.6 250.09 L318 250.24 L318.4 250.52 L318.8 250.89 L319.2 251.29 L319.6 251.92 L320 252.57 L320.4 252.62 L320.8 252.21 L321.2 251.62 L321.6 251.09 L322 250.59 L322.4 250.08 L322.8 249.74 L323.2 249.72 L323.6 249.96 L324 250.36 L324.4 250.84 L324.8 251.37 L325.2 252.14 L325.6 253.04 L326 253.91 L326.4 254.63 L326.8 255.29 L327.2 255.91 L327.6 256.49 L327.9 256.89 Z" fill="#cc0090" stroke="none"/>
<path d="M290.4 256.89 L330.9 256.89" stroke="#555" stroke-width="0.55" fill="none"/>
<path d="M314 256.89 L314.4 255.9 L314.8 254.97 L315.2 254.1 L315.6 253.29 L316 252.44 L316.4 251.54 L316.8 250.75 L317.2 250.22 L317.6 250.09 L318 250.24 L318.4 250.52 L318.8 250.89 L319.2 251.29 L319.6 251.92 L320 252.57 L320.4 252.62 L320.8 252.21 L321.2 251.62 L321.6 251.09 L322 250.59 L322.4 250.08 L322.8 249.74 L323.2 249.72 L323.6 249.96 L324 250.36 L324.4 250.84 L324.8 251.37 L325.2 252.14 L325.6 253.04 L326 253.91 L326.4 254.63 L326.8 255.29 L327.2 255.91 L327.6 256.49 L327.9 256.89" fill="none" stroke="#1a0014" stroke-width="0.62"/>
<path d="M292.9 264.92 L293.3 264.55 L293.7 263.75 L294.1 262.71 L294.5 261.17 L294.9 258.78 L295.3 256.63 L295.7 255.3 L296.1 254.17 L296.5 253.55 L296.9 253.77 L297.3 254.27 L297.7 254.05 L298.1 253.55 L298.5 253.91 L298.9 255.2 L299.3 256.6 L299.7 258.16 L300.1 259.84 L300.5 261.43 L300.9 263.05 L301.3 264.1 L301.7 264.72 L302 264.92 Z" fill="#cc0090" stroke="none"/>
<path d="M290.4 264.92 L330.9 264.92" stroke="#555" stroke-width="0.55" fill="none"/>
<path d="M292.9 264.92 L293.3 264.55 L293.7 263.75 L294.1 262.71 L294.5 261.17 L294.9 258.78 L295.3 256.63 L295.7 255.3 L296.1 254.17 L296.5 253.55 L296.9 253.77 L297.3 254.27 L297.7 254.05 L298.1 253.55 L298.5 253.91 L298.9 255.2 L299.3 256.6 L299.7 258.16 L300.1 259.84 L300.5 261.43 L300.9 263.05 L301.3 264.1 L301.7 264.72 L302 264.92" fill="none" stroke="#1a0014" stroke-width="0.62"/>
<path d="M292.2 272.94 L292.6 272.81 L293 272.51 L293.4 272.09 L293.8 271.6 L294.2 271.03 L294.6 270.16 L295 269.1 L295.4 267.99 L295.8 266.9 L296.2 265.66 L296.6 264.49 L297 263.69 L297.4 263.19 L297.8 262.84 L298.2 262.75 L298.6 263 L299 263.46 L299.4 264.01 L299.8 264.69 L300.2 265.58 L300.6 266.58 L301 267.65 L301.4 268.98 L301.8 270.31 L302.2 271.34 L302.6 272.06 L303 272.64 L303.3 272.94 Z" fill="#cc0090" stroke="none"/>
<path d="M290.4 272.94 L330.9 272.94" stroke="#555" stroke-width="0.55" fill="none"/>
<path d="M292.2 272.94 L292.6 272.81 L293 272.51 L293.4 272.09 L293.8 271.6 L294.2 271.03 L294.6 270.16 L295 269.1 L295.4 267.99 L295.8 266.9 L296.2 265.66 L296.6 264.49 L297 263.69 L297.4 263.19 L297.8 262.84 L298.2 262.75 L298.6 263 L299 263.46 L299.4 264.01 L299.8 264.69 L300.2 265.58 L300.6 266.58 L301 267.65 L301.4 268.98 L301.8 270.31 L302.2 271.34 L302.6 272.06 L303 272.64 L303.3 272.94" fill="none" stroke="#1a0014" stroke-width="0.62"/>
<path d="M292.2 280.95 L292.6 280.83 L293 280.49 L293.4 279.98 L293.8 279.35 L294.2 278.13 L294.6 276.24 L295 274.36 L295.4 272.51 L295.8 270.81 L296.2 269.86 L296.6 269.25 L297 269.24 L297.4 269.81 L297.8 270.58 L298.2 271.49 L298.6 272.62 L299 273.81 L299.4 275.1 L299.8 276.48 L300.2 277.73 L300.6 278.67 L301 279.48 L301.4 280.19 L301.8 280.74 L302 280.95 Z" fill="#cc0090" stroke="none"/>
<path d="M290.4 280.95 L330.9 280.95" stroke="#555" stroke-width="0.55" fill="none"/>
<path d="M292.2 280.95 L292.6 280.83 L293 280.49 L293.4 279.98 L293.8 279.35 L294.2 278.13 L294.6 276.24 L295 274.36 L295.4 272.51 L295.8 270.81 L296.2 269.86 L296.6 269.25 L297 269.24 L297.4 269.81 L297.8 270.58 L298.2 271.49 L298.6 272.62 L299 273.81 L299.4 275.1 L299.8 276.48 L300.2 277.73 L300.6 278.67 L301 279.48 L301.4 280.19 L301.8 280.74 L302 280.95" fill="none" stroke="#1a0014" stroke-width="0.62"/>
<path d="M291.5 288.96 L291.9 288.87 L292.3 288.64 L292.7 288.3 L293.1 287.89 L293.5 287.44 L293.9 286.78 L294.3 285.92 L294.7 284.99 L295.1 283.95 L295.5 282.73 L295.9 281.72 L296.3 281.14 L296.7 280.72 L297.1 280.71 L297.5 281.04 L297.9 281.47 L298.3 281.88 L298.7 282.32 L299.1 282.44 L299.5 282.11 L299.9 281.65 L300.3 281.29 L300.7 280.96 L301.1 280.88 L301.5 281.32 L301.9 282.11 L302.3 282.99 L302.7 284.22 L303.1 285.63 L303.5 286.83 L303.9 287.84 L304.3 288.75 L304.4 288.96 Z" fill="#cc0090" stroke="none"/>
<path d="M290.4 288.96 L330.9 288.96" stroke="#555" stroke-width="0.55" fill="none"/>
<path d="M291.5 288.96 L291.9 288.87 L292.3 288.64 L292.7 288.3 L293.1 287.89 L293.5 287.44 L293.9 286.78 L294.3 285.92 L294.7 284.99 L295.1 283.95 L295.5 282.73 L295.9 281.72 L296.3 281.14 L296.7 280.72 L297.1 280.71 L297.5 281.04 L297.9 281.47 L298.3 281.88 L298.7 282.32 L299.1 282.44 L299.5 282.11 L299.9 281.65 L300.3 281.29 L300.7 280.96 L301.1 280.88 L301.5 281.32 L301.9 282.11 L302.3 282.99 L302.7 284.22 L303.1 285.63 L303.5 286.83 L303.9 287.84 L304.3 288.75 L304.4 288.96" fill="none" stroke="#1a0014" stroke-width="0.62"/>
<path d="M292.9 296.96 L293.3 296.76 L293.7 296.25 L294.1 295.53 L294.5 294.7 L294.9 293.22 L295.3 291.36 L295.7 289.71 L296.1 288.53 L296.5 287.38 L296.9 286.46 L297.3 285.98 L297.7 286.13 L298.1 286.78 L298.5 287.68 L298.9 288.61 L299.3 289.75 L299.7 291.08 L300.1 292.43 L300.5 293.8 L300.9 295.2 L301.3 296.13 L301.7 296.72 L302 296.96 Z" fill="#cc0090" stroke="none"/>
<path d="M290.4 296.96 L330.9 296.96" stroke="#555" stroke-width="0.55" fill="none"/>
<path d="M292.9 296.96 L293.3 296.76 L293.7 296.25 L294.1 295.53 L294.5 294.7 L294.9 293.22 L295.3 291.36 L295.7 289.71 L296.1 288.53 L296.5 287.38 L296.9 286.46 L297.3 285.98 L297.7 286.13 L298.1 286.78 L298.5 287.68 L298.9 288.61 L299.3 289.75 L299.7 291.08 L300.1 292.43 L300.5 293.8 L300.9 295.2 L301.3 296.13 L301.7 296.72 L302 296.96" fill="none" stroke="#1a0014" stroke-width="0.62"/>
<path d="M292 304.95 L292.4 303.8 L292.8 302.61 L293.2 301.41 L293.6 300.3 L294 299.26 L294.4 298.3 L294.8 297.42 L295.2 296.66 L295.6 295.96 L296 295.39 L296.4 295.01 L296.8 294.68 L297.2 294.44 L297.6 294.35 L298 294.46 L298.4 294.74 L298.8 295.1 L299.2 295.59 L299.6 296.31 L300 297.1 L300.4 298.02 L300.8 299.05 L301.2 300.17 L301.6 301.39 L302 302.7 L302.4 304 L302.7 304.95 Z" fill="#cc0090" stroke="none"/>
<path d="M290.4 304.95 L330.9 304.95" stroke="#555" stroke-width="0.55" fill="none"/>
<path d="M292 304.95 L292.4 303.8 L292.8 302.61 L293.2 301.41 L293.6 300.3 L294 299.26 L294.4 298.3 L294.8 297.42 L295.2 296.66 L295.6 295.96 L296 295.39 L296.4 295.01 L296.8 294.68 L297.2 294.44 L297.6 294.35 L298 294.46 L298.4 294.74 L298.8 295.1 L299.2 295.59 L299.6 296.31 L300 297.1 L300.4 298.02 L300.8 299.05 L301.2 300.17 L301.6 301.39 L302 302.7 L302.4 304 L302.7 304.95" fill="none" stroke="#1a0014" stroke-width="0.62"/>
<path d="M292.7 312.93 L293.1 311.69 L293.5 310.41 L293.9 309.17 L294.3 308.02 L294.7 306.98 L295.1 306.03 L295.5 305.21 L295.9 304.51 L296.3 303.93 L296.7 303.57 L297.1 303.28 L297.5 303.08 L297.9 303.04 L298.3 303.18 L298.7 303.45 L299.1 303.79 L299.5 304.32 L299.9 305.03 L300.3 305.82 L300.7 306.77 L301.1 307.83 L301.5 309.03 L301.9 310.31 L302.3 311.64 L302.7 312.93 L302.7 312.93 Z" fill="#cc0090" stroke="none"/>
<path d="M290.4 312.93 L330.9 312.93" stroke="#555" stroke-width="0.55" fill="none"/>
<path d="M292.7 312.93 L293.1 311.69 L293.5 310.41 L293.9 309.17 L294.3 308.02 L294.7 306.98 L295.1 306.03 L295.5 305.21 L295.9 304.51 L296.3 303.93 L296.7 303.57 L297.1 303.28 L297.5 303.08 L297.9 303.04 L298.3 303.18 L298.7 303.45 L299.1 303.79 L299.5 304.32 L299.9 305.03 L300.3 305.82 L300.7 306.77 L301.1 307.83 L301.5 309.03 L301.9 310.31 L302.3 311.64 L302.7 312.93 L302.7 312.93" fill="none" stroke="#1a0014" stroke-width="0.62"/>
<path d="M291.9 320.91 L292.3 320.72 L292.7 320.4 L293.1 320.01 L293.5 319.54 L293.9 318.92 L294.3 318.13 L294.7 317.03 L295.1 315.55 L295.5 314.19 L295.9 312.9 L296.3 312.01 L296.7 311.58 L297.1 311.54 L297.5 311.78 L297.9 312.1 L298.3 312.62 L298.7 313.24 L299.1 313.76 L299.5 314.26 L299.9 314.65 L300.3 314.84 L300.7 314.95 L301.1 315.11 L301.5 315.41 L301.9 315.88 L302.3 316.49 L302.7 317.5 L303.1 318.66 L303.5 319.61 L303.9 320.49 L304.1 320.91 Z" fill="#cc0090" stroke="none"/>
<path d="M290.4 320.91 L330.9 320.91" stroke="#555" stroke-width="0.55" fill="none"/>
<path d="M291.9 320.91 L292.3 320.72 L292.7 320.4 L293.1 320.01 L293.5 319.54 L293.9 318.92 L294.3 318.13 L294.7 317.03 L295.1 315.55 L295.5 314.19 L295.9 312.9 L296.3 312.01 L296.7 311.58 L297.1 311.54 L297.5 311.78 L297.9 312.1 L298.3 312.62 L298.7 313.24 L299.1 313.76 L299.5 314.26 L299.9 314.65 L300.3 314.84 L300.7 314.95 L301.1 315.11 L301.5 315.41 L301.9 315.88 L302.3 316.49 L302.7 317.5 L303.1 318.66 L303.5 319.61 L303.9 320.49 L304.1 320.91" fill="none" stroke="#1a0014" stroke-width="0.62"/>
<path d="M292.6 328.88 L293 327.68 L293.4 326.46 L293.8 325.26 L294.2 324.13 L294.6 323.09 L295 322.17 L295.4 321.35 L295.8 320.66 L296.2 320.05 L296.6 319.63 L297 319.34 L297.4 319.1 L297.8 318.98 L298.2 319.04 L298.6 319.27 L299 319.6 L299.4 320.06 L299.8 320.75 L300.2 321.55 L300.6 322.52 L301 323.59 L301.4 324.8 L301.8 326.13 L302.2 327.53 L302.6 328.88 L302.6 328.88 Z" fill="#cc0090" stroke="none"/>
<path d="M290.4 328.88 L330.9 328.88" stroke="#555" stroke-width="0.55" fill="none"/>
<path d="M292.6 328.88 L293 327.68 L293.4 326.46 L293.8 325.26 L294.2 324.13 L294.6 323.09 L295 322.17 L295.4 321.35 L295.8 320.66 L296.2 320.05 L296.6 319.63 L297 319.34 L297.4 319.1 L297.8 318.98 L298.2 319.04 L298.6 319.27 L299 319.6 L299.4 320.06 L299.8 320.75 L300.2 321.55 L300.6 322.52 L301 323.59 L301.4 324.8 L301.8 326.13 L302.2 327.53 L302.6 328.88 L302.6 328.88" fill="none" stroke="#1a0014" stroke-width="0.62"/>
<path d="M291.7 336.84 L292.1 336.05 L292.5 335.26 L292.9 334.46 L293.3 333.69 L293.7 332.95 L294.1 332.26 L294.5 331.63 L294.9 331.05 L295.3 330.53 L295.7 330.08 L296.1 329.65 L296.5 329.3 L296.9 329.06 L297.3 328.86 L297.7 328.7 L298.1 328.58 L298.5 328.54 L298.9 328.6 L299.3 328.75 L299.7 328.97 L300.1 329.23 L300.5 329.64 L300.9 330.15 L301.3 330.71 L301.7 331.37 L302.1 332.1 L302.5 332.9 L302.9 333.77 L303.3 334.7 L303.7 335.66 L304.1 336.6 L304.2 336.84 Z" fill="#cc0090" stroke="none"/>
<path d="M290.4 336.84 L330.9 336.84" stroke="#555" stroke-width="0.55" fill="none"/>
<path d="M291.7 336.84 L292.1 336.05 L292.5 335.26 L292.9 334.46 L293.3 333.69 L293.7 332.95 L294.1 332.26 L294.5 331.63 L294.9 331.05 L295.3 330.53 L295.7 330.08 L296.1 329.65 L296.5 329.3 L296.9 329.06 L297.3 328.86 L297.7 328.7 L298.1 328.58 L298.5 328.54 L298.9 328.6 L299.3 328.75 L299.7 328.97 L300.1 329.23 L300.5 329.64 L300.9 330.15 L301.3 330.71 L301.7 331.37 L302.1 332.1 L302.5 332.9 L302.9 333.77 L303.3 334.7 L303.7 335.66 L304.1 336.6 L304.2 336.84" fill="none" stroke="#1a0014" stroke-width="0.62"/>
<path d="M291.5 344.79 L291.9 343.93 L292.3 343.05 L292.7 342.16 L293.1 341.31 L293.5 340.51 L293.9 339.76 L294.3 339.08 L294.7 338.44 L295.1 337.89 L295.5 337.4 L295.9 336.95 L296.3 336.59 L296.7 336.36 L297.1 336.16 L297.5 336 L297.9 335.9 L298.3 335.9 L298.7 336.01 L299.1 336.2 L299.5 336.43 L299.9 336.71 L300.3 337.14 L300.7 337.65 L301.1 338.21 L301.5 338.88 L301.9 339.61 L302.3 340.4 L302.7 341.26 L303.1 342.18 L303.5 343.14 L303.9 344.09 L304.2 344.79 Z" fill="#cc0090" stroke="none"/>
<path d="M290.4 344.79 L330.9 344.79" stroke="#555" stroke-width="0.55" fill="none"/>
<path d="M291.5 344.79 L291.9 343.93 L292.3 343.05 L292.7 342.16 L293.1 341.31 L293.5 340.51 L293.9 339.76 L294.3 339.08 L294.7 338.44 L295.1 337.89 L295.5 337.4 L295.9 336.95 L296.3 336.59 L296.7 336.36 L297.1 336.16 L297.5 336 L297.9 335.9 L298.3 335.9 L298.7 336.01 L299.1 336.2 L299.5 336.43 L299.9 336.71 L300.3 337.14 L300.7 337.65 L301.1 338.21 L301.5 338.88 L301.9 339.61 L302.3 340.4 L302.7 341.26 L303.1 342.18 L303.5 343.14 L303.9 344.09 L304.2 344.79" fill="none" stroke="#1a0014" stroke-width="0.62"/>
<path d="M293 352.73 L293.4 351.65 L293.8 350.51 L294.2 349.37 L294.6 348.25 L295 347.2 L295.4 346.23 L295.8 345.34 L296.2 344.53 L296.6 343.78 L297 343.21 L297.4 342.75 L297.8 342.35 L298.2 342.14 L298.6 342.24 L299 342.64 L299.4 343.17 L299.8 343.82 L300.2 344.7 L300.6 345.66 L301 346.75 L301.4 347.91 L301.8 349.17 L302.2 350.49 L302.6 351.8 L302.9 352.73 Z" fill="#cc0090" stroke="none"/>
<path d="M290.4 352.73 L330.9 352.73" stroke="#555" stroke-width="0.55" fill="none"/>
<path d="M293 352.73 L293.4 351.65 L293.8 350.51 L294.2 349.37 L294.6 348.25 L295 347.2 L295.4 346.23 L295.8 345.34 L296.2 344.53 L296.6 343.78 L297 343.21 L297.4 342.75 L297.8 342.35 L298.2 342.14 L298.6 342.24 L299 342.64 L299.4 343.17 L299.8 343.82 L300.2 344.7 L300.6 345.66 L301 346.75 L301.4 347.91 L301.8 349.17 L302.2 350.49 L302.6 351.8 L302.9 352.73" fill="none" stroke="#1a0014" stroke-width="0.62"/>
<path d="M292.2 360.67 L292.6 359.39 L293 357.99 L293.4 356.6 L293.8 355.26 L294.2 353.96 L294.6 352.7 L295 351.56 L295.4 350.49 L295.8 349.64 L296.2 348.85 L296.6 348.24 L297 348.1 L297.4 348.67 L297.8 349.61 L298.2 350.67 L298.6 352.01 L299 353.42 L299.4 354.95 L299.8 356.6 L300.2 358.28 L300.6 359.9 L300.8 360.67 Z" fill="#cc0090" stroke="none"/>
<path d="M290.4 360.67 L330.9 360.67" stroke="#555" stroke-width="0.55" fill="none"/>
<path d="M292.2 360.67 L292.6 359.39 L293 357.99 L293.4 356.6 L293.8 355.26 L294.2 353.96 L294.6 352.7 L295 351.56 L295.4 350.49 L295.8 349.64 L296.2 348.85 L296.6 348.24 L297 348.1 L297.4 348.67 L297.8 349.61 L298.2 350.67 L298.6 352.01 L299 353.42 L299.4 354.95 L299.8 356.6 L300.2 358.28 L300.6 359.9 L300.8 360.67" fill="none" stroke="#1a0014" stroke-width="0.62"/>
<path d="M292.2 368.6 L292.6 368.36 L293 367.88 L293.4 367.23 L293.8 366.16 L294.2 365 L294.6 363.8 L295 362.64 L295.4 361.84 L295.8 361.2 L296.2 360.73 L296.6 360.51 L297 360.35 L297.4 360.24 L297.8 360.2 L298.2 360.2 L298.6 360.2 L299 360.2 L299.4 360.2 L299.8 360.23 L300.2 360.3 L300.6 360.42 L301 360.66 L301.4 361.34 L301.8 362.2 L302.2 363.21 L302.6 364.41 L303 365.61 L303.4 366.87 L303.8 367.85 L304.2 368.6 L304.2 368.6 Z" fill="#cc0090" stroke="none"/>
<path d="M290.4 368.6 L330.9 368.6" stroke="#555" stroke-width="0.55" fill="none"/>
<path d="M292.2 368.6 L292.6 368.36 L293 367.88 L293.4 367.23 L293.8 366.16 L294.2 365 L294.6 363.8 L295 362.64 L295.4 361.84 L295.8 361.2 L296.2 360.73 L296.6 360.51 L297 360.35 L297.4 360.24 L297.8 360.2 L298.2 360.2 L298.6 360.2 L299 360.2 L299.4 360.2 L299.8 360.23 L300.2 360.3 L300.6 360.42 L301 360.66 L301.4 361.34 L301.8 362.2 L302.2 363.21 L302.6 364.41 L303 365.61 L303.4 366.87 L303.8 367.85 L304.2 368.6 L304.2 368.6" fill="none" stroke="#1a0014" stroke-width="0.62"/>
</g>
<rect x="288.5" y="207.2" width="44.5" height="165.7" fill="none" stroke="#a8a8a8" stroke-width="0.45"/>
<g class="lab" transform="scale(0.1)" font-size="42.4" fill="#1a1a1a" text-anchor="end">
<text x="2866" y="2161.7">Immunoregulatory interactions between a Lymphoid</text>
<text x="2866" y="2206.7">and a non−Lymphoid cell</text>
<text x="2866" y="2264.89">Innate Immune System</text>
<text x="2866" y="2345.5">Generation of second messenger molecules</text>
<text x="2866" y="2426.03">Neutrophil degranulation</text>
<text x="2866" y="2506.48">Interleukin−2 family signaling</text>
<text x="2866" y="2586.86">Interferon alpha/beta signaling</text>
<text x="2866" y="2667.16">HDR through Homologous Recombination (HRR)</text>
<text x="2866" y="2747.38">SUMOylation</text>
<text x="2866" y="2827.53">G2/M Checkpoints</text>
<text x="2866" y="2907.6">Mitotic Spindle Checkpoint</text>
<text x="2866" y="2987.59">Diseases of DNA repair</text>
<text x="2866" y="3067.5">Activation of the pre−replicative complex</text>
<text x="2866" y="3124.83">HDR through Homologous Recombination (HRR) or</text>
<text x="2866" y="3169.83">Single Strand Annealing (SSA)</text>
<text x="2866" y="3227.09">Resolution of Sister Chromatid Cohesion</text>
<text x="2866" y="3306.77">DNA Double−Strand Break Repair</text>
<text x="2866" y="3363.87">Amplification of signal from unattached</text>
<text x="2866" y="3408.87">kinetochores via a MAD2 inhibitory signal</text>
<text x="2866" y="3465.89">Amplification of signal from the kinetochores</text>
<text x="2866" y="3545.34">Homology Directed Repair</text>
<text x="2866" y="3602.21">Activation of ATR in response to replication</text>
<text x="2866" y="3647.21">stress</text>
<text x="2866" y="3704">Mitotic Prometaphase</text>
</g>
<g stroke="#444" stroke-width="0.5">
<line x1="287.2" y1="216.62" x2="288.5" y2="216.62"/>
<line x1="287.2" y1="224.69" x2="288.5" y2="224.69"/>
<line x1="287.2" y1="232.75" x2="288.5" y2="232.75"/>
<line x1="287.2" y1="240.8" x2="288.5" y2="240.8"/>
<line x1="287.2" y1="248.85" x2="288.5" y2="248.85"/>
<line x1="287.2" y1="256.89" x2="288.5" y2="256.89"/>
<line x1="287.2" y1="264.92" x2="288.5" y2="264.92"/>
<line x1="287.2" y1="272.94" x2="288.5" y2="272.94"/>
<line x1="287.2" y1="280.95" x2="288.5" y2="280.95"/>
<line x1="287.2" y1="288.96" x2="288.5" y2="288.96"/>
<line x1="287.2" y1="296.96" x2="288.5" y2="296.96"/>
<line x1="287.2" y1="304.95" x2="288.5" y2="304.95"/>
<line x1="287.2" y1="312.93" x2="288.5" y2="312.93"/>
<line x1="287.2" y1="320.91" x2="288.5" y2="320.91"/>
<line x1="287.2" y1="328.88" x2="288.5" y2="328.88"/>
<line x1="287.2" y1="336.84" x2="288.5" y2="336.84"/>
<line x1="287.2" y1="344.79" x2="288.5" y2="344.79"/>
<line x1="287.2" y1="352.73" x2="288.5" y2="352.73"/>
<line x1="287.2" y1="360.67" x2="288.5" y2="360.67"/>
<line x1="287.2" y1="368.6" x2="288.5" y2="368.6"/>
<line x1="296.4" y1="372.9" x2="296.4" y2="374.2"/>
<line x1="309.3" y1="372.9" x2="309.3" y2="374.2"/>
<line x1="322" y1="372.9" x2="322" y2="374.2"/>
</g>
<g class="lab" transform="scale(0.1)" font-size="42" fill="#1a1a1a" text-anchor="middle">
<text x="2964" y="3778">−0.5</text>
<text x="3093" y="3778">0.0</text>
<text x="3220" y="3778">0.5</text>
</g>
<text transform="scale(0.1)" x="3103" y="2056" font-size="71" font-weight="bold" fill="#000" stroke="#000" stroke-width="1.2" text-anchor="middle">RARRES3</text>
<text transform="scale(0.1)" x="3374" y="2778.5" font-size="33" fill="#222">p.adjust</text>
<rect x="337.8" y="280.05" width="5.5" height="26.3" fill="#cc0090"/>
<path d="M337.8 293.2 h1.1 M343.3 293.2 h-1.1" stroke="#fff" stroke-width="0.3" fill="none"/>
<text transform="scale(0.1)" x="3445" y="2943.5" font-size="27.2" fill="#111">0.01073777</text>
<g>
<line x1="478.55" y1="207.2" x2="478.55" y2="372.8" stroke="#f2f2f2" stroke-width="0.3"/>
<line x1="488.85" y1="207.2" x2="488.85" y2="372.8" stroke="#f2f2f2" stroke-width="0.3"/>
<line x1="498.95" y1="207.2" x2="498.95" y2="372.8" stroke="#f2f2f2" stroke-width="0.3"/>
<line x1="509.05" y1="207.2" x2="509.05" y2="372.8" stroke="#f2f2f2" stroke-width="0.3"/>
<line x1="483.7" y1="207.2" x2="483.7" y2="372.8" stroke="#ebebeb" stroke-width="0.45"/>
<line x1="494" y1="207.2" x2="494" y2="372.8" stroke="#ebebeb" stroke-width="0.45"/>
<line x1="504.1" y1="207.2" x2="504.1" y2="372.8" stroke="#ebebeb" stroke-width="0.45"/>
<line x1="514.2" y1="207.2" x2="514.2" y2="372.8" stroke="#ebebeb" stroke-width="0.45"/>
<line x1="474.6" y1="213.5" x2="519.8" y2="213.5" stroke="#ebebeb" stroke-width="0.45"/>
<line x1="474.6" y1="221.73" x2="519.8" y2="221.73" stroke="#ebebeb" stroke-width="0.45"/>
<line x1="474.6" y1="229.96" x2="519.8" y2="229.96" stroke="#ebebeb" stroke-width="0.45"/>
<line x1="474.6" y1="238.18" x2="519.8" y2="238.18" stroke="#ebebeb" stroke-width="0.45"/>
<line x1="474.6" y1="246.39" x2="519.8" y2="246.39" stroke="#ebebeb" stroke-width="0.45"/>
<line x1="474.6" y1="254.59" x2="519.8" y2="254.59" stroke="#ebebeb" stroke-width="0.45"/>
<line x1="474.6" y1="262.78" x2="519.8" y2="262.78" stroke="#ebebeb" stroke-width="0.45"/>
<line x1="474.6" y1="270.97" x2="519.8" y2="270.97" stroke="#ebebeb" stroke-width="0.45"/>
<line x1="474.6" y1="279.15" x2="519.8" y2="279.15" stroke="#ebebeb" stroke-width="0.45"/>
<line x1="474.6" y1="287.32" x2="519.8" y2="287.32" stroke="#ebebeb" stroke-width="0.45"/>
<line x1="474.6" y1="295.48" x2="519.8" y2="295.48" stroke="#ebebeb" stroke-width="0.45"/>
<line x1="474.6" y1="303.64" x2="519.8" y2="303.64" stroke="#ebebeb" stroke-width="0.45"/>
<line x1="474.6" y1="311.78" x2="519.8" y2="311.78" stroke="#ebebeb" stroke-width="0.45"/>
<line x1="474.6" y1="319.92" x2="519.8" y2="319.92" stroke="#ebebeb" stroke-width="0.45"/>
<line x1="474.6" y1="328.06" x2="519.8" y2="328.06" stroke="#ebebeb" stroke-width="0.45"/>
<line x1="474.6" y1="336.18" x2="519.8" y2="336.18" stroke="#ebebeb" stroke-width="0.45"/>
<line x1="474.6" y1="344.3" x2="519.8" y2="344.3" stroke="#ebebeb" stroke-width="0.45"/>
<line x1="474.6" y1="352.41" x2="519.8" y2="352.41" stroke="#ebebeb" stroke-width="0.45"/>
<line x1="474.6" y1="360.51" x2="519.8" y2="360.51" stroke="#ebebeb" stroke-width="0.45"/>
<line x1="474.6" y1="368.6" x2="519.8" y2="368.6" stroke="#ebebeb" stroke-width="0.45"/>
</g>
<g stroke-linejoin="round">
<path d="M499.1 213.5 L499.5 212.76 L499.9 212.06 L500.3 211.42 L500.7 210.83 L501.1 210.28 L501.5 209.69 L501.9 209.14 L502.3 208.67 L502.7 208.37 L503.1 208.3 L503.5 208.36 L503.9 208.47 L504.3 208.62 L504.7 208.78 L505.1 208.94 L505.5 209.18 L505.9 209.44 L506.3 209.59 L506.7 209.55 L507.1 209.35 L507.5 209.08 L507.9 208.78 L508.3 208.54 L508.7 208.37 L509.1 208.2 L509.5 208.05 L509.9 207.94 L510.3 207.9 L510.7 208.05 L511.1 208.44 L511.5 208.96 L511.9 209.78 L512.3 211.07 L512.7 212.11 L513.1 212.89 L513.5 213.5 L513.5 213.5 Z" fill="#cc0090" stroke="none"/>
<path d="M476.8 213.5 L517.5 213.5" stroke="#555" stroke-width="0.55" fill="none"/>
<path d="M499.1 213.5 L499.5 212.76 L499.9 212.06 L500.3 211.42 L500.7 210.83 L501.1 210.28 L501.5 209.69 L501.9 209.14 L502.3 208.67 L502.7 208.37 L503.1 208.3 L503.5 208.36 L503.9 208.47 L504.3 208.62 L504.7 208.78 L505.1 208.94 L505.5 209.18 L505.9 209.44 L506.3 209.59 L506.7 209.55 L507.1 209.35 L507.5 209.08 L507.9 208.78 L508.3 208.54 L508.7 208.37 L509.1 208.2 L509.5 208.05 L509.9 207.94 L510.3 207.9 L510.7 208.05 L511.1 208.44 L511.5 208.96 L511.9 209.78 L512.3 211.07 L512.7 212.11 L513.1 212.89 L513.5 213.5 L513.5 213.5" fill="none" stroke="#1a0014" stroke-width="0.62"/>
<path d="M500.5 221.73 L500.9 221.08 L501.3 220.45 L501.7 219.84 L502.1 219.27 L502.5 218.72 L502.9 218.17 L503.3 217.67 L503.7 217.23 L504.1 216.84 L504.5 216.46 L504.9 216.24 L505.3 216.31 L505.7 216.54 L506.1 216.72 L506.5 216.7 L506.9 216.57 L507.3 216.38 L507.7 216.08 L508.1 215.51 L508.5 214.85 L508.9 214.25 L509.3 213.78 L509.7 213.3 L510.1 212.98 L510.5 213.04 L510.9 213.78 L511.3 214.86 L511.7 216.26 L512.1 218.17 L512.5 219.62 L512.9 220.66 L513.3 221.46 L513.5 221.73 Z" fill="#cc0090" stroke="none"/>
<path d="M476.8 221.73 L517.5 221.73" stroke="#555" stroke-width="0.55" fill="none"/>
<path d="M500.5 221.73 L500.9 221.08 L501.3 220.45 L501.7 219.84 L502.1 219.27 L502.5 218.72 L502.9 218.17 L503.3 217.67 L503.7 217.23 L504.1 216.84 L504.5 216.46 L504.9 216.24 L505.3 216.31 L505.7 216.54 L506.1 216.72 L506.5 216.7 L506.9 216.57 L507.3 216.38 L507.7 216.08 L508.1 215.51 L508.5 214.85 L508.9 214.25 L509.3 213.78 L509.7 213.3 L510.1 212.98 L510.5 213.04 L510.9 213.78 L511.3 214.86 L511.7 216.26 L512.1 218.17 L512.5 219.62 L512.9 220.66 L513.3 221.46 L513.5 221.73" fill="none" stroke="#1a0014" stroke-width="0.62"/>
<path d="M502.4 229.96 L502.8 229.42 L503.2 228.91 L503.6 228.42 L504 227.96 L504.4 227.51 L504.8 227.08 L505.2 226.68 L505.6 226.34 L506 226.06 L506.4 225.86 L506.8 225.65 L507.2 225.36 L507.6 224.82 L508 224.04 L508.4 223.23 L508.8 222.56 L509.2 222 L509.6 221.44 L510 221 L510.4 220.77 L510.8 220.93 L511.2 221.58 L511.6 222.48 L512 223.53 L512.4 225.1 L512.8 226.72 L513.2 227.89 L513.6 228.85 L514 229.64 L514.2 229.96 Z" fill="#cc0090" stroke="none"/>
<path d="M476.8 229.96 L517.5 229.96" stroke="#555" stroke-width="0.55" fill="none"/>
<path d="M502.4 229.96 L502.8 229.42 L503.2 228.91 L503.6 228.42 L504 227.96 L504.4 227.51 L504.8 227.08 L505.2 226.68 L505.6 226.34 L506 226.06 L506.4 225.86 L506.8 225.65 L507.2 225.36 L507.6 224.82 L508 224.04 L508.4 223.23 L508.8 222.56 L509.2 222 L509.6 221.44 L510 221 L510.4 220.77 L510.8 220.93 L511.2 221.58 L511.6 222.48 L512 223.53 L512.4 225.1 L512.8 226.72 L513.2 227.89 L513.6 228.85 L514 229.64 L514.2 229.96" fill="none" stroke="#1a0014" stroke-width="0.62"/>
<path d="M497.8 238.18 L498.2 237.25 L498.6 236.39 L499 235.59 L499.4 234.89 L499.8 234.27 L500.2 233.63 L500.6 233.01 L501 232.48 L501.4 232.11 L501.8 231.98 L502.2 232.03 L502.6 232.19 L503 232.4 L503.4 232.64 L503.8 232.87 L504.2 233.07 L504.6 233.28 L505 233.49 L505.4 233.71 L505.8 233.93 L506.2 234.15 L506.6 234.37 L507 234.58 L507.4 234.77 L507.8 234.96 L508.2 235.15 L508.6 235.33 L509 235.52 L509.4 235.71 L509.8 235.91 L510.2 236.12 L510.6 236.35 L511 236.61 L511.4 236.88 L511.8 237.15 L512.2 237.4 L512.6 237.64 L513 237.88 L513.4 238.12 L513.5 238.18 Z" fill="#cc0090" stroke="none"/>
<path d="M476.8 238.18 L517.5 238.18" stroke="#555" stroke-width="0.55" fill="none"/>
<path d="M497.8 238.18 L498.2 237.25 L498.6 236.39 L499 235.59 L499.4 234.89 L499.8 234.27 L500.2 233.63 L500.6 233.01 L501 232.48 L501.4 232.11 L501.8 231.98 L502.2 232.03 L502.6 232.19 L503 232.4 L503.4 232.64 L503.8 232.87 L504.2 233.07 L504.6 233.28 L505 233.49 L505.4 233.71 L505.8 233.93 L506.2 234.15 L506.6 234.37 L507 234.58 L507.4 234.77 L507.8 234.96 L508.2 235.15 L508.6 235.33 L509 235.52 L509.4 235.71 L509.8 235.91 L510.2 236.12 L510.6 236.35 L511 236.61 L511.4 236.88 L511.8 237.15 L512.2 237.4 L512.6 237.64 L513 237.88 L513.4 238.12 L513.5 238.18" fill="none" stroke="#1a0014" stroke-width="0.62"/>
<path d="M500.5 246.39 L500.9 245.62 L501.3 244.88 L501.7 244.19 L502.1 243.54 L502.5 242.9 L502.9 242.2 L503.3 241.52 L503.7 240.95 L504.1 240.58 L504.5 240.49 L504.9 240.5 L505.3 240.52 L505.7 240.55 L506.1 240.57 L506.5 240.58 L506.9 240.58 L507.3 240.54 L507.7 240.49 L508.1 240.43 L508.5 240.37 L508.9 240.25 L509.3 240.12 L509.7 240.1 L510.1 240.38 L510.5 240.93 L510.9 241.61 L511.3 242.51 L511.7 243.77 L512.1 244.8 L512.5 245.6 L512.9 246.25 L513 246.39 Z" fill="#cc0090" stroke="none"/>
<path d="M476.8 246.39 L517.5 246.39" stroke="#555" stroke-width="0.55" fill="none"/>
<path d="M500.5 246.39 L500.9 245.62 L501.3 244.88 L501.7 244.19 L502.1 243.54 L502.5 242.9 L502.9 242.2 L503.3 241.52 L503.7 240.95 L504.1 240.58 L504.5 240.49 L504.9 240.5 L505.3 240.52 L505.7 240.55 L506.1 240.57 L506.5 240.58 L506.9 240.58 L507.3 240.54 L507.7 240.49 L508.1 240.43 L508.5 240.37 L508.9 240.25 L509.3 240.12 L509.7 240.1 L510.1 240.38 L510.5 240.93 L510.9 241.61 L511.3 242.51 L511.7 243.77 L512.1 244.8 L512.5 245.6 L512.9 246.25 L513 246.39" fill="none" stroke="#1a0014" stroke-width="0.62"/>
<path d="M496.9 254.59 L497.3 253.25 L497.7 252.04 L498.1 251.01 L498.5 250.11 L498.9 249.21 L499.3 248.48 L499.7 248.1 L500.1 248.12 L500.5 248.27 L500.9 248.5 L501.3 248.76 L501.7 249.02 L502.1 249.24 L502.5 249.45 L502.9 249.67 L503.3 249.88 L503.7 250.1 L504.1 250.32 L504.5 250.53 L504.9 250.74 L505.3 250.93 L505.7 251.13 L506.1 251.31 L506.5 251.5 L506.9 251.68 L507.3 251.86 L507.7 252.05 L508.1 252.23 L508.5 252.43 L508.9 252.62 L509.3 252.82 L509.7 253.02 L510.1 253.21 L510.5 253.39 L510.9 253.55 L511.3 253.7 L511.7 253.84 L512.1 253.98 L512.5 254.11 L512.9 254.24 L513.3 254.35 L513.7 254.46 L514.1 254.56 L514.2 254.59 Z" fill="#cc0090" stroke="none"/>
<path d="M476.8 254.59 L517.5 254.59" stroke="#555" stroke-width="0.55" fill="none"/>
<path d="M496.9 254.59 L497.3 253.25 L497.7 252.04 L498.1 251.01 L498.5 250.11 L498.9 249.21 L499.3 248.48 L499.7 248.1 L500.1 248.12 L500.5 248.27 L500.9 248.5 L501.3 248.76 L501.7 249.02 L502.1 249.24 L502.5 249.45 L502.9 249.67 L503.3 249.88 L503.7 250.1 L504.1 250.32 L504.5 250.53 L504.9 250.74 L505.3 250.93 L505.7 251.13 L506.1 251.31 L506.5 251.5 L506.9 251.68 L507.3 251.86 L507.7 252.05 L508.1 252.23 L508.5 252.43 L508.9 252.62 L509.3 252.82 L509.7 253.02 L510.1 253.21 L510.5 253.39 L510.9 253.55 L511.3 253.7 L511.7 253.84 L512.1 253.98 L512.5 254.11 L512.9 254.24 L513.3 254.35 L513.7 254.46 L514.1 254.56 L514.2 254.59" fill="none" stroke="#1a0014" stroke-width="0.62"/>
<path d="M500 262.78 L500.4 261.64 L500.8 260.63 L501.2 259.78 L501.6 258.98 L502 258.28 L502.4 257.98 L502.8 258.05 L503.2 258.16 L503.6 258.16 L504 257.98 L504.4 257.72 L504.8 257.41 L505.2 256.96 L505.6 256.52 L506 256.28 L506.4 256.11 L506.8 256 L507.2 256.02 L507.6 256.28 L508 256.7 L508.4 257.17 L508.8 257.59 L509.2 258.06 L509.6 258.56 L510 259.07 L510.4 259.58 L510.8 260.09 L511.2 260.6 L511.6 261.1 L512 261.58 L512.4 262.04 L512.8 262.47 L513.1 262.78 Z" fill="#cc0090" stroke="none"/>
<path d="M476.8 262.78 L517.5 262.78" stroke="#555" stroke-width="0.55" fill="none"/>
<path d="M500 262.78 L500.4 261.64 L500.8 260.63 L501.2 259.78 L501.6 258.98 L502 258.28 L502.4 257.98 L502.8 258.05 L503.2 258.16 L503.6 258.16 L504 257.98 L504.4 257.72 L504.8 257.41 L505.2 256.96 L505.6 256.52 L506 256.28 L506.4 256.11 L506.8 256 L507.2 256.02 L507.6 256.28 L508 256.7 L508.4 257.17 L508.8 257.59 L509.2 258.06 L509.6 258.56 L510 259.07 L510.4 259.58 L510.8 260.09 L511.2 260.6 L511.6 261.1 L512 261.58 L512.4 262.04 L512.8 262.47 L513.1 262.78" fill="none" stroke="#1a0014" stroke-width="0.62"/>
<path d="M497.8 270.97 L498.2 270.29 L498.6 269.53 L499 268.71 L499.4 267.83 L499.8 266.85 L500.2 265.62 L500.6 264.42 L501 263.57 L501.4 263.03 L501.8 262.77 L502.2 262.99 L502.6 263.51 L503 264.11 L503.4 264.61 L503.8 265.14 L504.2 265.67 L504.6 266.16 L505 266.57 L505.4 266.89 L505.8 267.18 L506.2 267.44 L506.6 267.69 L507 267.93 L507.4 268.17 L507.8 268.41 L508.2 268.65 L508.6 268.88 L509 269.11 L509.4 269.34 L509.8 269.57 L510.2 269.8 L510.6 270.03 L511 270.27 L511.4 270.5 L511.8 270.73 L512.2 270.97 L512.2 270.97 Z" fill="#cc0090" stroke="none"/>
<path d="M476.8 270.97 L517.5 270.97" stroke="#555" stroke-width="0.55" fill="none"/>
<path d="M497.8 270.97 L498.2 270.29 L498.6 269.53 L499 268.71 L499.4 267.83 L499.8 266.85 L500.2 265.62 L500.6 264.42 L501 263.57 L501.4 263.03 L501.8 262.77 L502.2 262.99 L502.6 263.51 L503 264.11 L503.4 264.61 L503.8 265.14 L504.2 265.67 L504.6 266.16 L505 266.57 L505.4 266.89 L505.8 267.18 L506.2 267.44 L506.6 267.69 L507 267.93 L507.4 268.17 L507.8 268.41 L508.2 268.65 L508.6 268.88 L509 269.11 L509.4 269.34 L509.8 269.57 L510.2 269.8 L510.6 270.03 L511 270.27 L511.4 270.5 L511.8 270.73 L512.2 270.97 L512.2 270.97" fill="none" stroke="#1a0014" stroke-width="0.62"/>
<path d="M503 279.15 L503.4 278.68 L503.8 278.17 L504.2 277.63 L504.6 277.05 L505 276.43 L505.4 275.77 L505.8 275.06 L506.2 274.32 L506.6 273.55 L507 272.66 L507.4 271.7 L507.8 270.86 L508.2 270.27 L508.6 269.77 L509 269.55 L509.4 269.81 L509.8 270.43 L510.2 271.15 L510.6 271.98 L511 273 L511.4 274.05 L511.8 275.03 L512.2 276.04 L512.6 276.99 L513 277.75 L513.4 278.32 L513.8 278.8 L514.2 279.15 L514.2 279.15 Z" fill="#cc0090" stroke="none"/>
<path d="M476.8 279.15 L517.5 279.15" stroke="#555" stroke-width="0.55" fill="none"/>
<path d="M503 279.15 L503.4 278.68 L503.8 278.17 L504.2 277.63 L504.6 277.05 L505 276.43 L505.4 275.77 L505.8 275.06 L506.2 274.32 L506.6 273.55 L507 272.66 L507.4 271.7 L507.8 270.86 L508.2 270.27 L508.6 269.77 L509 269.55 L509.4 269.81 L509.8 270.43 L510.2 271.15 L510.6 271.98 L511 273 L511.4 274.05 L511.8 275.03 L512.2 276.04 L512.6 276.99 L513 277.75 L513.4 278.32 L513.8 278.8 L514.2 279.15 L514.2 279.15" fill="none" stroke="#1a0014" stroke-width="0.62"/>
<path d="M498.2 287.32 L498.6 286.79 L499 286.21 L499.4 285.58 L499.8 284.92 L500.2 284.16 L500.6 283.31 L501 282.47 L501.4 281.72 L501.8 280.98 L502.2 280.23 L502.6 279.65 L503 279.42 L503.4 279.62 L503.8 280.12 L504.2 280.74 L504.6 281.32 L505 281.84 L505.4 282.4 L505.8 282.96 L506.2 283.48 L506.6 283.94 L507 284.37 L507.4 284.78 L507.8 285.16 L508.2 285.53 L508.6 285.9 L509 286.25 L509.4 286.59 L509.8 286.92 L510.2 287.24 L510.3 287.32 Z" fill="#cc0090" stroke="none"/>
<path d="M476.8 287.32 L517.5 287.32" stroke="#555" stroke-width="0.55" fill="none"/>
<path d="M498.2 287.32 L498.6 286.79 L499 286.21 L499.4 285.58 L499.8 284.92 L500.2 284.16 L500.6 283.31 L501 282.47 L501.4 281.72 L501.8 280.98 L502.2 280.23 L502.6 279.65 L503 279.42 L503.4 279.62 L503.8 280.12 L504.2 280.74 L504.6 281.32 L505 281.84 L505.4 282.4 L505.8 282.96 L506.2 283.48 L506.6 283.94 L507 284.37 L507.4 284.78 L507.8 285.16 L508.2 285.53 L508.6 285.9 L509 286.25 L509.4 286.59 L509.8 286.92 L510.2 287.24 L510.3 287.32" fill="none" stroke="#1a0014" stroke-width="0.62"/>
<path d="M503 295.48 L503.4 295.19 L503.8 294.83 L504.2 294.42 L504.6 293.97 L505 293.48 L505.4 292.94 L505.8 292.34 L506.2 291.66 L506.6 290.89 L507 290 L507.4 288.78 L507.8 287.46 L508.2 286.31 L508.6 285.51 L509 284.81 L509.4 284.35 L509.8 284.37 L510.2 285.01 L510.6 285.97 L511 287.08 L511.4 288.68 L511.8 290.37 L512.2 291.71 L512.6 292.91 L513 293.9 L513.4 294.6 L513.8 295.14 L514.2 295.48 L514.2 295.48 Z" fill="#cc0090" stroke="none"/>
<path d="M476.8 295.48 L517.5 295.48" stroke="#555" stroke-width="0.55" fill="none"/>
<path d="M503 295.48 L503.4 295.19 L503.8 294.83 L504.2 294.42 L504.6 293.97 L505 293.48 L505.4 292.94 L505.8 292.34 L506.2 291.66 L506.6 290.89 L507 290 L507.4 288.78 L507.8 287.46 L508.2 286.31 L508.6 285.51 L509 284.81 L509.4 284.35 L509.8 284.37 L510.2 285.01 L510.6 285.97 L511 287.08 L511.4 288.68 L511.8 290.37 L512.2 291.71 L512.6 292.91 L513 293.9 L513.4 294.6 L513.8 295.14 L514.2 295.48 L514.2 295.48" fill="none" stroke="#1a0014" stroke-width="0.62"/>
<path d="M496.9 303.64 L497.3 303.14 L497.7 302.61 L498.1 302.06 L498.5 301.48 L498.9 300.88 L499.3 300.2 L499.7 299.46 L500.1 298.72 L500.5 298.05 L500.9 297.51 L501.3 296.97 L501.7 296.47 L502.1 296.13 L502.5 296.05 L502.9 296.37 L503.3 296.96 L503.7 297.62 L504.1 298.15 L504.5 298.64 L504.9 299.12 L505.3 299.57 L505.7 299.98 L506.1 300.32 L506.5 300.65 L506.9 300.97 L507.3 301.18 L507.7 301.24 L508.1 301.24 L508.5 301.24 L508.9 301.24 L509.3 301.3 L509.7 301.54 L510.1 301.86 L510.5 302.17 L510.9 302.42 L511.3 302.67 L511.7 302.91 L512.1 303.15 L512.5 303.4 L512.9 303.64 L512.9 303.64 Z" fill="#cc0090" stroke="none"/>
<path d="M476.8 303.64 L517.5 303.64" stroke="#555" stroke-width="0.55" fill="none"/>
<path d="M496.9 303.64 L497.3 303.14 L497.7 302.61 L498.1 302.06 L498.5 301.48 L498.9 300.88 L499.3 300.2 L499.7 299.46 L500.1 298.72 L500.5 298.05 L500.9 297.51 L501.3 296.97 L501.7 296.47 L502.1 296.13 L502.5 296.05 L502.9 296.37 L503.3 296.96 L503.7 297.62 L504.1 298.15 L504.5 298.64 L504.9 299.12 L505.3 299.57 L505.7 299.98 L506.1 300.32 L506.5 300.65 L506.9 300.97 L507.3 301.18 L507.7 301.24 L508.1 301.24 L508.5 301.24 L508.9 301.24 L509.3 301.3 L509.7 301.54 L510.1 301.86 L510.5 302.17 L510.9 302.42 L511.3 302.67 L511.7 302.91 L512.1 303.15 L512.5 303.4 L512.9 303.64 L512.9 303.64" fill="none" stroke="#1a0014" stroke-width="0.62"/>
<path d="M499.1 311.78 L499.5 310.9 L499.9 310.08 L500.3 309.31 L500.7 308.61 L501.1 307.85 L501.5 307.1 L501.9 306.5 L502.3 306.2 L502.7 306.23 L503.1 306.38 L503.5 306.59 L503.9 306.81 L504.3 306.96 L504.7 307.04 L505.1 307.11 L505.5 307.16 L505.9 307.18 L506.3 307.17 L506.7 307.13 L507.1 307.06 L507.5 306.98 L507.9 306.91 L508.3 306.84 L508.7 306.79 L509.1 306.79 L509.5 306.91 L509.9 307.16 L510.3 307.5 L510.7 307.89 L511.1 308.38 L511.5 309.12 L511.9 309.91 L512.3 310.51 L512.7 311 L513.1 311.43 L513.5 311.78 L513.5 311.78 Z" fill="#cc0090" stroke="none"/>
<path d="M476.8 311.78 L517.5 311.78" stroke="#555" stroke-width="0.55" fill="none"/>
<path d="M499.1 311.78 L499.5 310.9 L499.9 310.08 L500.3 309.31 L500.7 308.61 L501.1 307.85 L501.5 307.1 L501.9 306.5 L502.3 306.2 L502.7 306.23 L503.1 306.38 L503.5 306.59 L503.9 306.81 L504.3 306.96 L504.7 307.04 L505.1 307.11 L505.5 307.16 L505.9 307.18 L506.3 307.17 L506.7 307.13 L507.1 307.06 L507.5 306.98 L507.9 306.91 L508.3 306.84 L508.7 306.79 L509.1 306.79 L509.5 306.91 L509.9 307.16 L510.3 307.5 L510.7 307.89 L511.1 308.38 L511.5 309.12 L511.9 309.91 L512.3 310.51 L512.7 311 L513.1 311.43 L513.5 311.78 L513.5 311.78" fill="none" stroke="#1a0014" stroke-width="0.62"/>
<path d="M497.8 319.92 L498.2 319.12 L498.6 318.24 L499 317.31 L499.4 316.32 L499.8 315.17 L500.2 313.9 L500.6 312.76 L501 311.92 L501.4 311.42 L501.8 311.81 L502.2 312.63 L502.6 313.32 L503 313.8 L503.4 314.25 L503.8 314.59 L504.2 314.72 L504.6 314.72 L505 314.72 L505.4 314.72 L505.8 314.73 L506.2 314.97 L506.6 315.4 L507 315.9 L507.4 316.32 L507.8 316.66 L508.2 316.99 L508.6 317.31 L509 317.62 L509.4 317.92 L509.8 318.22 L510.2 318.52 L510.6 318.81 L511 319.1 L511.4 319.38 L511.8 319.65 L512.2 319.92 L512.2 319.92 Z" fill="#cc0090" stroke="none"/>
<path d="M476.8 319.92 L517.5 319.92" stroke="#555" stroke-width="0.55" fill="none"/>
<path d="M497.8 319.92 L498.2 319.12 L498.6 318.24 L499 317.31 L499.4 316.32 L499.8 315.17 L500.2 313.9 L500.6 312.76 L501 311.92 L501.4 311.42 L501.8 311.81 L502.2 312.63 L502.6 313.32 L503 313.8 L503.4 314.25 L503.8 314.59 L504.2 314.72 L504.6 314.72 L505 314.72 L505.4 314.72 L505.8 314.73 L506.2 314.97 L506.6 315.4 L507 315.9 L507.4 316.32 L507.8 316.66 L508.2 316.99 L508.6 317.31 L509 317.62 L509.4 317.92 L509.8 318.22 L510.2 318.52 L510.6 318.81 L511 319.1 L511.4 319.38 L511.8 319.65 L512.2 319.92 L512.2 319.92" fill="none" stroke="#1a0014" stroke-width="0.62"/>
<path d="M478.2 328.06 L478.6 327.93 L479 327.63 L479.4 327.21 L479.8 326.72 L480.2 326.15 L480.6 325.35 L481 324.33 L481.4 323.18 L481.8 321.9 L482.2 320.22 L482.6 318.48 L483 317.13 L483.4 316.1 L483.8 315.29 L484.2 315.09 L484.6 315.74 L485 316.87 L485.4 318.14 L485.8 319.89 L486.2 321.76 L486.6 323.36 L487 324.91 L487.4 326.2 L487.8 327.02 L488.2 327.64 L488.6 328.02 L488.7 328.06 Z" fill="#cc0090" stroke="none"/>
<path d="M476.8 328.06 L517.5 328.06" stroke="#555" stroke-width="0.55" fill="none"/>
<path d="M478.2 328.06 L478.6 327.93 L479 327.63 L479.4 327.21 L479.8 326.72 L480.2 326.15 L480.6 325.35 L481 324.33 L481.4 323.18 L481.8 321.9 L482.2 320.22 L482.6 318.48 L483 317.13 L483.4 316.1 L483.8 315.29 L484.2 315.09 L484.6 315.74 L485 316.87 L485.4 318.14 L485.8 319.89 L486.2 321.76 L486.6 323.36 L487 324.91 L487.4 326.2 L487.8 327.02 L488.2 327.64 L488.6 328.02 L488.7 328.06" fill="none" stroke="#1a0014" stroke-width="0.62"/>
<path d="M478.2 336.18 L478.6 336.05 L479 335.75 L479.4 335.33 L479.8 334.84 L480.2 334.28 L480.6 333.47 L481 332.45 L481.4 331.31 L481.8 330.03 L482.2 328.34 L482.6 326.6 L483 325.26 L483.4 324.23 L483.8 323.41 L484.2 323.2 L484.6 323.68 L485 324.57 L485.4 325.59 L485.8 326.84 L486.2 328.42 L486.6 330.01 L487 331.37 L487.4 332.69 L487.8 333.88 L488.2 334.78 L488.6 335.43 L489 335.94 L489.3 336.18 Z" fill="#cc0090" stroke="none"/>
<path d="M476.8 336.18 L517.5 336.18" stroke="#555" stroke-width="0.55" fill="none"/>
<path d="M478.2 336.18 L478.6 336.05 L479 335.75 L479.4 335.33 L479.8 334.84 L480.2 334.28 L480.6 333.47 L481 332.45 L481.4 331.31 L481.8 330.03 L482.2 328.34 L482.6 326.6 L483 325.26 L483.4 324.23 L483.8 323.41 L484.2 323.2 L484.6 323.68 L485 324.57 L485.4 325.59 L485.8 326.84 L486.2 328.42 L486.6 330.01 L487 331.37 L487.4 332.69 L487.8 333.88 L488.2 334.78 L488.6 335.43 L489 335.94 L489.3 336.18" fill="none" stroke="#1a0014" stroke-width="0.62"/>
<path d="M478.2 344.3 L478.6 344.17 L479 343.87 L479.4 343.45 L479.8 342.96 L480.2 342.4 L480.6 341.59 L481 340.57 L481.4 339.42 L481.8 338.15 L482.2 336.46 L482.6 334.72 L483 333.37 L483.4 332.34 L483.8 331.53 L484.2 331.32 L484.6 331.8 L485 332.69 L485.4 333.7 L485.8 334.95 L486.2 336.53 L486.6 338.13 L487 339.49 L487.4 340.81 L487.8 342 L488.2 342.9 L488.6 343.55 L489 344.06 L489.3 344.3 Z" fill="#cc0090" stroke="none"/>
<path d="M476.8 344.3 L517.5 344.3" stroke="#555" stroke-width="0.55" fill="none"/>
<path d="M478.2 344.3 L478.6 344.17 L479 343.87 L479.4 343.45 L479.8 342.96 L480.2 342.4 L480.6 341.59 L481 340.57 L481.4 339.42 L481.8 338.15 L482.2 336.46 L482.6 334.72 L483 333.37 L483.4 332.34 L483.8 331.53 L484.2 331.32 L484.6 331.8 L485 332.69 L485.4 333.7 L485.8 334.95 L486.2 336.53 L486.6 338.13 L487 339.49 L487.4 340.81 L487.8 342 L488.2 342.9 L488.6 343.55 L489 344.06 L489.3 344.3" fill="none" stroke="#1a0014" stroke-width="0.62"/>
<path d="M478.2 352.41 L478.6 352.28 L479 351.98 L479.4 351.56 L479.8 351.07 L480.2 350.5 L480.6 349.7 L481 348.68 L481.4 347.53 L481.8 346.25 L482.2 344.57 L482.6 342.83 L483 341.48 L483.4 340.45 L483.8 339.64 L484.2 339.43 L484.6 339.91 L485 340.8 L485.4 341.81 L485.8 343.06 L486.2 344.64 L486.6 346.24 L487 347.59 L487.4 348.92 L487.8 350.11 L488.2 351.01 L488.6 351.66 L489 352.17 L489.3 352.41 Z" fill="#cc0090" stroke="none"/>
<path d="M476.8 352.41 L517.5 352.41" stroke="#555" stroke-width="0.55" fill="none"/>
<path d="M478.2 352.41 L478.6 352.28 L479 351.98 L479.4 351.56 L479.8 351.07 L480.2 350.5 L480.6 349.7 L481 348.68 L481.4 347.53 L481.8 346.25 L482.2 344.57 L482.6 342.83 L483 341.48 L483.4 340.45 L483.8 339.64 L484.2 339.43 L484.6 339.91 L485 340.8 L485.4 341.81 L485.8 343.06 L486.2 344.64 L486.6 346.24 L487 347.59 L487.4 348.92 L487.8 350.11 L488.2 351.01 L488.6 351.66 L489 352.17 L489.3 352.41" fill="none" stroke="#1a0014" stroke-width="0.62"/>
<path d="M478.2 360.51 L478.6 360.38 L479 360.08 L479.4 359.66 L479.8 359.17 L480.2 358.61 L480.6 357.8 L481 356.78 L481.4 355.63 L481.8 354.36 L482.2 352.67 L482.6 350.93 L483 349.58 L483.4 348.55 L483.8 347.74 L484.2 347.53 L484.6 348.01 L485 348.9 L485.4 349.91 L485.8 351.16 L486.2 352.74 L486.6 354.34 L487 355.7 L487.4 357.02 L487.8 358.21 L488.2 359.11 L488.6 359.76 L489 360.27 L489.3 360.51 Z" fill="#cc0090" stroke="none"/>
<path d="M476.8 360.51 L517.5 360.51" stroke="#555" stroke-width="0.55" fill="none"/>
<path d="M478.2 360.51 L478.6 360.38 L479 360.08 L479.4 359.66 L479.8 359.17 L480.2 358.61 L480.6 357.8 L481 356.78 L481.4 355.63 L481.8 354.36 L482.2 352.67 L482.6 350.93 L483 349.58 L483.4 348.55 L483.8 347.74 L484.2 347.53 L484.6 348.01 L485 348.9 L485.4 349.91 L485.8 351.16 L486.2 352.74 L486.6 354.34 L487 355.7 L487.4 357.02 L487.8 358.21 L488.2 359.11 L488.6 359.76 L489 360.27 L489.3 360.51" fill="none" stroke="#1a0014" stroke-width="0.62"/>
<path d="M478.2 368.6 L478.6 368.43 L479 367.98 L479.4 367.34 L479.8 366.6 L480.2 365.47 L480.6 363.87 L481 362.16 L481.4 360.64 L481.8 359.08 L482.2 357.63 L482.6 356.51 L483 355.63 L483.4 354.9 L483.8 354.6 L484.2 355.04 L484.6 356.09 L485 357.33 L485.4 358.84 L485.8 360.74 L486.2 362.64 L486.6 364.66 L487 366.55 L487.4 367.68 L487.8 368.42 L488 368.6 Z" fill="#cc0090" stroke="none"/>
<path d="M476.8 368.6 L517.5 368.6" stroke="#555" stroke-width="0.55" fill="none"/>
<path d="M478.2 368.6 L478.6 368.43 L479 367.98 L479.4 367.34 L479.8 366.6 L480.2 365.47 L480.6 363.87 L481 362.16 L481.4 360.64 L481.8 359.08 L482.2 357.63 L482.6 356.51 L483 355.63 L483.4 354.9 L483.8 354.6 L484.2 355.04 L484.6 356.09 L485 357.33 L485.4 358.84 L485.8 360.74 L486.2 362.64 L486.6 364.66 L487 366.55 L487.4 367.68 L487.8 368.42 L488 368.6" fill="none" stroke="#1a0014" stroke-width="0.62"/>
</g>
<rect x="474.6" y="207.2" width="45.2" height="165.6" fill="none" stroke="#a8a8a8" stroke-width="0.45"/>
<g class="lab" transform="scale(0.1)" font-size="42.4" fill="#1a1a1a" text-anchor="end">
<text x="4727" y="2130.5">Immunoregulatory interactions between a Lymphoid</text>
<text x="4727" y="2175.5">and a non−Lymphoid cell</text>
<text x="4727" y="2212.83">Antigen activates B Cell Receptor (BCR) leading to</text>
<text x="4727" y="2257.83">generation of second messengers</text>
<text x="4727" y="2317.58">Generation of second messenger molecules</text>
<text x="4727" y="2399.76">Innate Immune System</text>
<text x="4727" y="2481.85">FCERI mediated Ca+2 mobilization</text>
<text x="4727" y="2563.87">Neutrophil degranulation</text>
<text x="4727" y="2645.81">Interleukin−2 family signaling</text>
<text x="4727" y="2727.68">Interferon gamma signaling</text>
<text x="4727" y="2809.47">Costimulation by the CD28 family</text>
<text x="4727" y="2891.17">Chemokine receptors bind chemokines</text>
<text x="4727" y="2972.81">Phosphorylation of CD3 and TCR zeta chains</text>
<text x="4727" y="3054.36">Interferon alpha/beta signaling</text>
<text x="4727" y="3135.84">Adaptive Immune System</text>
<text x="4727" y="3217.24">Interleukin−10 signaling</text>
<text x="4727" y="3298.56">SUMOylation of chromatin organization proteins</text>
<text x="4727" y="3379.8">Mitotic Spindle Checkpoint</text>
<text x="4727" y="3438.47">Amplification of signal from unattached</text>
<text x="4727" y="3483.47">kinetochores via a MAD2 inhibitory signal</text>
<text x="4727" y="3542.06">Amplification of signal from the kinetochores</text>
<text x="4727" y="3623.07">Resolution of Sister Chromatid Cohesion</text>
<text x="4727" y="3681.5">Activation of ATR in response to replication</text>
<text x="4727" y="3726.5">stress</text>
</g>
<g stroke="#444" stroke-width="0.5">
<line x1="473.3" y1="213.5" x2="474.6" y2="213.5"/>
<line x1="473.3" y1="221.73" x2="474.6" y2="221.73"/>
<line x1="473.3" y1="229.96" x2="474.6" y2="229.96"/>
<line x1="473.3" y1="238.18" x2="474.6" y2="238.18"/>
<line x1="473.3" y1="246.39" x2="474.6" y2="246.39"/>
<line x1="473.3" y1="254.59" x2="474.6" y2="254.59"/>
<line x1="473.3" y1="262.78" x2="474.6" y2="262.78"/>
<line x1="473.3" y1="270.97" x2="474.6" y2="270.97"/>
<line x1="473.3" y1="279.15" x2="474.6" y2="279.15"/>
<line x1="473.3" y1="287.32" x2="474.6" y2="287.32"/>
<line x1="473.3" y1="295.48" x2="474.6" y2="295.48"/>
<line x1="473.3" y1="303.64" x2="474.6" y2="303.64"/>
<line x1="473.3" y1="311.78" x2="474.6" y2="311.78"/>
<line x1="473.3" y1="319.92" x2="474.6" y2="319.92"/>
<line x1="473.3" y1="328.06" x2="474.6" y2="328.06"/>
<line x1="473.3" y1="336.18" x2="474.6" y2="336.18"/>
<line x1="473.3" y1="344.3" x2="474.6" y2="344.3"/>
<line x1="473.3" y1="352.41" x2="474.6" y2="352.41"/>
<line x1="473.3" y1="360.51" x2="474.6" y2="360.51"/>
<line x1="473.3" y1="368.6" x2="474.6" y2="368.6"/>
<line x1="483.7" y1="372.8" x2="483.7" y2="374.1"/>
<line x1="494" y1="372.8" x2="494" y2="374.1"/>
<line x1="504.1" y1="372.8" x2="504.1" y2="374.1"/>
<line x1="514.2" y1="372.8" x2="514.2" y2="374.1"/>
</g>
<g class="lab" transform="scale(0.1)" font-size="42" fill="#1a1a1a" text-anchor="middle">
<text x="4837" y="3777">−0.5</text>
<text x="4940" y="3777">0.0</text>
<text x="5041" y="3777">0.5</text>
<text x="5142" y="3777">1.0</text>
</g>
<text transform="scale(0.1)" x="4971" y="2056" font-size="71" font-weight="bold" fill="#000" stroke="#000" stroke-width="1.2" text-anchor="middle">TBC1D10C</text>
<text transform="scale(0.1)" x="5242" y="2778" font-size="33" fill="#222">p.adjust</text>
<rect x="524.6" y="280" width="5.5" height="26.3" fill="#cc0090"/>
<path d="M524.6 293.15 h1.1 M530.1 293.15 h-1.1" stroke="#fff" stroke-width="0.3" fill="none"/>
<text transform="scale(0.1)" x="5313" y="2943" font-size="27.2" fill="#111">0.01284469</text>
</svg>
</body>
</html>
